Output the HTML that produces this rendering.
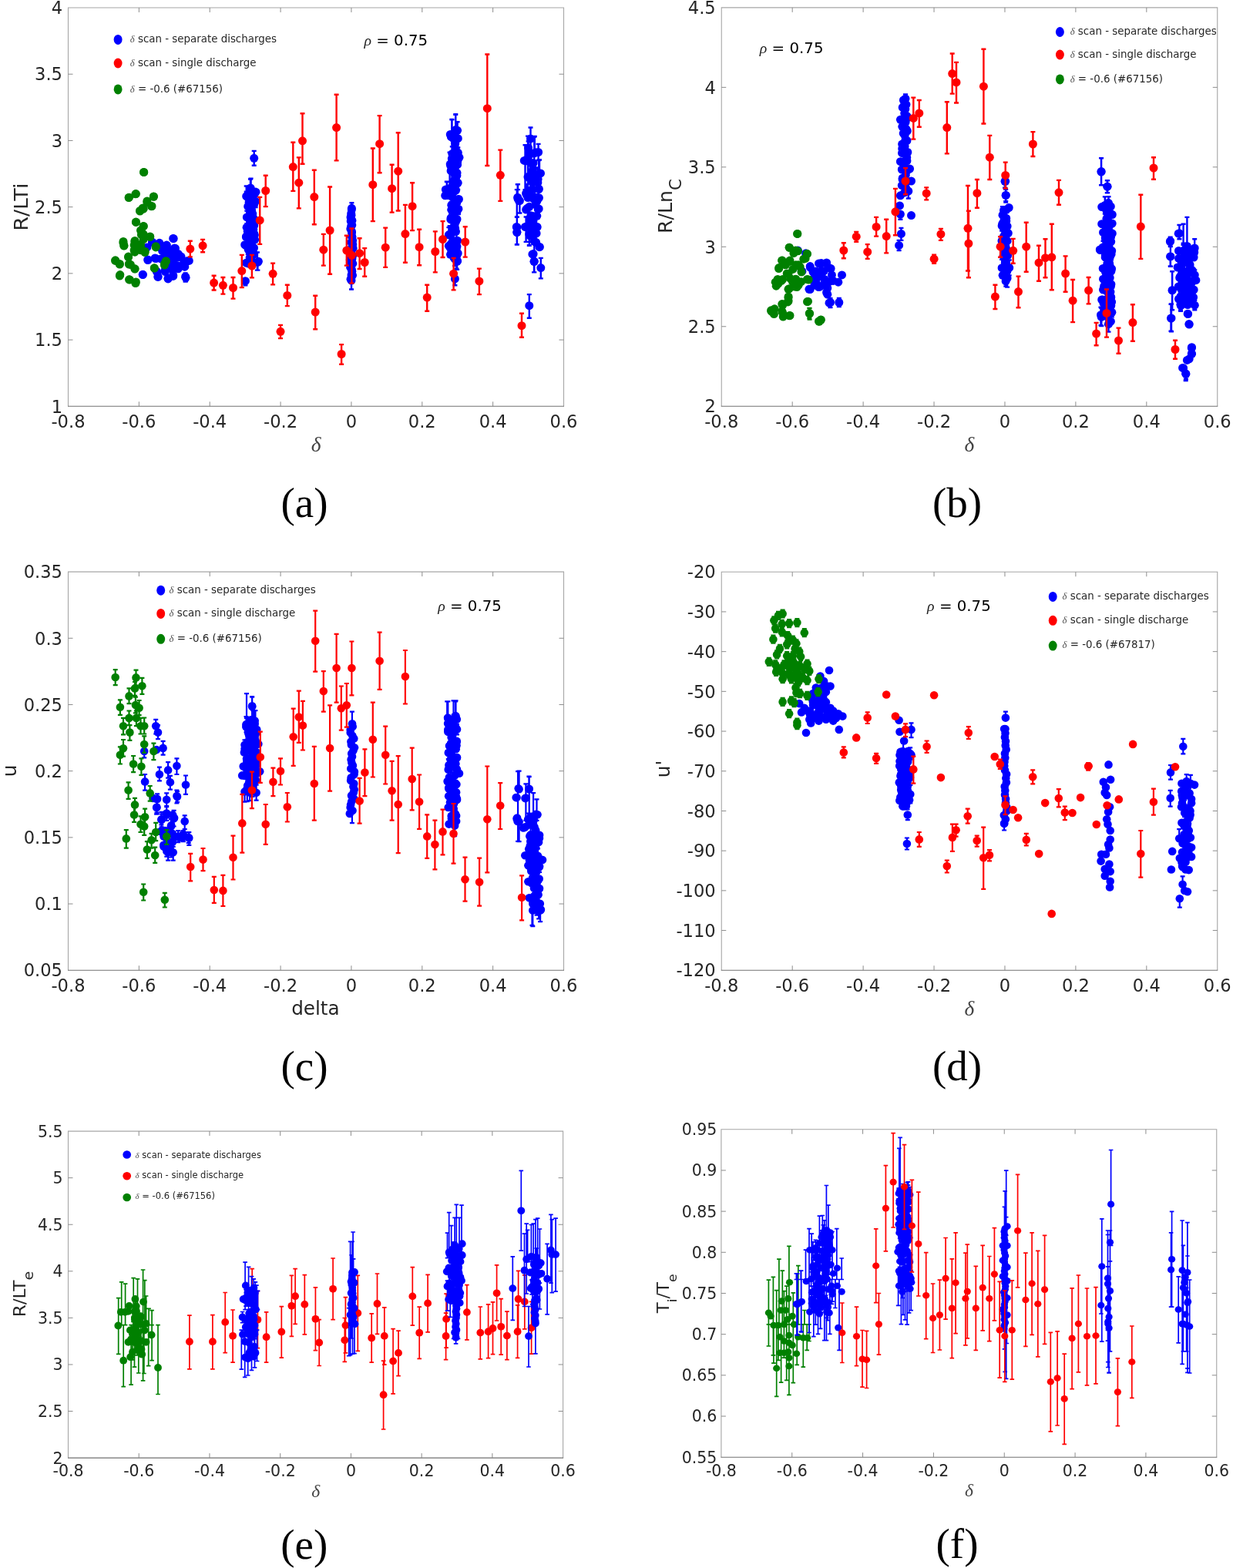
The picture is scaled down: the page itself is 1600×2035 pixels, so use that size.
<!DOCTYPE html>
<html><head><meta charset="utf-8"><title>Figure</title><style>
html,body{margin:0;padding:0;background:#fff;overflow:hidden;}
svg{display:block;}
</style></head><body>
<svg width="1600" height="2035" viewBox="0 0 1600 2035">
<rect width="1600" height="2035" fill="#fff"/>
<g font-family="'DejaVu Sans','Liberation Sans',sans-serif" font-size="22.6" fill="#262626"><path d="M88.5 527.3V10.0H731.5V527.3" fill="none" stroke="#a6a6a6" stroke-width="1.1"/><path d="M88.0 527.3H732.0" fill="none" stroke="#707070" stroke-width="1.1"/><text x="88.50" y="555.40" text-anchor="middle">-0.8</text><text x="180.36" y="555.40" text-anchor="middle">-0.6</text><text x="272.21" y="555.40" text-anchor="middle">-0.4</text><text x="364.07" y="555.40" text-anchor="middle">-0.2</text><text x="455.93" y="555.40" text-anchor="middle">0</text><text x="547.79" y="555.40" text-anchor="middle">0.2</text><text x="639.64" y="555.40" text-anchor="middle">0.4</text><text x="731.50" y="555.40" text-anchor="middle">0.6</text><text x="81.00" y="535.54" text-anchor="end">1</text><text x="81.00" y="449.32" text-anchor="end">1.5</text><text x="81.00" y="363.10" text-anchor="end">2</text><text x="81.00" y="276.89" text-anchor="end">2.5</text><text x="81.00" y="190.67" text-anchor="end">3</text><text x="81.00" y="104.45" text-anchor="end">3.5</text><text x="81.00" y="18.24" text-anchor="end">4</text><path d="M180.36 527.3v-6M180.36 10.0v6M272.21 527.3v-6M272.21 10.0v6M364.07 527.3v-6M364.07 10.0v6M455.93 527.3v-6M455.93 10.0v6M547.79 527.3v-6M547.79 10.0v6M639.64 527.3v-6M639.64 10.0v6M88.5 441.08h6M731.5 441.08h-6M88.5 354.87h6M731.5 354.87h-6M88.5 268.65h6M731.5 268.65h-6M88.5 182.43h6M731.5 182.43h-6M88.5 96.22h6M731.5 96.22h-6" stroke="#8c8c8c" stroke-width="1" fill="none"/></g>
<clipPath id="ca"><rect x="88.5" y="10.0" width="643.00" height="517.30"/></clipPath>
<g clip-path="url(#ca)">
<path d="M240.6 354.4V365.6M237.6 354.4h6.0M237.6 365.6h6.0M329.7 195.9V214.7M326.7 195.9h6.0M326.7 214.7h6.0M325.0 232.5V244.7M322.0 232.5h6.0M322.0 244.7h6.0M334.4 340.3V350.6M331.4 340.3h6.0M331.4 350.6h6.0M318.4 364.7V370.3M315.4 364.7h6.0M315.4 370.3h6.0M456.4 263.2V270.3M453.4 263.2h6.0M453.4 270.3h6.0M456.0 364.0V375.5M453.0 364.0h6.0M453.0 375.5h6.0M591.3 148.3V168.6M588.3 148.3h6.0M588.3 168.6h6.0M586.3 155.0V177.5M583.3 155.0h6.0M583.3 177.5h6.0M579.8 235.8V246.4M576.8 235.8h6.0M576.8 246.4h6.0M582.4 295.1V304.8M579.4 295.1h6.0M579.4 304.8h6.0M593.1 339.3V349.9M590.1 339.3h6.0M590.1 349.9h6.0M590.4 361.9V370.2M587.4 361.9h6.0M587.4 370.2h6.0M688.5 165.6V180.1M685.5 165.6h6.0M685.5 180.1h6.0M693.8 176.9V198.7M690.8 176.9h6.0M690.8 198.7h6.0M682.4 188.1V208.1M679.4 188.1h6.0M679.4 208.1h6.0M700.0 207.5V225.2M697.0 207.5h6.0M697.0 225.2h6.0M671.7 239.4V256.2M668.7 239.4h6.0M668.7 256.2h6.0M674.4 260.6V276.5M671.4 260.6h6.0M671.4 276.5h6.0M670.9 281.8V295.1M667.9 281.8h6.0M667.9 295.1h6.0M670.9 301.3V317.2M667.9 301.3h6.0M667.9 317.2h6.0M686.8 303.9V318.1M683.8 303.9h6.0M683.8 318.1h6.0M695.6 304.8V314.5M692.6 304.8h6.0M692.6 314.5h6.0M693.0 339.3V353.4M690.0 339.3h6.0M690.0 353.4h6.0M701.8 334.9V361.4M698.8 334.9h6.0M698.8 361.4h6.0M686.8 382.1V412.7M683.8 382.1h6.0M683.8 412.7h6.0M324.7 241.4V263.0M321.7 241.4h6.0M321.7 263.0h6.0M324.0 256.6V273.5M321.0 256.6h6.0M321.0 273.5h6.0M321.7 261.2V274.6M318.7 261.2h6.0M318.7 274.6h6.0M325.3 260.9V283.7M322.3 260.9h6.0M322.3 283.7h6.0M320.3 273.6V290.2M317.3 273.6h6.0M317.3 290.2h6.0M325.8 281.7V298.9M322.8 281.7h6.0M322.8 298.9h6.0M322.5 294.4V313.7M319.5 294.4h6.0M319.5 313.7h6.0M324.6 301.6V315.6M321.6 301.6h6.0M321.6 315.6h6.0M327.3 301.0V319.0M324.3 301.0h6.0M324.3 319.0h6.0M321.8 306.6V329.7M318.8 306.6h6.0M318.8 329.7h6.0M324.2 317.4V336.2M321.2 317.4h6.0M321.2 336.2h6.0M330.2 244.9V258.9M327.2 244.9h6.0M327.2 258.9h6.0M331.6 253.4V269.0M328.6 253.4h6.0M328.6 269.0h6.0M326.6 265.0V281.3M323.6 265.0h6.0M323.6 281.3h6.0M326.8 281.3V301.8M323.8 281.3h6.0M323.8 301.8h6.0M328.8 291.3V304.8M325.8 291.3h6.0M325.8 304.8h6.0M330.4 298.6V311.5M327.4 298.6h6.0M327.4 311.5h6.0M324.6 316.7V331.9M321.6 316.7h6.0M321.6 331.9h6.0M325.6 231.6V248.8M322.6 231.6h6.0M322.6 248.8h6.0M319.7 241.5V248.8M316.7 241.5h6.0M316.7 248.8h6.0M333.9 327.5V350.6M330.9 327.5h6.0M330.9 350.6h6.0M589.2 169.5V192.4M586.2 169.5h6.0M586.2 192.4h6.0M591.4 187.6V202.9M588.4 187.6h6.0M588.4 202.9h6.0M586.8 190.3V208.9M583.8 190.3h6.0M583.8 208.9h6.0M584.7 208.2V222.0M581.7 208.2h6.0M581.7 222.0h6.0M591.1 221.6V241.3M588.1 221.6h6.0M588.1 241.3h6.0M587.6 244.0V256.5M584.6 244.0h6.0M584.6 256.5h6.0M586.9 317.7V336.4M583.9 317.7h6.0M583.9 336.4h6.0M590.1 327.2V345.1M587.1 327.2h6.0M587.1 345.1h6.0M593.6 158.2V180.4M590.6 158.2h6.0M590.6 180.4h6.0M594.3 167.8V191.5M591.3 167.8h6.0M591.3 191.5h6.0M590.7 176.7V195.6M587.7 176.7h6.0M587.7 195.6h6.0M593.6 204.3V223.1M590.6 204.3h6.0M590.6 223.1h6.0M591.0 206.4V225.8M588.0 206.4h6.0M588.0 225.8h6.0M589.0 209.5V226.9M586.0 209.5h6.0M586.0 226.9h6.0M589.5 216.2V234.2M586.5 216.2h6.0M586.5 234.2h6.0M591.3 233.3V247.4M588.3 233.3h6.0M588.3 247.4h6.0M588.7 238.7V258.9M585.7 238.7h6.0M585.7 258.9h6.0M594.9 264.4V278.0M591.9 264.4h6.0M591.9 278.0h6.0M589.6 288.5V303.1M586.6 288.5h6.0M586.6 303.1h6.0M590.5 308.8V325.5M587.5 308.8h6.0M587.5 325.5h6.0M592.8 323.6V339.4M589.8 323.6h6.0M589.8 339.4h6.0M591.2 148.8V246.1M588.2 148.8h6.0M588.2 246.1h6.0M586.5 155.3V246.1M583.5 155.3h6.0M583.5 246.1h6.0M594.2 181.3V246.1M591.2 181.3h6.0M591.2 246.1h6.0M583.6 197.8V246.1M580.6 197.8h6.0M580.6 246.1h6.0M580.0 236.1V246.1M577.0 236.1h6.0M577.0 246.1h6.0M592.4 293.3V348.7M589.4 293.3h6.0M589.4 348.7h6.0M583.6 293.3V333.4M580.6 293.3h6.0M580.6 333.4h6.0M685.6 183.4V200.4M682.6 183.4h6.0M682.6 200.4h6.0M685.1 198.1V213.1M682.1 198.1h6.0M682.1 213.1h6.0M691.1 282.5V297.0M688.1 282.5h6.0M688.1 297.0h6.0M698.6 186.9V208.2M695.6 186.9h6.0M695.6 208.2h6.0M697.9 217.4V236.3M694.9 217.4h6.0M694.9 236.3h6.0M697.9 227.9V245.8M694.9 227.9h6.0M694.9 245.8h6.0M690.4 235.7V256.2M687.4 235.7h6.0M687.4 256.2h6.0M696.9 252.3V269.7M693.9 252.3h6.0M693.9 269.7h6.0M690.7 276.5V289.0M687.7 276.5h6.0M687.7 289.0h6.0M692.0 276.7V296.7M689.0 276.7h6.0M689.0 296.7h6.0M692.7 283.7V300.4M689.7 283.7h6.0M689.7 300.4h6.0M688.5 165.4V246.1M685.5 165.4h6.0M685.5 246.1h6.0M685.0 176.6V246.1M682.0 176.6h6.0M682.0 246.1h6.0M693.3 177.7V246.1M690.3 177.7h6.0M690.3 246.1h6.0M681.5 188.3V246.1M678.5 188.3h6.0M678.5 246.1h6.0M699.2 207.8V246.1M696.2 207.8h6.0M696.2 246.1h6.0M672.0 239.1V246.1M669.0 239.1h6.0M669.0 246.1h6.0M670.8 281.5V246.1M667.8 281.5h6.0M667.8 246.1h6.0M683.8 239.1V246.1M680.8 239.1h6.0M680.8 246.1h6.0M670.8 281.5V317.5M667.8 281.5h6.0M667.8 317.5h6.0M693.3 281.5V353.4M690.3 281.5h6.0M690.3 353.4h6.0M682.6 281.5V313.9M679.6 281.5h6.0M679.6 313.9h6.0M686.8 281.5V318.7M683.8 281.5h6.0M683.8 318.7h6.0M241.1 360.3V365.0M238.1 360.3h6.0M238.1 365.0h6.0" stroke="#0000ff" stroke-width="2.4" fill="none"/>
<g fill="#0000ff"><circle cx="224.7" cy="309.4" r="5.5"/><circle cx="197.5" cy="314.1" r="5.5"/><circle cx="206.9" cy="316.9" r="5.5"/><circle cx="216.2" cy="318.8" r="5.5"/><circle cx="227.5" cy="322.5" r="5.5"/><circle cx="212.5" cy="326.2" r="5.5"/><circle cx="221.9" cy="330.0" r="5.5"/><circle cx="231.2" cy="333.8" r="5.5"/><circle cx="191.9" cy="337.5" r="5.5"/><circle cx="202.2" cy="335.6" r="5.5"/><circle cx="212.5" cy="335.6" r="5.5"/><circle cx="223.8" cy="337.5" r="5.5"/><circle cx="238.8" cy="339.4" r="5.5"/><circle cx="245.3" cy="338.4" r="5.5"/><circle cx="220.0" cy="345.0" r="5.5"/><circle cx="231.2" cy="345.0" r="5.5"/><circle cx="239.7" cy="345.9" r="5.5"/><circle cx="185.3" cy="356.2" r="5.5"/><circle cx="204.1" cy="353.4" r="5.5"/><circle cx="205.0" cy="359.1" r="5.5"/><circle cx="214.4" cy="352.5" r="5.5"/><circle cx="218.1" cy="361.9" r="5.5"/><circle cx="224.7" cy="357.2" r="5.5"/><circle cx="231.2" cy="348.8" r="5.5"/><circle cx="240.6" cy="359.1" r="5.5"/><circle cx="329.7" cy="205.3" r="5.5"/><circle cx="325.0" cy="244.7" r="5.5"/><circle cx="320.3" cy="255.0" r="5.5"/><circle cx="327.8" cy="251.2" r="5.5"/><circle cx="323.1" cy="262.5" r="5.5"/><circle cx="329.7" cy="265.3" r="5.5"/><circle cx="327.8" cy="277.5" r="5.5"/><circle cx="325.0" cy="285.0" r="5.5"/><circle cx="329.7" cy="292.5" r="5.5"/><circle cx="321.2" cy="300.0" r="5.5"/><circle cx="326.9" cy="303.8" r="5.5"/><circle cx="319.4" cy="307.5" r="5.5"/><circle cx="330.6" cy="311.2" r="5.5"/><circle cx="319.4" cy="318.8" r="5.5"/><circle cx="327.8" cy="322.5" r="5.5"/><circle cx="329.7" cy="330.0" r="5.5"/><circle cx="325.0" cy="335.6" r="5.5"/><circle cx="319.4" cy="341.2" r="5.5"/><circle cx="334.4" cy="340.3" r="5.5"/><circle cx="318.4" cy="364.7" r="5.5"/><circle cx="456.4" cy="270.3" r="5.5"/><circle cx="456.0" cy="279.2" r="5.5"/><circle cx="456.9" cy="286.2" r="5.5"/><circle cx="455.7" cy="293.3" r="5.5"/><circle cx="456.4" cy="300.4" r="5.5"/><circle cx="456.9" cy="307.4" r="5.5"/><circle cx="456.0" cy="314.5" r="5.5"/><circle cx="456.4" cy="321.6" r="5.5"/><circle cx="455.7" cy="328.7" r="5.5"/><circle cx="456.9" cy="335.7" r="5.5"/><circle cx="456.0" cy="342.8" r="5.5"/><circle cx="456.4" cy="349.9" r="5.5"/><circle cx="456.0" cy="357.0" r="5.5"/><circle cx="456.0" cy="364.0" r="5.5"/><circle cx="591.3" cy="168.6" r="5.5"/><circle cx="586.3" cy="177.5" r="5.5"/><circle cx="587.7" cy="199.6" r="5.5"/><circle cx="594.8" cy="204.5" r="5.5"/><circle cx="585.6" cy="212.8" r="5.5"/><circle cx="591.3" cy="224.7" r="5.5"/><circle cx="593.1" cy="237.1" r="5.5"/><circle cx="579.8" cy="246.4" r="5.5"/><circle cx="581.6" cy="253.5" r="5.5"/><circle cx="593.9" cy="258.8" r="5.5"/><circle cx="586.9" cy="265.0" r="5.5"/><circle cx="591.3" cy="273.8" r="5.5"/><circle cx="587.4" cy="280.0" r="5.5"/><circle cx="591.3" cy="288.0" r="5.5"/><circle cx="590.4" cy="296.8" r="5.5"/><circle cx="582.4" cy="304.8" r="5.5"/><circle cx="584.2" cy="321.6" r="5.5"/><circle cx="591.3" cy="320.7" r="5.5"/><circle cx="593.1" cy="328.7" r="5.5"/><circle cx="586.0" cy="326.9" r="5.5"/><circle cx="593.1" cy="339.3" r="5.5"/><circle cx="590.4" cy="361.9" r="5.5"/><circle cx="688.5" cy="180.1" r="5.5"/><circle cx="693.8" cy="198.7" r="5.5"/><circle cx="682.4" cy="208.1" r="5.5"/><circle cx="689.4" cy="212.0" r="5.5"/><circle cx="700.0" cy="225.2" r="5.5"/><circle cx="686.8" cy="229.6" r="5.5"/><circle cx="699.2" cy="245.6" r="5.5"/><circle cx="671.7" cy="256.2" r="5.5"/><circle cx="674.4" cy="260.6" r="5.5"/><circle cx="683.2" cy="252.6" r="5.5"/><circle cx="692.1" cy="257.9" r="5.5"/><circle cx="699.2" cy="257.0" r="5.5"/><circle cx="684.1" cy="270.3" r="5.5"/><circle cx="698.3" cy="271.7" r="5.5"/><circle cx="690.3" cy="280.9" r="5.5"/><circle cx="670.9" cy="295.1" r="5.5"/><circle cx="683.2" cy="294.2" r="5.5"/><circle cx="695.6" cy="295.1" r="5.5"/><circle cx="670.9" cy="301.3" r="5.5"/><circle cx="686.8" cy="303.9" r="5.5"/><circle cx="695.6" cy="314.5" r="5.5"/><circle cx="700.0" cy="320.7" r="5.5"/><circle cx="692.1" cy="329.5" r="5.5"/><circle cx="693.0" cy="339.3" r="5.5"/><circle cx="701.8" cy="347.6" r="5.5"/><circle cx="686.8" cy="396.7" r="5.5"/><circle cx="456.3" cy="272.1" r="5.5"/><circle cx="455.7" cy="277.1" r="5.5"/><circle cx="455.0" cy="282.1" r="5.5"/><circle cx="455.2" cy="287.1" r="5.5"/><circle cx="456.8" cy="292.1" r="5.5"/><circle cx="454.8" cy="297.1" r="5.5"/><circle cx="456.5" cy="302.1" r="5.5"/><circle cx="456.6" cy="307.2" r="5.5"/><circle cx="457.6" cy="312.2" r="5.5"/><circle cx="457.7" cy="317.2" r="5.5"/><circle cx="458.1" cy="322.2" r="5.5"/><circle cx="455.7" cy="327.2" r="5.5"/><circle cx="457.5" cy="332.2" r="5.5"/><circle cx="454.3" cy="337.2" r="5.5"/><circle cx="457.8" cy="342.2" r="5.5"/><circle cx="454.7" cy="347.2" r="5.5"/><circle cx="456.8" cy="352.2" r="5.5"/><circle cx="457.5" cy="357.3" r="5.5"/><circle cx="455.0" cy="362.3" r="5.5"/><circle cx="324.7" cy="252.2" r="5.5"/><circle cx="322.6" cy="257.0" r="5.5"/><circle cx="324.0" cy="265.0" r="5.5"/><circle cx="321.7" cy="267.9" r="5.5"/><circle cx="325.3" cy="272.3" r="5.5"/><circle cx="326.4" cy="273.4" r="5.5"/><circle cx="320.3" cy="281.9" r="5.5"/><circle cx="325.8" cy="290.3" r="5.5"/><circle cx="326.9" cy="290.1" r="5.5"/><circle cx="320.1" cy="295.2" r="5.5"/><circle cx="322.5" cy="304.1" r="5.5"/><circle cx="324.6" cy="308.6" r="5.5"/><circle cx="323.1" cy="309.2" r="5.5"/><circle cx="327.3" cy="310.0" r="5.5"/><circle cx="321.8" cy="318.1" r="5.5"/><circle cx="324.2" cy="326.8" r="5.5"/><circle cx="322.3" cy="324.2" r="5.5"/><circle cx="324.1" cy="334.4" r="5.5"/><circle cx="325.5" cy="337.6" r="5.5"/><circle cx="332.0" cy="249.2" r="5.5"/><circle cx="327.4" cy="248.2" r="5.5"/><circle cx="330.2" cy="251.9" r="5.5"/><circle cx="331.6" cy="261.2" r="5.5"/><circle cx="324.4" cy="269.2" r="5.5"/><circle cx="326.6" cy="273.2" r="5.5"/><circle cx="325.2" cy="277.6" r="5.5"/><circle cx="327.7" cy="279.9" r="5.5"/><circle cx="327.4" cy="284.3" r="5.5"/><circle cx="326.8" cy="291.5" r="5.5"/><circle cx="328.8" cy="298.0" r="5.5"/><circle cx="328.0" cy="302.6" r="5.5"/><circle cx="330.4" cy="305.1" r="5.5"/><circle cx="329.3" cy="309.8" r="5.5"/><circle cx="326.6" cy="310.8" r="5.5"/><circle cx="326.3" cy="317.4" r="5.5"/><circle cx="328.9" cy="322.6" r="5.5"/><circle cx="324.6" cy="324.3" r="5.5"/><circle cx="325.0" cy="335.2" r="5.5"/><circle cx="325.6" cy="336.1" r="5.5"/><circle cx="325.1" cy="243.9" r="5.5"/><circle cx="319.7" cy="254.7" r="5.5"/><circle cx="329.5" cy="250.8" r="5.5"/><circle cx="328.5" cy="265.5" r="5.5"/><circle cx="326.5" cy="276.4" r="5.5"/><circle cx="329.5" cy="284.2" r="5.5"/><circle cx="321.6" cy="300.0" r="5.5"/><circle cx="319.7" cy="306.8" r="5.5"/><circle cx="329.5" cy="302.9" r="5.5"/><circle cx="317.7" cy="317.7" r="5.5"/><circle cx="329.5" cy="321.6" r="5.5"/><circle cx="322.6" cy="342.2" r="5.5"/><circle cx="335.4" cy="339.3" r="5.5"/><circle cx="584.3" cy="174.4" r="5.5"/><circle cx="589.2" cy="180.9" r="5.5"/><circle cx="591.4" cy="195.2" r="5.5"/><circle cx="586.8" cy="199.6" r="5.5"/><circle cx="586.3" cy="205.8" r="5.5"/><circle cx="589.9" cy="208.7" r="5.5"/><circle cx="584.7" cy="215.1" r="5.5"/><circle cx="585.1" cy="221.7" r="5.5"/><circle cx="591.3" cy="230.8" r="5.5"/><circle cx="591.1" cy="231.4" r="5.5"/><circle cx="585.4" cy="243.3" r="5.5"/><circle cx="587.6" cy="250.3" r="5.5"/><circle cx="585.9" cy="254.9" r="5.5"/><circle cx="585.8" cy="266.2" r="5.5"/><circle cx="592.0" cy="270.6" r="5.5"/><circle cx="585.7" cy="272.3" r="5.5"/><circle cx="585.1" cy="282.8" r="5.5"/><circle cx="584.9" cy="284.9" r="5.5"/><circle cx="589.8" cy="291.0" r="5.5"/><circle cx="589.1" cy="294.5" r="5.5"/><circle cx="587.6" cy="298.8" r="5.5"/><circle cx="585.0" cy="305.1" r="5.5"/><circle cx="588.1" cy="313.6" r="5.5"/><circle cx="585.3" cy="316.3" r="5.5"/><circle cx="588.9" cy="316.2" r="5.5"/><circle cx="586.9" cy="327.1" r="5.5"/><circle cx="584.5" cy="330.3" r="5.5"/><circle cx="590.1" cy="336.2" r="5.5"/><circle cx="593.6" cy="169.3" r="5.5"/><circle cx="594.3" cy="179.7" r="5.5"/><circle cx="590.7" cy="186.2" r="5.5"/><circle cx="594.3" cy="198.2" r="5.5"/><circle cx="588.0" cy="204.2" r="5.5"/><circle cx="593.7" cy="209.4" r="5.5"/><circle cx="593.6" cy="213.7" r="5.5"/><circle cx="591.0" cy="216.1" r="5.5"/><circle cx="589.0" cy="218.2" r="5.5"/><circle cx="589.5" cy="225.2" r="5.5"/><circle cx="592.9" cy="227.7" r="5.5"/><circle cx="592.3" cy="236.4" r="5.5"/><circle cx="588.7" cy="234.9" r="5.5"/><circle cx="591.3" cy="240.4" r="5.5"/><circle cx="591.6" cy="247.0" r="5.5"/><circle cx="588.7" cy="248.8" r="5.5"/><circle cx="591.3" cy="263.2" r="5.5"/><circle cx="592.9" cy="262.4" r="5.5"/><circle cx="594.9" cy="271.2" r="5.5"/><circle cx="593.1" cy="272.5" r="5.5"/><circle cx="593.0" cy="284.4" r="5.5"/><circle cx="589.6" cy="295.8" r="5.5"/><circle cx="589.5" cy="299.8" r="5.5"/><circle cx="591.5" cy="300.6" r="5.5"/><circle cx="593.7" cy="312.3" r="5.5"/><circle cx="590.5" cy="317.1" r="5.5"/><circle cx="592.1" cy="323.4" r="5.5"/><circle cx="592.8" cy="331.5" r="5.5"/><circle cx="591.2" cy="168.9" r="5.5"/><circle cx="585.4" cy="177.7" r="5.5"/><circle cx="596.0" cy="204.3" r="5.5"/><circle cx="584.2" cy="213.1" r="5.5"/><circle cx="593.0" cy="224.3" r="5.5"/><circle cx="594.2" cy="237.3" r="5.5"/><circle cx="578.3" cy="246.1" r="5.5"/><circle cx="577.7" cy="253.8" r="5.5"/><circle cx="595.4" cy="258.5" r="5.5"/><circle cx="593.0" cy="274.4" r="5.5"/><circle cx="587.1" cy="280.3" r="5.5"/><circle cx="591.2" cy="287.4" r="5.5"/><circle cx="590.7" cy="296.8" r="5.5"/><circle cx="583.0" cy="304.5" r="5.5"/><circle cx="582.4" cy="319.2" r="5.5"/><circle cx="593.0" cy="319.8" r="5.5"/><circle cx="594.2" cy="328.7" r="5.5"/><circle cx="593.6" cy="338.7" r="5.5"/><circle cx="685.6" cy="191.9" r="5.5"/><circle cx="690.1" cy="199.3" r="5.5"/><circle cx="685.1" cy="205.6" r="5.5"/><circle cx="692.1" cy="211.6" r="5.5"/><circle cx="691.6" cy="219.3" r="5.5"/><circle cx="690.4" cy="223.5" r="5.5"/><circle cx="692.1" cy="232.1" r="5.5"/><circle cx="686.6" cy="230.7" r="5.5"/><circle cx="691.2" cy="236.5" r="5.5"/><circle cx="685.1" cy="256.6" r="5.5"/><circle cx="688.1" cy="254.6" r="5.5"/><circle cx="686.9" cy="268.3" r="5.5"/><circle cx="688.9" cy="279.7" r="5.5"/><circle cx="687.7" cy="283.4" r="5.5"/><circle cx="687.3" cy="289.5" r="5.5"/><circle cx="691.1" cy="289.7" r="5.5"/><circle cx="690.7" cy="299.8" r="5.5"/><circle cx="687.9" cy="306.1" r="5.5"/><circle cx="698.6" cy="197.5" r="5.5"/><circle cx="697.9" cy="226.8" r="5.5"/><circle cx="698.1" cy="232.4" r="5.5"/><circle cx="697.9" cy="236.9" r="5.5"/><circle cx="690.4" cy="245.9" r="5.5"/><circle cx="691.4" cy="245.8" r="5.5"/><circle cx="690.5" cy="253.2" r="5.5"/><circle cx="696.9" cy="261.0" r="5.5"/><circle cx="695.0" cy="259.9" r="5.5"/><circle cx="694.9" cy="265.6" r="5.5"/><circle cx="690.7" cy="282.8" r="5.5"/><circle cx="692.0" cy="286.7" r="5.5"/><circle cx="692.7" cy="292.0" r="5.5"/><circle cx="697.1" cy="294.7" r="5.5"/><circle cx="696.1" cy="302.9" r="5.5"/><circle cx="695.0" cy="197.8" r="5.5"/><circle cx="680.3" cy="208.4" r="5.5"/><circle cx="701.5" cy="224.9" r="5.5"/><circle cx="685.0" cy="229.6" r="5.5"/><circle cx="699.2" cy="245.0" r="5.5"/><circle cx="682.6" cy="250.8" r="5.5"/><circle cx="699.2" cy="256.7" r="5.5"/><circle cx="699.2" cy="270.9" r="5.5"/><circle cx="682.6" cy="272.1" r="5.5"/><circle cx="696.8" cy="280.3" r="5.5"/><circle cx="681.5" cy="294.5" r="5.5"/><circle cx="696.8" cy="294.5" r="5.5"/><circle cx="687.4" cy="305.1" r="5.5"/><circle cx="693.3" cy="313.3" r="5.5"/><circle cx="700.3" cy="320.4" r="5.5"/><circle cx="690.9" cy="329.9" r="5.5"/><circle cx="693.3" cy="339.3" r="5.5"/><circle cx="672.0" cy="257.9" r="5.5"/><circle cx="673.2" cy="260.3" r="5.5"/><circle cx="670.3" cy="294.5" r="5.5"/><circle cx="670.8" cy="301.6" r="5.5"/><circle cx="225.2" cy="309.7" r="5.5"/><circle cx="197.5" cy="314.4" r="5.5"/><circle cx="206.9" cy="315.3" r="5.5"/><circle cx="216.2" cy="318.1" r="5.5"/><circle cx="226.6" cy="321.9" r="5.5"/><circle cx="190.9" cy="320.9" r="5.5"/><circle cx="210.6" cy="325.6" r="5.5"/><circle cx="220.0" cy="324.7" r="5.5"/><circle cx="231.2" cy="329.4" r="5.5"/><circle cx="235.0" cy="333.1" r="5.5"/><circle cx="191.9" cy="336.9" r="5.5"/><circle cx="201.2" cy="335.0" r="5.5"/><circle cx="208.7" cy="335.9" r="5.5"/><circle cx="219.1" cy="331.2" r="5.5"/><circle cx="225.6" cy="335.9" r="5.5"/><circle cx="242.5" cy="338.7" r="5.5"/><circle cx="239.7" cy="346.2" r="5.5"/><circle cx="229.4" cy="344.4" r="5.5"/><circle cx="223.7" cy="350.0" r="5.5"/><circle cx="214.4" cy="350.0" r="5.5"/><circle cx="203.1" cy="351.9" r="5.5"/><circle cx="205.0" cy="359.4" r="5.5"/><circle cx="218.1" cy="361.2" r="5.5"/><circle cx="224.7" cy="358.4" r="5.5"/><circle cx="185.3" cy="356.6" r="5.5"/><circle cx="241.1" cy="360.3" r="5.5"/></g>
<path d="M246.8 312.8V333.4M243.8 312.8h6.0M243.8 333.4h6.0M263.1 310.9V327.2M260.1 310.9h6.0M260.1 327.2h6.0M277.6 357.8V376.5M274.6 357.8h6.0M274.6 376.5h6.0M289.4 360.0V381.6M286.4 360.0h6.0M286.4 381.6h6.0M302.5 360.0V387.6M299.5 360.0h6.0M299.5 387.6h6.0M313.8 330.9V373.1M310.8 330.9h6.0M310.8 373.1h6.0M326.9 330.9V360.4M323.9 330.9h6.0M323.9 360.4h6.0M337.2 255.9V316.9M334.2 255.9h6.0M334.2 316.9h6.0M344.7 227.8V268.1M341.7 227.8h6.0M341.7 268.1h6.0M354.1 341.6V369.4M351.1 341.6h6.0M351.1 369.4h6.0M372.8 369.8V397.1M369.8 369.8h6.0M369.8 397.1h6.0M364.0 421.9V439.1M361.0 421.9h6.0M361.0 439.1h6.0M380.3 184.7V247.9M377.3 184.7h6.0M377.3 247.9h6.0M387.8 204.4V270.4M384.8 204.4h6.0M384.8 270.4h6.0M392.5 147.2V212.8M389.5 147.2h6.0M389.5 212.8h6.0M407.8 220.8V291.2M404.8 220.8h6.0M404.8 291.2h6.0M436.6 122.7V208.4M433.6 122.7h6.0M433.6 208.4h6.0M428.1 242.5V355.7M425.1 242.5h6.0M425.1 355.7h6.0M419.8 303.9V344.6M416.8 303.9h6.0M416.8 344.6h6.0M409.2 383.8V427.2M406.2 383.8h6.0M406.2 427.2h6.0M443.1 447.1V472.8M440.1 447.1h6.0M440.1 472.8h6.0M449.8 305.7V344.6M446.8 305.7h6.0M446.8 344.6h6.0M456.4 296.5V367.6M453.4 296.5h6.0M453.4 367.6h6.0M466.6 309.2V349.0M463.6 309.2h6.0M463.6 349.0h6.0M473.2 322.1V358.7M470.2 322.1h6.0M470.2 358.7h6.0M483.8 192.5V287.1M480.8 192.5h6.0M480.8 287.1h6.0M492.6 150.1V224.3M489.6 150.1h6.0M489.6 224.3h6.0M500.2 295.6V346.9M497.2 295.6h6.0M497.2 346.9h6.0M508.6 213.7V275.6M505.6 213.7h6.0M505.6 275.6h6.0M516.7 172.2V273.5M513.7 172.2h6.0M513.7 273.5h6.0M525.9 265.9V340.7M522.9 265.9h6.0M522.9 340.7h6.0M535.1 237.2V299.1M532.1 237.2h6.0M532.1 299.1h6.0M544.1 297.7V344.2M541.1 297.7h6.0M541.1 344.2h6.0M554.2 369.7V403.8M551.2 369.7h6.0M551.2 403.8h6.0M564.8 300.4V353.4M561.8 300.4h6.0M561.8 353.4h6.0M574.5 287.1V334.0M571.5 287.1h6.0M571.5 334.0h6.0M588.6 334.9V376.4M585.6 334.9h6.0M585.6 376.4h6.0M603.7 294.2V333.6M600.7 294.2h6.0M600.7 333.6h6.0M621.9 348.6V382.1M618.9 348.6h6.0M618.9 382.1h6.0M632.3 70.5V215.0M629.3 70.5h6.0M629.3 215.0h6.0M649.3 194.6V260.9M646.3 194.6h6.0M646.3 260.9h6.0M677.0 406.8V437.8M674.0 406.8h6.0M674.0 437.8h6.0" stroke="#ff0000" stroke-width="2.4" fill="none"/>
<g fill="#ff0000"><circle cx="246.8" cy="323.1" r="5.5"/><circle cx="263.1" cy="318.8" r="5.5"/><circle cx="277.6" cy="367.1" r="5.5"/><circle cx="289.4" cy="370.3" r="5.5"/><circle cx="302.5" cy="373.5" r="5.5"/><circle cx="313.8" cy="351.6" r="5.5"/><circle cx="326.9" cy="345.0" r="5.5"/><circle cx="337.2" cy="285.9" r="5.5"/><circle cx="344.7" cy="247.5" r="5.5"/><circle cx="354.1" cy="355.3" r="5.5"/><circle cx="372.8" cy="383.4" r="5.5"/><circle cx="364.0" cy="430.3" r="5.5"/><circle cx="380.3" cy="216.6" r="5.5"/><circle cx="387.8" cy="237.2" r="5.5"/><circle cx="392.5" cy="182.8" r="5.5"/><circle cx="407.8" cy="255.6" r="5.5"/><circle cx="436.6" cy="165.6" r="5.5"/><circle cx="428.1" cy="299.0" r="5.5"/><circle cx="419.8" cy="324.2" r="5.5"/><circle cx="409.2" cy="405.1" r="5.5"/><circle cx="443.1" cy="459.5" r="5.5"/><circle cx="449.8" cy="325.1" r="5.5"/><circle cx="456.4" cy="331.3" r="5.5"/><circle cx="466.6" cy="328.7" r="5.5"/><circle cx="473.2" cy="340.5" r="5.5"/><circle cx="483.8" cy="239.7" r="5.5"/><circle cx="492.6" cy="186.7" r="5.5"/><circle cx="500.2" cy="321.2" r="5.5"/><circle cx="508.6" cy="244.7" r="5.5"/><circle cx="516.7" cy="222.2" r="5.5"/><circle cx="525.9" cy="303.6" r="5.5"/><circle cx="535.1" cy="267.7" r="5.5"/><circle cx="544.1" cy="320.7" r="5.5"/><circle cx="554.2" cy="386.1" r="5.5"/><circle cx="564.8" cy="326.5" r="5.5"/><circle cx="574.5" cy="310.6" r="5.5"/><circle cx="588.6" cy="355.2" r="5.5"/><circle cx="603.7" cy="314.0" r="5.5"/><circle cx="621.9" cy="364.9" r="5.5"/><circle cx="632.3" cy="140.7" r="5.5"/><circle cx="649.3" cy="227.3" r="5.5"/><circle cx="677.0" cy="422.7" r="5.5"/></g>
<g fill="#008000"><circle cx="186.6" cy="223.5" r="5.5"/><circle cx="167.1" cy="256.5" r="5.5"/><circle cx="175.9" cy="251.8" r="5.5"/><circle cx="199.4" cy="255.0" r="5.5"/><circle cx="190.9" cy="262.5" r="5.5"/><circle cx="196.6" cy="267.8" r="5.5"/><circle cx="181.6" cy="273.4" r="5.5"/><circle cx="185.3" cy="270.0" r="5.5"/><circle cx="176.5" cy="288.4" r="5.5"/><circle cx="186.2" cy="293.4" r="5.5"/><circle cx="182.5" cy="299.1" r="5.5"/><circle cx="183.4" cy="304.7" r="5.5"/><circle cx="194.7" cy="307.5" r="5.5"/><circle cx="160.0" cy="313.5" r="5.5"/><circle cx="160.9" cy="318.8" r="5.5"/><circle cx="175.0" cy="313.5" r="5.5"/><circle cx="175.9" cy="322.5" r="5.5"/><circle cx="182.5" cy="319.7" r="5.5"/><circle cx="188.1" cy="326.2" r="5.5"/><circle cx="175.0" cy="327.2" r="5.5"/><circle cx="202.2" cy="319.7" r="5.5"/><circle cx="166.6" cy="333.8" r="5.5"/><circle cx="149.7" cy="338.4" r="5.5"/><circle cx="155.3" cy="343.1" r="5.5"/><circle cx="167.5" cy="343.1" r="5.5"/><circle cx="175.0" cy="348.8" r="5.5"/><circle cx="215.3" cy="339.4" r="5.5"/><circle cx="213.4" cy="344.1" r="5.5"/><circle cx="200.3" cy="347.8" r="5.5"/><circle cx="155.3" cy="358.1" r="5.5"/><circle cx="167.5" cy="362.8" r="5.5"/><circle cx="175.9" cy="367.5" r="5.5"/><circle cx="186.7" cy="223.4" r="5.5"/><circle cx="167.5" cy="256.2" r="5.5"/><circle cx="176.4" cy="251.6" r="5.5"/><circle cx="199.4" cy="255.3" r="5.5"/><circle cx="190.9" cy="260.9" r="5.5"/><circle cx="197.0" cy="267.5" r="5.5"/><circle cx="181.6" cy="274.1" r="5.5"/><circle cx="186.2" cy="271.2" r="5.5"/><circle cx="176.4" cy="288.1" r="5.5"/><circle cx="186.2" cy="293.7" r="5.5"/><circle cx="183.4" cy="299.4" r="5.5"/><circle cx="186.2" cy="304.1" r="5.5"/><circle cx="194.7" cy="306.9" r="5.5"/><circle cx="160.0" cy="315.3" r="5.5"/><circle cx="160.9" cy="319.1" r="5.5"/><circle cx="175.0" cy="312.5" r="5.5"/><circle cx="174.1" cy="318.1" r="5.5"/><circle cx="182.5" cy="317.2" r="5.5"/><circle cx="186.2" cy="310.6" r="5.5"/><circle cx="174.1" cy="324.7" r="5.5"/><circle cx="182.5" cy="324.7" r="5.5"/><circle cx="188.1" cy="327.5" r="5.5"/><circle cx="202.2" cy="320.9" r="5.5"/><circle cx="166.6" cy="333.1" r="5.5"/><circle cx="149.7" cy="337.8" r="5.5"/><circle cx="155.3" cy="342.5" r="5.5"/><circle cx="167.5" cy="342.5" r="5.5"/><circle cx="175.0" cy="349.1" r="5.5"/><circle cx="200.3" cy="348.1" r="5.5"/><circle cx="215.3" cy="338.7" r="5.5"/><circle cx="213.4" cy="342.5" r="5.5"/><circle cx="155.8" cy="356.6" r="5.5"/><circle cx="168.4" cy="363.1" r="5.5"/><circle cx="176.4" cy="365.9" r="5.5"/><circle cx="169.4" cy="343.4" r="5.5"/><circle cx="176.9" cy="321.9" r="5.5"/></g>
</g>
<ellipse cx="153.1" cy="51.4" rx="5.45" ry="6.5" fill="#0000ff"/><text x="168.75" y="55.0" font-family="'DejaVu Sans','Liberation Sans',sans-serif" font-size="13.4" fill="#262626"><tspan font-family="'Liberation Serif','DejaVu Serif',serif" font-style="italic" font-size="12.7" fill="#555">δ</tspan> scan - separate discharges</text><ellipse cx="153.1" cy="82.0" rx="5.45" ry="6.5" fill="#ff0000"/><text x="168.75" y="86.0" font-family="'DejaVu Sans','Liberation Sans',sans-serif" font-size="13.4" fill="#262626"><tspan font-family="'Liberation Serif','DejaVu Serif',serif" font-style="italic" font-size="12.7" fill="#555">δ</tspan> scan - single discharge</text><ellipse cx="153.1" cy="115.9" rx="5.45" ry="6.5" fill="#008000"/><text x="168.75" y="119.5" font-family="'DejaVu Sans','Liberation Sans',sans-serif" font-size="13.4" fill="#262626"><tspan font-family="'Liberation Serif','DejaVu Serif',serif" font-style="italic" font-size="12.7" fill="#555">δ</tspan> = -0.6 (#67156)</text>
<text x="472.4" y="59.2" font-family="'DejaVu Sans','Liberation Sans',sans-serif" font-size="19.8" fill="#000"><tspan font-family="'Liberation Serif','DejaVu Serif',serif" font-style="italic" fill="#222">ρ</tspan> = 0.75</text>
<text x="410" y="585.6" font-family="'Liberation Serif','DejaVu Serif',serif" font-style="italic" font-size="27.4" fill="#444" text-anchor="middle">δ</text>
<text transform="translate(35.9 268.7) rotate(-90) scale(1.089 1)" font-family="'DejaVu Sans','Liberation Sans',sans-serif" font-size="24.7" fill="#262626" text-anchor="middle">R/LTi</text>
<text x="395" y="671" font-family="'Liberation Serif','DejaVu Serif',serif" font-size="55" fill="#000" text-anchor="middle">(a)</text>
<g font-family="'DejaVu Sans','Liberation Sans',sans-serif" font-size="22.6" fill="#262626"><path d="M936.25 527.25V9.9H1579.75V527.25" fill="none" stroke="#a6a6a6" stroke-width="1.1"/><path d="M935.75 527.25H1580.25" fill="none" stroke="#707070" stroke-width="1.1"/><text x="936.25" y="555.35" text-anchor="middle">-0.8</text><text x="1028.18" y="555.35" text-anchor="middle">-0.6</text><text x="1120.11" y="555.35" text-anchor="middle">-0.4</text><text x="1212.04" y="555.35" text-anchor="middle">-0.2</text><text x="1303.96" y="555.35" text-anchor="middle">0</text><text x="1395.89" y="555.35" text-anchor="middle">0.2</text><text x="1487.82" y="555.35" text-anchor="middle">0.4</text><text x="1579.75" y="555.35" text-anchor="middle">0.6</text><text x="928.75" y="535.49" text-anchor="end">2</text><text x="928.75" y="432.02" text-anchor="end">2.5</text><text x="928.75" y="328.55" text-anchor="end">3</text><text x="928.75" y="225.08" text-anchor="end">3.5</text><text x="928.75" y="121.61" text-anchor="end">4</text><text x="928.75" y="18.14" text-anchor="end">4.5</text><path d="M1028.18 527.25v-6M1028.18 9.9v6M1120.11 527.25v-6M1120.11 9.9v6M1212.04 527.25v-6M1212.04 9.9v6M1303.96 527.25v-6M1303.96 9.9v6M1395.89 527.25v-6M1395.89 9.9v6M1487.82 527.25v-6M1487.82 9.9v6M936.25 423.78h6M1579.75 423.78h-6M936.25 320.31h6M1579.75 320.31h-6M936.25 216.84h6M1579.75 216.84h-6M936.25 113.37h6M1579.75 113.37h-6" stroke="#8c8c8c" stroke-width="1" fill="none"/></g>
<clipPath id="cb"><rect x="936.25" y="9.9" width="643.50" height="517.35"/></clipPath>
<g clip-path="url(#cb)">
<path d="M1077.5 386.9V399.1M1074.5 386.9h6.0M1074.5 399.1h6.0M1088.8 386.9V398.1M1085.8 386.9h6.0M1085.8 398.1h6.0M1175.0 122.5V128.1M1172.0 122.5h6.0M1172.0 128.1h6.0M1178.8 248.1V257.5M1175.8 248.1h6.0M1175.8 257.5h6.0M1168.4 278.1V284.7M1165.4 278.1h6.0M1165.4 284.7h6.0M1169.4 295.9V311.9M1166.4 295.9h6.0M1166.4 311.9h6.0M1166.6 311.9V325.0M1163.6 311.9h6.0M1163.6 325.0h6.0M1304.7 235.3V244.5M1301.7 235.3h6.0M1301.7 244.5h6.0M1305.2 253.4V261.3M1302.2 253.4h6.0M1302.2 261.3h6.0M1429.0 205.1V240.2M1426.0 205.1h6.0M1426.0 240.2h6.0M1436.8 234.3V250.2M1433.8 234.3h6.0M1433.8 250.2h6.0M1438.5 255.2V263.6M1435.5 255.2h6.0M1435.5 263.6h6.0M1429.3 399.7V423.1M1426.3 399.7h6.0M1426.3 423.1h6.0M1438.5 420.6V430.6M1435.5 420.6h6.0M1435.5 430.6h6.0M1530.4 292.0V310.3M1527.4 292.0h6.0M1527.4 310.3h6.0M1518.7 307.8V319.5M1515.7 307.8h6.0M1515.7 319.5h6.0M1518.7 332.9V345.4M1515.7 332.9h6.0M1515.7 345.4h6.0M1540.4 281.9V319.5M1537.4 281.9h6.0M1537.4 319.5h6.0M1532.1 395.5V403.9M1529.1 395.5h6.0M1529.1 403.9h6.0M1521.2 352.1V402.2M1518.2 352.1h6.0M1518.2 402.2h6.0M1519.5 394.7V429.8M1516.5 394.7h6.0M1516.5 429.8h6.0M1538.7 484.9V494.1M1535.7 484.9h6.0M1535.7 494.1h6.0M1301.0 268.1V290.3M1298.0 268.1h6.0M1298.0 290.3h6.0M1300.8 284.2V296.3M1297.8 284.2h6.0M1297.8 296.3h6.0M1300.1 286.7V299.5M1297.1 286.7h6.0M1297.1 299.5h6.0M1305.7 288.4V303.3M1302.7 288.4h6.0M1302.7 303.3h6.0M1304.6 294.4V318.0M1301.6 294.4h6.0M1301.6 318.0h6.0M1300.0 305.8V319.6M1297.0 305.8h6.0M1297.0 319.6h6.0M1306.0 312.9V334.3M1303.0 312.9h6.0M1303.0 334.3h6.0M1302.1 320.8V343.7M1299.1 320.8h6.0M1299.1 343.7h6.0M1300.1 336.8V358.7M1297.1 336.8h6.0M1297.1 358.7h6.0M1306.6 342.5V362.2M1303.6 342.5h6.0M1303.6 362.2h6.0M1305.7 273.8V292.7M1302.7 273.8h6.0M1302.7 292.7h6.0M1307.1 285.6V301.6M1304.1 285.6h6.0M1304.1 301.6h6.0M1304.9 313.1V326.3M1301.9 313.1h6.0M1301.9 326.3h6.0M1302.9 320.2V339.3M1299.9 320.2h6.0M1299.9 339.3h6.0M1303.9 322.5V345.6M1300.9 322.5h6.0M1300.9 345.6h6.0M1309.7 337.5V357.4M1306.7 337.5h6.0M1306.7 357.4h6.0M1306.9 341.8V361.4M1303.9 341.8h6.0M1303.9 361.4h6.0M1307.1 349.7V372.6M1304.1 349.7h6.0M1304.1 372.6h6.0M1305.3 351.0V371.5M1302.3 351.0h6.0M1302.3 371.5h6.0M1304.0 231.8V243.6M1301.0 231.8h6.0M1301.0 243.6h6.0M1305.2 245.9V262.5M1302.2 245.9h6.0M1302.2 262.5h6.0M1535.5 317.7V333.2M1532.5 317.7h6.0M1532.5 333.2h6.0M1529.6 325.3V345.5M1526.6 325.3h6.0M1526.6 345.5h6.0M1537.1 329.6V349.2M1534.1 329.6h6.0M1534.1 349.2h6.0M1530.7 349.5V371.4M1527.7 349.5h6.0M1527.7 371.4h6.0M1534.9 368.3V384.7M1531.9 368.3h6.0M1531.9 384.7h6.0M1532.1 376.0V393.3M1529.1 376.0h6.0M1529.1 393.3h6.0M1532.0 387.3V402.4M1529.0 387.3h6.0M1529.0 402.4h6.0M1534.4 331.2V344.1M1531.4 331.2h6.0M1531.4 344.1h6.0M1533.5 336.1V349.3M1530.5 336.1h6.0M1530.5 349.3h6.0M1539.4 368.0V382.1M1536.4 368.0h6.0M1536.4 382.1h6.0M1540.3 327.1V344.5M1537.3 327.1h6.0M1537.3 344.5h6.0M1544.1 333.8V353.6M1541.1 333.8h6.0M1541.1 353.6h6.0M1539.6 358.5V370.9M1536.6 358.5h6.0M1536.6 370.9h6.0M1545.9 361.4V373.7M1542.9 361.4h6.0M1542.9 373.7h6.0M1539.4 375.3V397.6M1536.4 375.3h6.0M1536.4 397.6h6.0M1550.2 310.3V333.6M1547.2 310.3h6.0M1547.2 333.6h6.0M1550.3 350.4V363.1M1547.3 350.4h6.0M1547.3 363.1h6.0M1542.1 368.2V383.4M1539.1 368.2h6.0M1539.1 383.4h6.0M1546.4 377.2V395.2M1543.4 377.2h6.0M1543.4 395.2h6.0M1550.3 390.0V402.3M1547.3 390.0h6.0M1547.3 402.3h6.0M1518.9 320.0V345.9M1515.9 320.0h6.0M1515.9 345.9h6.0M1521.1 352.4V402.1M1518.1 352.4h6.0M1518.1 402.1h6.0M1520.0 394.5V430.2M1517.0 394.5h6.0M1517.0 430.2h6.0M1538.9 485.3V491.7M1535.9 485.3h6.0M1535.9 491.7h6.0M1535.6 290.8V315.6M1532.6 290.8h6.0M1532.6 315.6h6.0M1433.8 255.4V277.6M1430.8 255.4h6.0M1430.8 277.6h6.0M1434.5 283.2V296.3M1431.5 283.2h6.0M1431.5 296.3h6.0M1435.6 285.6V301.7M1432.6 285.6h6.0M1432.6 301.7h6.0M1431.5 290.6V312.8M1428.5 290.6h6.0M1428.5 312.8h6.0M1434.7 299.6V318.5M1431.7 299.6h6.0M1431.7 318.5h6.0M1434.3 314.7V333.8M1431.3 314.7h6.0M1431.3 333.8h6.0M1434.3 325.2V337.8M1431.3 325.2h6.0M1431.3 337.8h6.0M1434.2 323.2V344.7M1431.2 323.2h6.0M1431.2 344.7h6.0M1434.5 341.3V364.6M1431.5 341.3h6.0M1431.5 364.6h6.0M1435.2 354.9V370.8M1432.2 354.9h6.0M1432.2 370.8h6.0M1431.5 350.6V373.8M1428.5 350.6h6.0M1428.5 373.8h6.0M1434.2 360.7V378.1M1431.2 360.7h6.0M1431.2 378.1h6.0M1432.0 386.3V400.9M1429.0 386.3h6.0M1429.0 400.9h6.0M1436.9 386.8V407.0M1433.9 386.8h6.0M1433.9 407.0h6.0M1435.8 398.9V421.1M1432.8 398.9h6.0M1432.8 421.1h6.0M1437.7 269.5V288.0M1434.7 269.5h6.0M1434.7 288.0h6.0M1441.5 298.4V317.0M1438.5 298.4h6.0M1438.5 317.0h6.0M1441.7 303.0V324.3M1438.7 303.0h6.0M1438.7 324.3h6.0M1442.1 322.3V337.4M1439.1 322.3h6.0M1439.1 337.4h6.0M1440.1 336.5V353.0M1437.1 336.5h6.0M1437.1 353.0h6.0M1441.4 360.3V382.7M1438.4 360.3h6.0M1438.4 382.7h6.0M1437.0 368.0V385.6M1434.0 368.0h6.0M1434.0 385.6h6.0M1436.9 387.0V404.9M1433.9 387.0h6.0M1433.9 404.9h6.0M1442.9 399.2V411.4M1439.9 399.2h6.0M1439.9 411.4h6.0M1436.7 400.4V421.4M1433.7 400.4h6.0M1433.7 421.4h6.0M1429.1 205.4V240.4M1426.1 205.4h6.0M1426.1 240.4h6.0M1437.1 234.2V250.2M1434.1 234.2h6.0M1434.1 250.2h6.0M1428.5 398.8V422.2M1425.5 398.8h6.0M1425.5 422.2h6.0" stroke="#0000ff" stroke-width="2.4" fill="none"/>
<g fill="#0000ff"><circle cx="1035.3" cy="325.0" r="5.5"/><circle cx="1045.6" cy="328.8" r="5.5"/><circle cx="1040.9" cy="352.2" r="5.5"/><circle cx="1051.2" cy="345.6" r="5.5"/><circle cx="1062.5" cy="341.9" r="5.5"/><circle cx="1071.9" cy="341.9" r="5.5"/><circle cx="1075.6" cy="347.5" r="5.5"/><circle cx="1055.0" cy="353.1" r="5.5"/><circle cx="1066.2" cy="351.2" r="5.5"/><circle cx="1079.4" cy="356.9" r="5.5"/><circle cx="1092.5" cy="356.9" r="5.5"/><circle cx="1058.8" cy="362.5" r="5.5"/><circle cx="1070.0" cy="362.5" r="5.5"/><circle cx="1081.2" cy="364.4" r="5.5"/><circle cx="1087.8" cy="366.2" r="5.5"/><circle cx="1051.2" cy="375.6" r="5.5"/><circle cx="1064.4" cy="371.9" r="5.5"/><circle cx="1073.8" cy="373.8" r="5.5"/><circle cx="1073.8" cy="382.2" r="5.5"/><circle cx="1077.5" cy="392.5" r="5.5"/><circle cx="1088.8" cy="392.5" r="5.5"/><circle cx="1062.5" cy="356.9" r="5.5"/><circle cx="1070.0" cy="368.1" r="5.5"/><circle cx="1056.9" cy="370.0" r="5.5"/><circle cx="1175.0" cy="128.1" r="5.5"/><circle cx="1171.2" cy="139.4" r="5.5"/><circle cx="1175.9" cy="135.6" r="5.5"/><circle cx="1168.4" cy="155.3" r="5.5"/><circle cx="1176.9" cy="150.6" r="5.5"/><circle cx="1175.9" cy="167.5" r="5.5"/><circle cx="1172.2" cy="173.1" r="5.5"/><circle cx="1176.9" cy="182.5" r="5.5"/><circle cx="1174.1" cy="190.0" r="5.5"/><circle cx="1177.8" cy="197.5" r="5.5"/><circle cx="1168.4" cy="209.7" r="5.5"/><circle cx="1176.9" cy="208.8" r="5.5"/><circle cx="1170.3" cy="220.0" r="5.5"/><circle cx="1180.6" cy="219.1" r="5.5"/><circle cx="1171.2" cy="231.2" r="5.5"/><circle cx="1182.5" cy="235.0" r="5.5"/><circle cx="1170.3" cy="240.6" r="5.5"/><circle cx="1178.8" cy="248.1" r="5.5"/><circle cx="1168.4" cy="253.8" r="5.5"/><circle cx="1167.5" cy="266.9" r="5.5"/><circle cx="1168.4" cy="278.1" r="5.5"/><circle cx="1182.5" cy="279.6" r="5.5"/><circle cx="1169.4" cy="303.4" r="5.5"/><circle cx="1166.6" cy="318.4" r="5.5"/><circle cx="1172.4" cy="130.0" r="5.5"/><circle cx="1173.7" cy="135.7" r="5.5"/><circle cx="1174.8" cy="141.4" r="5.5"/><circle cx="1173.7" cy="147.1" r="5.5"/><circle cx="1177.6" cy="152.9" r="5.5"/><circle cx="1175.1" cy="158.6" r="5.5"/><circle cx="1170.8" cy="164.3" r="5.5"/><circle cx="1177.3" cy="170.0" r="5.5"/><circle cx="1174.1" cy="175.7" r="5.5"/><circle cx="1175.0" cy="181.4" r="5.5"/><circle cx="1170.6" cy="187.1" r="5.5"/><circle cx="1170.7" cy="192.9" r="5.5"/><circle cx="1170.5" cy="198.6" r="5.5"/><circle cx="1176.7" cy="204.3" r="5.5"/><circle cx="1170.3" cy="210.0" r="5.5"/><circle cx="1173.2" cy="215.7" r="5.5"/><circle cx="1177.0" cy="221.4" r="5.5"/><circle cx="1175.3" cy="227.1" r="5.5"/><circle cx="1171.1" cy="232.9" r="5.5"/><circle cx="1174.7" cy="238.6" r="5.5"/><circle cx="1175.8" cy="244.3" r="5.5"/><circle cx="1173.6" cy="250.0" r="5.5"/><circle cx="1304.7" cy="235.3" r="5.5"/><circle cx="1305.2" cy="253.4" r="5.5"/><circle cx="1429.0" cy="223.0" r="5.5"/><circle cx="1436.8" cy="242.2" r="5.5"/><circle cx="1438.5" cy="263.6" r="5.5"/><circle cx="1433.5" cy="269.4" r="5.5"/><circle cx="1441.9" cy="277.8" r="5.5"/><circle cx="1436.0" cy="283.6" r="5.5"/><circle cx="1433.5" cy="292.0" r="5.5"/><circle cx="1439.3" cy="293.6" r="5.5"/><circle cx="1441.9" cy="303.7" r="5.5"/><circle cx="1434.3" cy="308.7" r="5.5"/><circle cx="1438.5" cy="317.0" r="5.5"/><circle cx="1427.7" cy="324.5" r="5.5"/><circle cx="1438.5" cy="331.2" r="5.5"/><circle cx="1436.0" cy="345.4" r="5.5"/><circle cx="1441.9" cy="352.1" r="5.5"/><circle cx="1440.2" cy="360.5" r="5.5"/><circle cx="1432.7" cy="371.3" r="5.5"/><circle cx="1441.9" cy="368.8" r="5.5"/><circle cx="1441.0" cy="378.8" r="5.5"/><circle cx="1431.0" cy="388.9" r="5.5"/><circle cx="1440.2" cy="390.5" r="5.5"/><circle cx="1438.5" cy="398.9" r="5.5"/><circle cx="1429.3" cy="411.4" r="5.5"/><circle cx="1436.0" cy="406.4" r="5.5"/><circle cx="1438.5" cy="420.6" r="5.5"/><circle cx="1530.4" cy="302.8" r="5.5"/><circle cx="1518.7" cy="312.8" r="5.5"/><circle cx="1518.7" cy="332.9" r="5.5"/><circle cx="1537.1" cy="327.0" r="5.5"/><circle cx="1540.4" cy="319.5" r="5.5"/><circle cx="1547.1" cy="327.9" r="5.5"/><circle cx="1530.4" cy="347.1" r="5.5"/><circle cx="1540.4" cy="338.7" r="5.5"/><circle cx="1533.7" cy="360.5" r="5.5"/><circle cx="1550.4" cy="363.0" r="5.5"/><circle cx="1543.8" cy="353.8" r="5.5"/><circle cx="1537.1" cy="368.8" r="5.5"/><circle cx="1533.7" cy="377.2" r="5.5"/><circle cx="1542.1" cy="377.2" r="5.5"/><circle cx="1547.9" cy="385.5" r="5.5"/><circle cx="1535.4" cy="390.5" r="5.5"/><circle cx="1532.1" cy="395.5" r="5.5"/><circle cx="1541.2" cy="395.5" r="5.5"/><circle cx="1541.2" cy="407.2" r="5.5"/><circle cx="1542.9" cy="420.6" r="5.5"/><circle cx="1521.2" cy="376.8" r="5.5"/><circle cx="1519.5" cy="413.1" r="5.5"/><circle cx="1546.3" cy="451.5" r="5.5"/><circle cx="1546.3" cy="459.0" r="5.5"/><circle cx="1540.4" cy="467.4" r="5.5"/><circle cx="1534.6" cy="477.4" r="5.5"/><circle cx="1538.7" cy="484.9" r="5.5"/><circle cx="1040.2" cy="351.9" r="5.5"/><circle cx="1051.3" cy="347.1" r="5.5"/><circle cx="1049.9" cy="375.3" r="5.5"/><circle cx="1065.7" cy="341.6" r="5.5"/><circle cx="1072.6" cy="340.9" r="5.5"/><circle cx="1058.8" cy="351.9" r="5.5"/><circle cx="1065.7" cy="358.8" r="5.5"/><circle cx="1076.0" cy="365.7" r="5.5"/><circle cx="1062.3" cy="372.6" r="5.5"/><circle cx="1072.6" cy="379.5" r="5.5"/><circle cx="1076.0" cy="393.2" r="5.5"/><circle cx="1078.1" cy="348.5" r="5.5"/><circle cx="1055.4" cy="362.3" r="5.5"/><circle cx="1069.1" cy="351.9" r="5.5"/><circle cx="1058.8" cy="365.7" r="5.5"/><circle cx="1069.1" cy="369.1" r="5.5"/><circle cx="1302.5" cy="273.0" r="5.5"/><circle cx="1301.0" cy="279.2" r="5.5"/><circle cx="1304.6" cy="284.9" r="5.5"/><circle cx="1305.8" cy="286.7" r="5.5"/><circle cx="1300.8" cy="290.3" r="5.5"/><circle cx="1300.1" cy="293.1" r="5.5"/><circle cx="1305.7" cy="295.9" r="5.5"/><circle cx="1304.6" cy="306.2" r="5.5"/><circle cx="1304.0" cy="305.4" r="5.5"/><circle cx="1303.8" cy="311.5" r="5.5"/><circle cx="1300.0" cy="312.7" r="5.5"/><circle cx="1302.9" cy="321.8" r="5.5"/><circle cx="1306.0" cy="323.6" r="5.5"/><circle cx="1303.5" cy="333.4" r="5.5"/><circle cx="1302.1" cy="332.2" r="5.5"/><circle cx="1304.8" cy="340.1" r="5.5"/><circle cx="1300.1" cy="347.7" r="5.5"/><circle cx="1306.6" cy="352.3" r="5.5"/><circle cx="1301.1" cy="357.3" r="5.5"/><circle cx="1305.1" cy="364.9" r="5.5"/><circle cx="1309.2" cy="269.5" r="5.5"/><circle cx="1305.8" cy="272.3" r="5.5"/><circle cx="1305.7" cy="283.2" r="5.5"/><circle cx="1304.7" cy="287.1" r="5.5"/><circle cx="1307.1" cy="293.6" r="5.5"/><circle cx="1303.1" cy="297.1" r="5.5"/><circle cx="1308.3" cy="302.6" r="5.5"/><circle cx="1303.5" cy="305.0" r="5.5"/><circle cx="1307.1" cy="312.7" r="5.5"/><circle cx="1302.9" cy="317.4" r="5.5"/><circle cx="1304.9" cy="319.7" r="5.5"/><circle cx="1303.4" cy="324.5" r="5.5"/><circle cx="1302.9" cy="329.7" r="5.5"/><circle cx="1307.6" cy="331.5" r="5.5"/><circle cx="1303.9" cy="334.1" r="5.5"/><circle cx="1309.7" cy="347.4" r="5.5"/><circle cx="1306.9" cy="351.6" r="5.5"/><circle cx="1306.2" cy="352.2" r="5.5"/><circle cx="1307.1" cy="361.1" r="5.5"/><circle cx="1305.3" cy="361.2" r="5.5"/><circle cx="1304.0" cy="235.3" r="5.5"/><circle cx="1305.2" cy="253.4" r="5.5"/><circle cx="1535.5" cy="325.4" r="5.5"/><circle cx="1529.5" cy="325.5" r="5.5"/><circle cx="1529.6" cy="335.4" r="5.5"/><circle cx="1537.1" cy="339.4" r="5.5"/><circle cx="1533.1" cy="339.6" r="5.5"/><circle cx="1534.6" cy="352.1" r="5.5"/><circle cx="1530.7" cy="360.4" r="5.5"/><circle cx="1531.6" cy="358.6" r="5.5"/><circle cx="1529.2" cy="371.9" r="5.5"/><circle cx="1534.9" cy="376.5" r="5.5"/><circle cx="1532.1" cy="384.6" r="5.5"/><circle cx="1529.5" cy="388.1" r="5.5"/><circle cx="1532.0" cy="394.9" r="5.5"/><circle cx="1539.0" cy="322.6" r="5.5"/><circle cx="1538.1" cy="332.5" r="5.5"/><circle cx="1533.5" cy="339.0" r="5.5"/><circle cx="1534.4" cy="337.7" r="5.5"/><circle cx="1533.5" cy="342.7" r="5.5"/><circle cx="1540.9" cy="352.3" r="5.5"/><circle cx="1533.7" cy="353.9" r="5.5"/><circle cx="1536.9" cy="361.7" r="5.5"/><circle cx="1534.0" cy="366.4" r="5.5"/><circle cx="1536.0" cy="371.2" r="5.5"/><circle cx="1539.4" cy="375.1" r="5.5"/><circle cx="1539.3" cy="384.9" r="5.5"/><circle cx="1539.2" cy="390.3" r="5.5"/><circle cx="1538.2" cy="323.5" r="5.5"/><circle cx="1544.0" cy="326.0" r="5.5"/><circle cx="1540.3" cy="335.8" r="5.5"/><circle cx="1546.5" cy="333.8" r="5.5"/><circle cx="1538.8" cy="339.9" r="5.5"/><circle cx="1544.1" cy="343.7" r="5.5"/><circle cx="1545.9" cy="352.5" r="5.5"/><circle cx="1540.3" cy="360.4" r="5.5"/><circle cx="1539.6" cy="364.7" r="5.5"/><circle cx="1545.9" cy="367.6" r="5.5"/><circle cx="1544.9" cy="374.8" r="5.5"/><circle cx="1538.4" cy="376.8" r="5.5"/><circle cx="1539.4" cy="386.4" r="5.5"/><circle cx="1543.0" cy="387.6" r="5.5"/><circle cx="1545.8" cy="391.3" r="5.5"/><circle cx="1550.2" cy="322.0" r="5.5"/><circle cx="1544.6" cy="327.9" r="5.5"/><circle cx="1549.1" cy="334.0" r="5.5"/><circle cx="1542.9" cy="341.8" r="5.5"/><circle cx="1544.0" cy="347.7" r="5.5"/><circle cx="1547.1" cy="350.8" r="5.5"/><circle cx="1550.3" cy="356.8" r="5.5"/><circle cx="1546.6" cy="365.5" r="5.5"/><circle cx="1543.2" cy="369.7" r="5.5"/><circle cx="1549.2" cy="376.1" r="5.5"/><circle cx="1542.1" cy="375.8" r="5.5"/><circle cx="1546.4" cy="386.2" r="5.5"/><circle cx="1543.1" cy="384.5" r="5.5"/><circle cx="1550.3" cy="396.2" r="5.5"/><circle cx="1529.2" cy="303.2" r="5.5"/><circle cx="1518.4" cy="313.5" r="5.5"/><circle cx="1518.9" cy="332.9" r="5.5"/><circle cx="1521.1" cy="376.7" r="5.5"/><circle cx="1520.0" cy="412.9" r="5.5"/><circle cx="1541.6" cy="407.5" r="5.5"/><circle cx="1543.2" cy="421.0" r="5.5"/><circle cx="1546.5" cy="450.7" r="5.5"/><circle cx="1546.5" cy="459.3" r="5.5"/><circle cx="1543.2" cy="465.8" r="5.5"/><circle cx="1535.6" cy="477.7" r="5.5"/><circle cx="1538.9" cy="485.3" r="5.5"/><circle cx="1551.9" cy="363.7" r="5.5"/><circle cx="1548.6" cy="385.9" r="5.5"/><circle cx="1549.7" cy="327.5" r="5.5"/><circle cx="1528.1" cy="347.0" r="5.5"/><circle cx="1532.4" cy="396.7" r="5.5"/><circle cx="1433.8" cy="266.5" r="5.5"/><circle cx="1431.9" cy="268.1" r="5.5"/><circle cx="1435.6" cy="272.3" r="5.5"/><circle cx="1436.3" cy="274.6" r="5.5"/><circle cx="1436.2" cy="284.4" r="5.5"/><circle cx="1434.5" cy="289.7" r="5.5"/><circle cx="1435.6" cy="293.6" r="5.5"/><circle cx="1435.4" cy="294.4" r="5.5"/><circle cx="1431.5" cy="301.7" r="5.5"/><circle cx="1434.8" cy="304.1" r="5.5"/><circle cx="1434.7" cy="309.1" r="5.5"/><circle cx="1435.7" cy="314.7" r="5.5"/><circle cx="1436.5" cy="317.3" r="5.5"/><circle cx="1431.1" cy="321.1" r="5.5"/><circle cx="1434.3" cy="324.3" r="5.5"/><circle cx="1436.8" cy="329.9" r="5.5"/><circle cx="1434.3" cy="331.5" r="5.5"/><circle cx="1434.2" cy="333.9" r="5.5"/><circle cx="1436.9" cy="336.4" r="5.5"/><circle cx="1431.2" cy="348.4" r="5.5"/><circle cx="1434.5" cy="352.9" r="5.5"/><circle cx="1435.2" cy="362.9" r="5.5"/><circle cx="1431.5" cy="362.2" r="5.5"/><circle cx="1434.2" cy="369.4" r="5.5"/><circle cx="1436.2" cy="372.3" r="5.5"/><circle cx="1431.5" cy="376.1" r="5.5"/><circle cx="1436.3" cy="378.1" r="5.5"/><circle cx="1436.3" cy="389.7" r="5.5"/><circle cx="1432.0" cy="393.6" r="5.5"/><circle cx="1437.8" cy="396.7" r="5.5"/><circle cx="1436.9" cy="396.9" r="5.5"/><circle cx="1433.3" cy="401.2" r="5.5"/><circle cx="1432.7" cy="406.9" r="5.5"/><circle cx="1435.8" cy="410.0" r="5.5"/><circle cx="1437.8" cy="263.4" r="5.5"/><circle cx="1441.3" cy="268.0" r="5.5"/><circle cx="1436.1" cy="270.1" r="5.5"/><circle cx="1437.7" cy="278.7" r="5.5"/><circle cx="1437.4" cy="286.1" r="5.5"/><circle cx="1437.2" cy="284.8" r="5.5"/><circle cx="1443.2" cy="290.1" r="5.5"/><circle cx="1439.5" cy="302.8" r="5.5"/><circle cx="1441.5" cy="307.7" r="5.5"/><circle cx="1441.7" cy="313.6" r="5.5"/><circle cx="1439.1" cy="320.5" r="5.5"/><circle cx="1442.7" cy="325.4" r="5.5"/><circle cx="1442.1" cy="329.9" r="5.5"/><circle cx="1440.7" cy="332.8" r="5.5"/><circle cx="1439.6" cy="341.6" r="5.5"/><circle cx="1440.1" cy="344.7" r="5.5"/><circle cx="1440.0" cy="348.8" r="5.5"/><circle cx="1442.6" cy="349.0" r="5.5"/><circle cx="1438.7" cy="361.0" r="5.5"/><circle cx="1441.4" cy="371.5" r="5.5"/><circle cx="1437.2" cy="376.3" r="5.5"/><circle cx="1437.0" cy="376.8" r="5.5"/><circle cx="1438.0" cy="386.6" r="5.5"/><circle cx="1441.8" cy="385.7" r="5.5"/><circle cx="1442.6" cy="392.0" r="5.5"/><circle cx="1441.8" cy="396.5" r="5.5"/><circle cx="1436.9" cy="396.0" r="5.5"/><circle cx="1442.9" cy="405.3" r="5.5"/><circle cx="1436.7" cy="410.9" r="5.5"/><circle cx="1437.9" cy="409.6" r="5.5"/><circle cx="1441.4" cy="417.2" r="5.5"/><circle cx="1429.1" cy="222.6" r="5.5"/><circle cx="1437.1" cy="242.2" r="5.5"/><circle cx="1427.3" cy="323.9" r="5.5"/><circle cx="1429.7" cy="389.0" r="5.5"/><circle cx="1428.5" cy="408.7" r="5.5"/><circle cx="1439.6" cy="417.3" r="5.5"/><circle cx="1443.3" cy="303.0" r="5.5"/><circle cx="1443.3" cy="278.5" r="5.5"/><circle cx="1429.7" cy="268.6" r="5.5"/><circle cx="1429.7" cy="290.7" r="5.5"/></g>
<path d="M1094.8 315.2V335.3M1091.8 315.2h6.0M1091.8 335.3h6.0M1111.2 301.0V313.8M1108.2 301.0h6.0M1108.2 313.8h6.0M1125.7 317.1V335.9M1122.7 317.1h6.0M1122.7 335.9h6.0M1137.1 281.9V306.6M1134.1 281.9h6.0M1134.1 306.6h6.0M1150.2 284.7V328.4M1147.2 284.7h6.0M1147.2 328.4h6.0M1161.9 244.9V305.3M1158.9 244.9h6.0M1158.9 305.3h6.0M1175.0 218.1V252.2M1172.0 218.1h6.0M1172.0 252.2h6.0M1185.3 126.6V180.6M1182.3 126.6h6.0M1182.3 180.6h6.0M1192.8 130.0V164.7M1189.8 130.0h6.0M1189.8 164.7h6.0M1202.2 243.4V259.4M1199.2 243.4h6.0M1199.2 259.4h6.0M1220.9 296.9V311.9M1217.9 296.9h6.0M1217.9 311.9h6.0M1212.1 330.6V341.9M1209.1 330.6h6.0M1209.1 341.9h6.0M1228.8 132.2V199.4M1225.8 132.2h6.0M1225.8 199.4h6.0M1235.7 69.5V121.6M1232.7 69.5h6.0M1232.7 121.6h6.0M1241.0 80.9V133.5M1238.0 80.9h6.0M1238.0 133.5h6.0M1276.4 63.8V160.5M1273.4 63.8h6.0M1273.4 160.5h6.0M1256.0 241.0V351.5M1253.0 241.0h6.0M1253.0 351.5h6.0M1256.9 273.7V360.3M1253.9 273.7h6.0M1253.9 360.3h6.0M1267.9 233.0V269.8M1264.9 233.0h6.0M1264.9 269.8h6.0M1284.3 175.9V233.0M1281.3 175.9h6.0M1281.3 233.0h6.0M1304.7 210.6V244.5M1301.7 210.6h6.0M1301.7 244.5h6.0M1340.4 171.1V203.0M1337.4 171.1h6.0M1337.4 203.0h6.0M1298.1 307.3V333.8M1295.1 307.3h6.0M1295.1 333.8h6.0M1314.7 309.9V341.8M1311.7 309.9h6.0M1311.7 341.8h6.0M1331.7 288.7V352.7M1328.7 288.7h6.0M1328.7 352.7h6.0M1348.0 318.8V364.8M1345.0 318.8h6.0M1345.0 364.8h6.0M1356.5 310.3V360.3M1353.5 310.3h6.0M1353.5 360.3h6.0M1364.8 290.8V376.3M1361.8 290.8h6.0M1361.8 376.3h6.0M1291.4 369.7V401.0M1288.4 369.7h6.0M1288.4 401.0h6.0M1321.5 358.6V399.2M1318.5 358.6h6.0M1318.5 399.2h6.0M1374.0 233.9V265.7M1371.0 233.9h6.0M1371.0 265.7h6.0M1382.6 332.4V378.8M1379.6 332.4h6.0M1379.6 378.8h6.0M1392.1 363.0V418.1M1389.1 363.0h6.0M1389.1 418.1h6.0M1412.6 360.0V394.4M1409.6 360.0h6.0M1409.6 394.4h6.0M1422.6 418.9V448.2M1419.6 418.9h6.0M1419.6 448.2h6.0M1436.0 375.5V437.6M1433.0 375.5h6.0M1433.0 437.6h6.0M1451.5 425.6V458.7M1448.5 425.6h6.0M1448.5 458.7h6.0M1469.9 395.2V442.8M1466.9 395.2h6.0M1466.9 442.8h6.0M1480.3 252.7V335.9M1477.3 252.7h6.0M1477.3 335.9h6.0M1497.0 204.3V232.7M1494.0 204.3h6.0M1494.0 232.7h6.0M1525.0 441.8V465.7M1522.0 441.8h6.0M1522.0 465.7h6.0" stroke="#ff0000" stroke-width="2.4" fill="none"/>
<g fill="#ff0000"><circle cx="1094.8" cy="325.0" r="5.5"/><circle cx="1111.2" cy="307.2" r="5.5"/><circle cx="1125.7" cy="326.9" r="5.5"/><circle cx="1137.1" cy="294.4" r="5.5"/><circle cx="1150.2" cy="306.6" r="5.5"/><circle cx="1161.9" cy="274.8" r="5.5"/><circle cx="1175.0" cy="235.0" r="5.5"/><circle cx="1185.3" cy="153.4" r="5.5"/><circle cx="1192.8" cy="146.9" r="5.5"/><circle cx="1202.2" cy="250.9" r="5.5"/><circle cx="1220.9" cy="303.8" r="5.5"/><circle cx="1212.1" cy="336.2" r="5.5"/><circle cx="1228.8" cy="165.6" r="5.5"/><circle cx="1235.7" cy="95.6" r="5.5"/><circle cx="1241.0" cy="106.9" r="5.5"/><circle cx="1276.4" cy="112.2" r="5.5"/><circle cx="1256.0" cy="296.3" r="5.5"/><circle cx="1256.9" cy="316.1" r="5.5"/><circle cx="1267.9" cy="250.7" r="5.5"/><circle cx="1284.3" cy="204.2" r="5.5"/><circle cx="1304.7" cy="227.4" r="5.5"/><circle cx="1340.4" cy="187.0" r="5.5"/><circle cx="1298.1" cy="320.2" r="5.5"/><circle cx="1314.7" cy="325.3" r="5.5"/><circle cx="1331.7" cy="320.2" r="5.5"/><circle cx="1348.0" cy="340.9" r="5.5"/><circle cx="1356.5" cy="334.7" r="5.5"/><circle cx="1364.8" cy="333.8" r="5.5"/><circle cx="1291.4" cy="385.1" r="5.5"/><circle cx="1321.5" cy="378.6" r="5.5"/><circle cx="1374.0" cy="249.8" r="5.5"/><circle cx="1382.6" cy="355.1" r="5.5"/><circle cx="1392.1" cy="390.2" r="5.5"/><circle cx="1412.6" cy="376.8" r="5.5"/><circle cx="1422.6" cy="433.1" r="5.5"/><circle cx="1436.0" cy="406.4" r="5.5"/><circle cx="1451.5" cy="442.0" r="5.5"/><circle cx="1469.9" cy="418.6" r="5.5"/><circle cx="1480.3" cy="294.1" r="5.5"/><circle cx="1497.0" cy="218.0" r="5.5"/><circle cx="1525.0" cy="453.5" r="5.5"/></g>
<path d="M1050.3 400.0V413.1M1047.3 400.0h6.0M1047.3 413.1h6.0M1050.6 400.1V414.6M1047.6 400.1h6.0M1047.6 414.6h6.0" stroke="#008000" stroke-width="2.4" fill="none"/>
<g fill="#008000"><circle cx="1034.8" cy="303.4" r="5.5"/><circle cx="1024.1" cy="321.2" r="5.5"/><circle cx="1032.5" cy="325.0" r="5.5"/><circle cx="1047.5" cy="329.7" r="5.5"/><circle cx="1014.7" cy="338.1" r="5.5"/><circle cx="1025.0" cy="338.1" r="5.5"/><circle cx="1036.2" cy="343.8" r="5.5"/><circle cx="1042.8" cy="336.2" r="5.5"/><circle cx="1010.9" cy="347.5" r="5.5"/><circle cx="1021.2" cy="355.0" r="5.5"/><circle cx="1009.1" cy="362.5" r="5.5"/><circle cx="1010.0" cy="368.1" r="5.5"/><circle cx="1015.6" cy="362.5" r="5.5"/><circle cx="1032.5" cy="362.5" r="5.5"/><circle cx="1036.2" cy="370.0" r="5.5"/><circle cx="1047.5" cy="362.5" r="5.5"/><circle cx="1024.1" cy="374.7" r="5.5"/><circle cx="1023.1" cy="385.0" r="5.5"/><circle cx="1023.1" cy="390.6" r="5.5"/><circle cx="1015.6" cy="396.2" r="5.5"/><circle cx="1047.5" cy="391.6" r="5.5"/><circle cx="1050.3" cy="406.6" r="5.5"/><circle cx="1000.6" cy="402.8" r="5.5"/><circle cx="1004.4" cy="407.5" r="5.5"/><circle cx="1014.7" cy="403.8" r="5.5"/><circle cx="1016.6" cy="409.4" r="5.5"/><circle cx="1025.0" cy="409.4" r="5.5"/><circle cx="1062.5" cy="416.9" r="5.5"/><circle cx="1065.3" cy="415.0" r="5.5"/><circle cx="1028.8" cy="349.4" r="5.5"/><circle cx="1040.0" cy="353.1" r="5.5"/><circle cx="1030.6" cy="371.9" r="5.5"/><circle cx="1019.4" cy="343.8" r="5.5"/><circle cx="1006.2" cy="366.2" r="5.5"/><circle cx="1034.7" cy="303.4" r="5.5"/><circle cx="1024.4" cy="321.3" r="5.5"/><circle cx="1029.9" cy="328.5" r="5.5"/><circle cx="1035.4" cy="325.8" r="5.5"/><circle cx="1047.1" cy="329.2" r="5.5"/><circle cx="1045.1" cy="335.4" r="5.5"/><circle cx="1014.8" cy="338.2" r="5.5"/><circle cx="1024.4" cy="339.6" r="5.5"/><circle cx="1032.7" cy="343.7" r="5.5"/><circle cx="1038.2" cy="346.4" r="5.5"/><circle cx="1010.6" cy="348.5" r="5.5"/><circle cx="1023.0" cy="355.4" r="5.5"/><circle cx="1010.0" cy="364.3" r="5.5"/><circle cx="1007.2" cy="371.2" r="5.5"/><circle cx="1014.1" cy="364.3" r="5.5"/><circle cx="1032.7" cy="362.3" r="5.5"/><circle cx="1034.0" cy="372.6" r="5.5"/><circle cx="1049.2" cy="363.0" r="5.5"/><circle cx="1023.0" cy="375.3" r="5.5"/><circle cx="1023.0" cy="386.4" r="5.5"/><circle cx="1022.3" cy="391.9" r="5.5"/><circle cx="1014.8" cy="394.6" r="5.5"/><circle cx="1001.0" cy="404.2" r="5.5"/><circle cx="1005.1" cy="400.8" r="5.5"/><circle cx="1015.5" cy="405.6" r="5.5"/><circle cx="1024.4" cy="409.8" r="5.5"/><circle cx="1016.2" cy="411.1" r="5.5"/><circle cx="1048.5" cy="391.2" r="5.5"/><circle cx="1050.6" cy="407.0" r="5.5"/><circle cx="1063.0" cy="417.3" r="5.5"/><circle cx="1065.0" cy="415.3" r="5.5"/><circle cx="1028.5" cy="365.7" r="5.5"/><circle cx="1039.6" cy="365.7" r="5.5"/><circle cx="1025.8" cy="361.6" r="5.5"/></g>
</g>
<ellipse cx="1375.4" cy="41.5" rx="5.45" ry="6.5" fill="#0000ff"/><text x="1388.7" y="45.2" font-family="'DejaVu Sans','Liberation Sans',sans-serif" font-size="13.4" fill="#262626"><tspan font-family="'Liberation Serif','DejaVu Serif',serif" font-style="italic" font-size="12.7" fill="#555">δ</tspan> scan - separate discharges</text><ellipse cx="1375.4" cy="71.0" rx="5.45" ry="6.5" fill="#ff0000"/><text x="1388.7" y="75.0" font-family="'DejaVu Sans','Liberation Sans',sans-serif" font-size="13.4" fill="#262626"><tspan font-family="'Liberation Serif','DejaVu Serif',serif" font-style="italic" font-size="12.7" fill="#555">δ</tspan> scan - single discharge</text><ellipse cx="1375.4" cy="102.9" rx="5.45" ry="6.5" fill="#008000"/><text x="1388.7" y="107.0" font-family="'DejaVu Sans','Liberation Sans',sans-serif" font-size="13.4" fill="#262626"><tspan font-family="'Liberation Serif','DejaVu Serif',serif" font-style="italic" font-size="12.7" fill="#555">δ</tspan> = -0.6 (#67156)</text>
<text x="985.8" y="69.2" font-family="'DejaVu Sans','Liberation Sans',sans-serif" font-size="19.8" fill="#000"><tspan font-family="'Liberation Serif','DejaVu Serif',serif" font-style="italic" fill="#222">ρ</tspan> = 0.75</text>
<text x="1257.8" y="585.7" font-family="'Liberation Serif','DejaVu Serif',serif" font-style="italic" font-size="27.4" fill="#444" text-anchor="middle">δ</text>
<text transform="translate(872.2 267.5) rotate(-90) scale(1.02 1)" font-family="'DejaVu Sans','Liberation Sans',sans-serif" font-size="24.7" fill="#262626" text-anchor="middle">R/Ln<tspan font-size="21" dy="12">C</tspan></text>
<text x="1242" y="670.6" font-family="'Liberation Serif','DejaVu Serif',serif" font-size="55" fill="#000" text-anchor="middle">(b)</text>
<g font-family="'DejaVu Sans','Liberation Sans',sans-serif" font-size="22.6" fill="#262626"><path d="M88.5 1259.25V742.1H731.5V1259.25" fill="none" stroke="#a6a6a6" stroke-width="1.1"/><path d="M88.0 1259.25H732.0" fill="none" stroke="#707070" stroke-width="1.1"/><text x="88.50" y="1287.45" text-anchor="middle">-0.8</text><text x="180.36" y="1287.45" text-anchor="middle">-0.6</text><text x="272.21" y="1287.45" text-anchor="middle">-0.4</text><text x="364.07" y="1287.45" text-anchor="middle">-0.2</text><text x="455.93" y="1287.45" text-anchor="middle">0</text><text x="547.79" y="1287.45" text-anchor="middle">0.2</text><text x="639.64" y="1287.45" text-anchor="middle">0.4</text><text x="731.50" y="1287.45" text-anchor="middle">0.6</text><text x="81.00" y="1267.49" text-anchor="end">0.05</text><text x="81.00" y="1181.30" text-anchor="end">0.1</text><text x="81.00" y="1095.10" text-anchor="end">0.15</text><text x="81.00" y="1008.91" text-anchor="end">0.2</text><text x="81.00" y="922.72" text-anchor="end">0.25</text><text x="81.00" y="836.53" text-anchor="end">0.3</text><text x="81.00" y="750.34" text-anchor="end">0.35</text><path d="M180.36 1259.25v-6M180.36 742.1v6M272.21 1259.25v-6M272.21 742.1v6M364.07 1259.25v-6M364.07 742.1v6M455.93 1259.25v-6M455.93 742.1v6M547.79 1259.25v-6M547.79 742.1v6M639.64 1259.25v-6M639.64 742.1v6M88.5 1173.06h6M731.5 1173.06h-6M88.5 1086.87h6M731.5 1086.87h-6M88.5 1000.67h6M731.5 1000.67h-6M88.5 914.48h6M731.5 914.48h-6M88.5 828.29h6M731.5 828.29h-6" stroke="#8c8c8c" stroke-width="1" fill="none"/></g>
<clipPath id="cc"><rect x="88.5" y="742.1" width="643.00" height="517.15"/></clipPath>
<g clip-path="url(#cc)">
<path d="M202.2 933.8V952.5M199.2 933.8h6.0M199.2 952.5h6.0M205.0 941.2V959.1M202.0 941.2h6.0M202.0 959.1h6.0M211.6 961.9V979.7M208.6 961.9h6.0M208.6 979.7h6.0M187.2 967.5V983.4M184.2 967.5h6.0M184.2 983.4h6.0M229.4 984.4V1005.0M226.4 984.4h6.0M226.4 1005.0h6.0M218.1 989.1V1009.7M215.1 989.1h6.0M215.1 1009.7h6.0M206.9 995.6V1013.4M203.9 995.6h6.0M203.9 1013.4h6.0M220.9 1006.9V1024.7M217.9 1006.9h6.0M217.9 1024.7h6.0M188.1 1005.0V1025.6M185.1 1005.0h6.0M185.1 1025.6h6.0M241.0 1006.5V1030.9M238.0 1006.5h6.0M238.0 1030.9h6.0M204.1 1030.3V1044.4M201.1 1030.3h6.0M201.1 1044.4h6.0M216.2 1029.4V1047.2M213.2 1029.4h6.0M213.2 1047.2h6.0M229.4 1025.6V1042.5M226.4 1025.6h6.0M226.4 1042.5h6.0M203.1 1039.7V1056.6M200.1 1039.7h6.0M200.1 1056.6h6.0M216.2 1046.2V1065.0M213.2 1046.2h6.0M213.2 1065.0h6.0M225.6 1051.9V1072.5M222.6 1051.9h6.0M222.6 1072.5h6.0M209.7 1053.8V1073.4M206.7 1053.8h6.0M206.7 1073.4h6.0M239.7 1058.4V1076.2M236.7 1058.4h6.0M236.7 1076.2h6.0M221.9 1063.1V1081.9M218.9 1063.1h6.0M218.9 1081.9h6.0M231.2 1078.1V1093.1M228.2 1078.1h6.0M228.2 1093.1h6.0M237.8 1078.1V1092.2M234.8 1078.1h6.0M234.8 1092.2h6.0M245.3 1080.0V1096.9M242.3 1080.0h6.0M242.3 1096.9h6.0M218.1 1096.9V1116.6M215.1 1096.9h6.0M215.1 1116.6h6.0M224.7 1098.8V1116.6M221.7 1098.8h6.0M221.7 1116.6h6.0M327.2 904.7V916.9M324.2 904.7h6.0M324.2 916.9h6.0M329.7 922.5V936.0M326.7 922.5h6.0M326.7 936.0h6.0M317.5 1027.5V1040.6M314.5 1027.5h6.0M314.5 1040.6h6.0M456.9 923.6V939.2M453.9 923.6h6.0M453.9 939.2h6.0M456.9 1055.9V1068.2M453.9 1055.9h6.0M453.9 1068.2h6.0M581.3 910.4V932.0M578.3 910.4h6.0M578.3 932.0h6.0M591.1 910.4V929.0M588.1 910.4h6.0M588.1 929.0h6.0M590.1 1071.5V1085.2M587.1 1071.5h6.0M587.1 1085.2h6.0M673.6 1000.7V1024.3M670.6 1000.7h6.0M670.6 1024.3h6.0M686.4 1007.6V1024.3M683.4 1007.6h6.0M683.4 1024.3h6.0M673.6 1066.6V1092.1M670.6 1066.6h6.0M670.6 1092.1h6.0M701.1 1181.5V1196.2M698.1 1181.5h6.0M698.1 1196.2h6.0M691.3 1181.5V1202.1M688.3 1181.5h6.0M688.3 1202.1h6.0M319.9 932.2V948.1M316.9 932.2h6.0M316.9 948.1h6.0M319.5 930.0V950.4M316.5 930.0h6.0M316.5 950.4h6.0M323.5 931.7V952.3M320.5 931.7h6.0M320.5 952.3h6.0M321.2 951.0V974.7M318.2 951.0h6.0M318.2 974.7h6.0M317.5 960.3V973.1M314.5 960.3h6.0M314.5 973.1h6.0M320.7 989.4V1010.1M317.7 989.4h6.0M317.7 1010.1h6.0M323.3 1005.8V1023.3M320.3 1005.8h6.0M320.3 1023.3h6.0M324.3 934.9V952.6M321.3 934.9h6.0M321.3 952.6h6.0M326.8 943.3V961.5M323.8 943.3h6.0M323.8 961.5h6.0M326.6 961.1V984.2M323.6 961.1h6.0M323.6 984.2h6.0M328.2 971.4V983.8M325.2 971.4h6.0M325.2 983.8h6.0M323.9 1003.1V1018.4M320.9 1003.1h6.0M320.9 1018.4h6.0M321.6 1009.7V1028.6M318.6 1009.7h6.0M318.6 1028.6h6.0M324.8 1010.7V1027.8M321.8 1010.7h6.0M321.8 1027.8h6.0M324.1 1018.1V1039.1M321.1 1018.1h6.0M321.1 1039.1h6.0M330.7 932.4V946.7M327.7 932.4h6.0M327.7 946.7h6.0M328.5 960.5V978.3M325.5 960.5h6.0M325.5 978.3h6.0M327.2 964.5V987.1M324.2 964.5h6.0M324.2 987.1h6.0M332.5 968.4V983.5M329.5 968.4h6.0M329.5 983.5h6.0M327.1 985.0V999.0M324.1 985.0h6.0M324.1 999.0h6.0M330.5 1001.5V1025.1M327.5 1001.5h6.0M327.5 1025.1h6.0M328.8 1007.5V1026.7M325.8 1007.5h6.0M325.8 1026.7h6.0M332.6 1018.7V1038.7M329.6 1018.7h6.0M329.6 1038.7h6.0M320.0 900.2V945.0M317.0 900.2h6.0M317.0 945.0h6.0M327.1 904.2V945.0M324.1 904.2h6.0M324.1 945.0h6.0M328.3 922.2V945.0M325.3 922.2h6.0M325.3 945.0h6.0M331.4 922.2V945.0M328.4 922.2h6.0M328.4 945.0h6.0M320.8 1007.9V1040.2M317.8 1007.9h6.0M317.8 1040.2h6.0M327.5 1007.9V1033.9M324.5 1007.9h6.0M324.5 1033.9h6.0M583.0 931.4V945.0M580.0 931.4h6.0M580.0 945.0h6.0M581.1 930.3V947.5M578.1 930.3h6.0M578.1 947.5h6.0M581.8 968.6V985.2M578.8 968.6h6.0M578.8 985.2h6.0M584.6 978.6V993.3M581.6 978.6h6.0M581.6 993.3h6.0M582.4 985.7V1000.3M579.4 985.7h6.0M579.4 1000.3h6.0M586.9 1012.3V1033.5M583.9 1012.3h6.0M583.9 1033.5h6.0M585.7 1016.1V1036.5M582.7 1016.1h6.0M582.7 1036.5h6.0M587.1 1017.4V1040.2M584.1 1017.4h6.0M584.1 1040.2h6.0M582.1 1023.4V1043.1M579.1 1023.4h6.0M579.1 1043.1h6.0M589.0 1023.9V1045.6M586.0 1023.9h6.0M586.0 1045.6h6.0M588.7 927.5V941.8M585.7 927.5h6.0M585.7 941.8h6.0M593.0 939.9V953.4M590.0 939.9h6.0M590.0 953.4h6.0M588.6 959.0V971.1M585.6 959.0h6.0M585.6 971.1h6.0M586.7 979.5V1002.8M583.7 979.5h6.0M583.7 1002.8h6.0M591.4 980.5V1001.9M588.4 980.5h6.0M588.4 1001.9h6.0M590.1 999.0V1013.7M587.1 999.0h6.0M587.1 1013.7h6.0M587.8 1015.1V1032.7M584.8 1015.1h6.0M584.8 1032.7h6.0M587.4 1022.6V1035.4M584.4 1022.6h6.0M584.4 1035.4h6.0M591.0 1023.1V1039.8M588.0 1023.1h6.0M588.0 1039.8h6.0M592.0 1028.1V1040.3M589.0 1028.1h6.0M589.0 1040.3h6.0M580.2 910.3V939.3M577.2 910.3h6.0M577.2 939.3h6.0M588.5 909.3V939.3M585.5 909.3h6.0M585.5 939.3h6.0M591.5 909.3V939.3M588.5 909.3h6.0M588.5 939.3h6.0M685.2 1055.5V1071.2M682.2 1055.5h6.0M682.2 1071.2h6.0M692.9 1057.3V1071.1M689.9 1057.3h6.0M689.9 1071.1h6.0M688.6 1072.8V1093.6M685.6 1072.8h6.0M685.6 1093.6h6.0M688.3 1081.4V1102.5M685.3 1081.4h6.0M685.3 1102.5h6.0M691.9 1088.6V1110.0M688.9 1088.6h6.0M688.9 1110.0h6.0M691.3 1100.9V1113.0M688.3 1100.9h6.0M688.3 1113.0h6.0M687.0 1105.8V1126.9M684.0 1105.8h6.0M684.0 1126.9h6.0M691.5 1116.2V1134.4M688.5 1116.2h6.0M688.5 1134.4h6.0M691.2 1121.7V1141.6M688.2 1121.7h6.0M688.2 1141.6h6.0M696.0 1080.9V1100.9M693.0 1080.9h6.0M693.0 1100.9h6.0M693.3 1095.7V1116.8M690.3 1095.7h6.0M690.3 1116.8h6.0M698.0 1101.4V1119.9M695.0 1101.4h6.0M695.0 1119.9h6.0M700.1 1117.0V1131.8M697.1 1117.0h6.0M697.1 1131.8h6.0M691.0 1128.5V1149.8M688.0 1128.5h6.0M688.0 1149.8h6.0M693.0 1146.5V1159.1M690.0 1146.5h6.0M690.0 1159.1h6.0M695.2 1145.3V1162.9M692.2 1145.3h6.0M692.2 1162.9h6.0M691.3 1161.6V1177.9M688.3 1161.6h6.0M688.3 1177.9h6.0M691.3 1162.1V1183.7M688.3 1162.1h6.0M688.3 1183.7h6.0M700.0 1144.7V1161.3M697.0 1144.7h6.0M697.0 1161.3h6.0M696.7 1175.5V1187.6M693.7 1175.5h6.0M693.7 1187.6h6.0M672.1 1001.1V1091.8M669.1 1001.1h6.0M669.1 1091.8h6.0M686.7 1008.1V1064.8M683.7 1008.1h6.0M683.7 1064.8h6.0M682.4 1017.3V1064.8M679.4 1017.3h6.0M679.4 1064.8h6.0M692.1 1029.2V1064.8M689.1 1029.2h6.0M689.1 1064.8h6.0M696.5 1037.3V1064.8M693.5 1037.3h6.0M693.5 1064.8h6.0M690.5 1162.0V1200.9M687.5 1162.0h6.0M687.5 1200.9h6.0M699.2 1162.0V1192.3M696.2 1162.0h6.0M696.2 1192.3h6.0M209.4 1056.5V1070.3M206.4 1056.5h6.0M206.4 1070.3h6.0M244.7 1080.1V1093.9M241.7 1080.1h6.0M241.7 1093.9h6.0M216.3 1097.8V1111.6M213.3 1097.8h6.0M213.3 1111.6h6.0M222.2 1098.8V1112.5M219.2 1098.8h6.0M219.2 1112.5h6.0M203.5 1040.8V1054.6M200.5 1040.8h6.0M200.5 1054.6h6.0M230.0 1027.1V1040.8M227.0 1027.1h6.0M227.0 1040.8h6.0" stroke="#0000ff" stroke-width="2.2" fill="none"/>
<g fill="#0000ff"><circle cx="202.2" cy="942.2" r="5.3"/><circle cx="205.0" cy="950.6" r="5.3"/><circle cx="211.6" cy="970.9" r="5.3"/><circle cx="187.2" cy="975.0" r="5.3"/><circle cx="203.1" cy="973.1" r="5.3"/><circle cx="229.4" cy="994.1" r="5.3"/><circle cx="218.1" cy="999.4" r="5.3"/><circle cx="206.9" cy="1005.0" r="5.3"/><circle cx="220.9" cy="1015.3" r="5.3"/><circle cx="188.1" cy="1014.4" r="5.3"/><circle cx="241.0" cy="1018.5" r="5.3"/><circle cx="204.1" cy="1036.9" r="5.3"/><circle cx="216.2" cy="1037.8" r="5.3"/><circle cx="229.4" cy="1033.1" r="5.3"/><circle cx="203.1" cy="1048.1" r="5.3"/><circle cx="216.2" cy="1055.6" r="5.3"/><circle cx="225.6" cy="1062.2" r="5.3"/><circle cx="209.7" cy="1064.1" r="5.3"/><circle cx="239.7" cy="1065.9" r="5.3"/><circle cx="221.9" cy="1072.5" r="5.3"/><circle cx="231.2" cy="1085.6" r="5.3"/><circle cx="237.8" cy="1082.8" r="5.3"/><circle cx="245.3" cy="1087.5" r="5.3"/><circle cx="212.5" cy="1085.6" r="5.3"/><circle cx="223.8" cy="1093.1" r="5.3"/><circle cx="218.1" cy="1106.2" r="5.3"/><circle cx="224.7" cy="1106.2" r="5.3"/><circle cx="212.5" cy="1098.8" r="5.3"/><circle cx="220.0" cy="1100.6" r="5.3"/><circle cx="214.4" cy="1078.1" r="5.3"/><circle cx="223.8" cy="1081.9" r="5.3"/><circle cx="327.2" cy="916.9" r="5.3"/><circle cx="329.7" cy="936.0" r="5.3"/><circle cx="319.4" cy="943.1" r="5.3"/><circle cx="326.9" cy="948.8" r="5.3"/><circle cx="330.6" cy="956.2" r="5.3"/><circle cx="322.2" cy="963.8" r="5.3"/><circle cx="335.3" cy="965.6" r="5.3"/><circle cx="318.4" cy="975.0" r="5.3"/><circle cx="328.8" cy="978.8" r="5.3"/><circle cx="320.3" cy="988.1" r="5.3"/><circle cx="332.5" cy="990.0" r="5.3"/><circle cx="317.5" cy="995.6" r="5.3"/><circle cx="328.8" cy="1001.2" r="5.3"/><circle cx="337.2" cy="1001.2" r="5.3"/><circle cx="318.4" cy="1006.9" r="5.3"/><circle cx="328.8" cy="1012.5" r="5.3"/><circle cx="321.2" cy="1020.0" r="5.3"/><circle cx="317.5" cy="1027.5" r="5.3"/><circle cx="457.0" cy="939.2" r="5.3"/><circle cx="457.7" cy="943.0" r="5.3"/><circle cx="454.7" cy="946.9" r="5.3"/><circle cx="454.7" cy="950.8" r="5.3"/><circle cx="457.3" cy="954.7" r="5.3"/><circle cx="459.3" cy="958.6" r="5.3"/><circle cx="455.4" cy="962.5" r="5.3"/><circle cx="455.9" cy="966.4" r="5.3"/><circle cx="460.0" cy="970.3" r="5.3"/><circle cx="458.4" cy="974.2" r="5.3"/><circle cx="456.2" cy="978.1" r="5.3"/><circle cx="457.0" cy="981.9" r="5.3"/><circle cx="455.6" cy="985.8" r="5.3"/><circle cx="456.3" cy="989.7" r="5.3"/><circle cx="457.9" cy="993.6" r="5.3"/><circle cx="455.3" cy="997.5" r="5.3"/><circle cx="459.9" cy="1001.4" r="5.3"/><circle cx="459.5" cy="1005.3" r="5.3"/><circle cx="455.6" cy="1009.2" r="5.3"/><circle cx="455.1" cy="1013.1" r="5.3"/><circle cx="459.3" cy="1017.0" r="5.3"/><circle cx="458.4" cy="1020.8" r="5.3"/><circle cx="459.7" cy="1024.7" r="5.3"/><circle cx="458.8" cy="1028.6" r="5.3"/><circle cx="456.0" cy="1032.5" r="5.3"/><circle cx="459.3" cy="1036.4" r="5.3"/><circle cx="456.2" cy="1040.3" r="5.3"/><circle cx="455.1" cy="1044.2" r="5.3"/><circle cx="454.6" cy="1048.1" r="5.3"/><circle cx="457.5" cy="1052.0" r="5.3"/><circle cx="453.8" cy="1055.9" r="5.3"/><circle cx="581.3" cy="932.0" r="5.3"/><circle cx="591.1" cy="929.0" r="5.3"/><circle cx="588.1" cy="941.8" r="5.3"/><circle cx="581.3" cy="949.7" r="5.3"/><circle cx="591.1" cy="947.7" r="5.3"/><circle cx="592.1" cy="967.3" r="5.3"/><circle cx="584.2" cy="977.2" r="5.3"/><circle cx="593.0" cy="983.1" r="5.3"/><circle cx="586.2" cy="992.9" r="5.3"/><circle cx="593.0" cy="998.8" r="5.3"/><circle cx="596.0" cy="1003.7" r="5.3"/><circle cx="581.3" cy="1014.5" r="5.3"/><circle cx="591.1" cy="1016.5" r="5.3"/><circle cx="582.2" cy="1022.4" r="5.3"/><circle cx="592.1" cy="1028.3" r="5.3"/><circle cx="585.2" cy="1036.1" r="5.3"/><circle cx="593.0" cy="1038.1" r="5.3"/><circle cx="588.1" cy="1047.9" r="5.3"/><circle cx="587.2" cy="1058.7" r="5.3"/><circle cx="592.1" cy="1058.7" r="5.3"/><circle cx="590.1" cy="1071.5" r="5.3"/><circle cx="673.6" cy="1024.3" r="5.3"/><circle cx="686.4" cy="1024.3" r="5.3"/><circle cx="669.7" cy="1035.1" r="5.3"/><circle cx="681.5" cy="1036.1" r="5.3"/><circle cx="670.6" cy="1062.6" r="5.3"/><circle cx="673.6" cy="1066.6" r="5.3"/><circle cx="695.2" cy="1056.7" r="5.3"/><circle cx="689.3" cy="1059.7" r="5.3"/><circle cx="681.5" cy="1073.4" r="5.3"/><circle cx="695.2" cy="1077.4" r="5.3"/><circle cx="687.3" cy="1085.2" r="5.3"/><circle cx="699.1" cy="1093.1" r="5.3"/><circle cx="691.3" cy="1102.9" r="5.3"/><circle cx="684.4" cy="1109.8" r="5.3"/><circle cx="703.1" cy="1115.7" r="5.3"/><circle cx="695.2" cy="1122.6" r="5.3"/><circle cx="689.3" cy="1130.4" r="5.3"/><circle cx="697.2" cy="1154.0" r="5.3"/><circle cx="689.3" cy="1165.8" r="5.3"/><circle cx="699.1" cy="1173.6" r="5.3"/><circle cx="701.1" cy="1181.5" r="5.3"/><circle cx="691.3" cy="1181.5" r="5.3"/><circle cx="685.4" cy="1144.2" r="5.3"/><circle cx="693.2" cy="1138.3" r="5.3"/><circle cx="697.2" cy="1144.2" r="5.3"/><circle cx="319.9" cy="940.1" r="5.3"/><circle cx="319.5" cy="940.2" r="5.3"/><circle cx="323.5" cy="942.0" r="5.3"/><circle cx="322.3" cy="951.7" r="5.3"/><circle cx="323.4" cy="955.6" r="5.3"/><circle cx="321.2" cy="962.8" r="5.3"/><circle cx="317.5" cy="966.7" r="5.3"/><circle cx="322.7" cy="972.7" r="5.3"/><circle cx="317.6" cy="971.8" r="5.3"/><circle cx="321.9" cy="974.8" r="5.3"/><circle cx="320.0" cy="984.7" r="5.3"/><circle cx="322.3" cy="984.8" r="5.3"/><circle cx="322.2" cy="988.0" r="5.3"/><circle cx="319.7" cy="992.8" r="5.3"/><circle cx="320.7" cy="999.8" r="5.3"/><circle cx="322.0" cy="1003.8" r="5.3"/><circle cx="322.8" cy="1006.8" r="5.3"/><circle cx="317.0" cy="1006.4" r="5.3"/><circle cx="323.3" cy="1014.5" r="5.3"/><circle cx="321.6" cy="1024.4" r="5.3"/><circle cx="325.5" cy="934.4" r="5.3"/><circle cx="324.3" cy="943.7" r="5.3"/><circle cx="325.4" cy="943.1" r="5.3"/><circle cx="326.8" cy="952.4" r="5.3"/><circle cx="326.3" cy="959.4" r="5.3"/><circle cx="325.5" cy="960.3" r="5.3"/><circle cx="324.1" cy="965.6" r="5.3"/><circle cx="326.6" cy="972.7" r="5.3"/><circle cx="328.2" cy="977.6" r="5.3"/><circle cx="327.6" cy="984.9" r="5.3"/><circle cx="327.8" cy="982.3" r="5.3"/><circle cx="323.9" cy="989.4" r="5.3"/><circle cx="322.8" cy="994.4" r="5.3"/><circle cx="324.4" cy="997.5" r="5.3"/><circle cx="323.6" cy="1005.3" r="5.3"/><circle cx="323.9" cy="1010.8" r="5.3"/><circle cx="321.6" cy="1019.2" r="5.3"/><circle cx="324.8" cy="1019.2" r="5.3"/><circle cx="324.1" cy="1028.6" r="5.3"/><circle cx="330.7" cy="939.6" r="5.3"/><circle cx="327.5" cy="938.4" r="5.3"/><circle cx="333.3" cy="946.9" r="5.3"/><circle cx="329.8" cy="951.7" r="5.3"/><circle cx="332.3" cy="951.4" r="5.3"/><circle cx="327.5" cy="956.2" r="5.3"/><circle cx="330.5" cy="968.5" r="5.3"/><circle cx="328.5" cy="969.4" r="5.3"/><circle cx="327.2" cy="975.8" r="5.3"/><circle cx="332.5" cy="975.9" r="5.3"/><circle cx="333.4" cy="983.6" r="5.3"/><circle cx="327.1" cy="992.0" r="5.3"/><circle cx="328.3" cy="992.7" r="5.3"/><circle cx="332.1" cy="1000.0" r="5.3"/><circle cx="329.0" cy="1000.0" r="5.3"/><circle cx="333.0" cy="1004.3" r="5.3"/><circle cx="332.2" cy="1013.0" r="5.3"/><circle cx="330.5" cy="1013.3" r="5.3"/><circle cx="328.8" cy="1017.1" r="5.3"/><circle cx="332.6" cy="1028.7" r="5.3"/><circle cx="327.1" cy="916.3" r="5.3"/><circle cx="319.7" cy="943.5" r="5.3"/><circle cx="330.7" cy="935.6" r="5.3"/><circle cx="316.9" cy="976.5" r="5.3"/><circle cx="315.7" cy="994.6" r="5.3"/><circle cx="314.2" cy="1006.4" r="5.3"/><circle cx="319.7" cy="1025.2" r="5.3"/><circle cx="331.4" cy="960.8" r="5.3"/><circle cx="333.0" cy="992.2" r="5.3"/><circle cx="585.9" cy="934.0" r="5.3"/><circle cx="583.0" cy="938.2" r="5.3"/><circle cx="581.1" cy="938.9" r="5.3"/><circle cx="584.8" cy="942.5" r="5.3"/><circle cx="581.3" cy="947.1" r="5.3"/><circle cx="585.6" cy="957.0" r="5.3"/><circle cx="587.3" cy="961.2" r="5.3"/><circle cx="585.6" cy="964.7" r="5.3"/><circle cx="585.1" cy="964.7" r="5.3"/><circle cx="583.0" cy="968.1" r="5.3"/><circle cx="581.8" cy="976.9" r="5.3"/><circle cx="583.7" cy="977.0" r="5.3"/><circle cx="584.6" cy="985.9" r="5.3"/><circle cx="582.4" cy="993.0" r="5.3"/><circle cx="582.4" cy="998.0" r="5.3"/><circle cx="581.7" cy="998.7" r="5.3"/><circle cx="582.9" cy="1008.8" r="5.3"/><circle cx="587.4" cy="1019.3" r="5.3"/><circle cx="586.9" cy="1022.9" r="5.3"/><circle cx="585.7" cy="1026.3" r="5.3"/><circle cx="587.1" cy="1028.8" r="5.3"/><circle cx="582.1" cy="1033.3" r="5.3"/><circle cx="589.0" cy="1034.7" r="5.3"/><circle cx="584.0" cy="1041.3" r="5.3"/><circle cx="586.0" cy="1048.4" r="5.3"/><circle cx="581.7" cy="1048.0" r="5.3"/><circle cx="585.7" cy="1058.9" r="5.3"/><circle cx="585.9" cy="1062.5" r="5.3"/><circle cx="582.6" cy="1069.6" r="5.3"/><circle cx="588.7" cy="934.6" r="5.3"/><circle cx="592.8" cy="933.4" r="5.3"/><circle cx="588.3" cy="943.0" r="5.3"/><circle cx="587.5" cy="942.4" r="5.3"/><circle cx="593.0" cy="946.6" r="5.3"/><circle cx="587.2" cy="954.4" r="5.3"/><circle cx="592.8" cy="961.9" r="5.3"/><circle cx="592.4" cy="963.5" r="5.3"/><circle cx="588.6" cy="965.0" r="5.3"/><circle cx="591.7" cy="972.3" r="5.3"/><circle cx="587.6" cy="982.0" r="5.3"/><circle cx="587.4" cy="983.6" r="5.3"/><circle cx="586.7" cy="991.2" r="5.3"/><circle cx="591.4" cy="991.2" r="5.3"/><circle cx="592.5" cy="997.9" r="5.3"/><circle cx="590.1" cy="1006.4" r="5.3"/><circle cx="587.7" cy="1015.3" r="5.3"/><circle cx="589.9" cy="1019.9" r="5.3"/><circle cx="587.8" cy="1023.9" r="5.3"/><circle cx="587.4" cy="1029.0" r="5.3"/><circle cx="591.0" cy="1031.4" r="5.3"/><circle cx="592.0" cy="1034.2" r="5.3"/><circle cx="587.0" cy="1043.1" r="5.3"/><circle cx="589.1" cy="1043.1" r="5.3"/><circle cx="588.7" cy="1049.9" r="5.3"/><circle cx="590.9" cy="1056.2" r="5.3"/><circle cx="587.1" cy="1061.3" r="5.3"/><circle cx="592.1" cy="1065.8" r="5.3"/><circle cx="581.1" cy="931.5" r="5.3"/><circle cx="591.5" cy="929.5" r="5.3"/><circle cx="582.6" cy="950.1" r="5.3"/><circle cx="591.5" cy="944.2" r="5.3"/><circle cx="592.4" cy="967.8" r="5.3"/><circle cx="585.6" cy="976.7" r="5.3"/><circle cx="592.9" cy="983.6" r="5.3"/><circle cx="594.4" cy="1003.2" r="5.3"/><circle cx="580.6" cy="1014.1" r="5.3"/><circle cx="582.6" cy="1023.9" r="5.3"/><circle cx="592.4" cy="1018.0" r="5.3"/><circle cx="592.9" cy="1036.7" r="5.3"/><circle cx="587.5" cy="1059.3" r="5.3"/><circle cx="687.1" cy="1062.4" r="5.3"/><circle cx="685.2" cy="1063.3" r="5.3"/><circle cx="686.0" cy="1070.4" r="5.3"/><circle cx="692.9" cy="1064.2" r="5.3"/><circle cx="691.9" cy="1069.0" r="5.3"/><circle cx="693.5" cy="1073.3" r="5.3"/><circle cx="688.6" cy="1083.2" r="5.3"/><circle cx="688.3" cy="1091.9" r="5.3"/><circle cx="687.8" cy="1097.8" r="5.3"/><circle cx="691.9" cy="1099.3" r="5.3"/><circle cx="686.2" cy="1102.0" r="5.3"/><circle cx="691.3" cy="1106.9" r="5.3"/><circle cx="687.0" cy="1116.4" r="5.3"/><circle cx="691.2" cy="1120.9" r="5.3"/><circle cx="685.4" cy="1123.3" r="5.3"/><circle cx="691.5" cy="1125.3" r="5.3"/><circle cx="691.2" cy="1131.6" r="5.3"/><circle cx="693.2" cy="1083.0" r="5.3"/><circle cx="696.0" cy="1087.9" r="5.3"/><circle cx="691.1" cy="1091.8" r="5.3"/><circle cx="695.1" cy="1100.1" r="5.3"/><circle cx="691.6" cy="1099.0" r="5.3"/><circle cx="689.1" cy="1101.7" r="5.3"/><circle cx="692.7" cy="1112.1" r="5.3"/><circle cx="691.2" cy="1113.4" r="5.3"/><circle cx="689.1" cy="1124.0" r="5.3"/><circle cx="692.1" cy="1128.2" r="5.3"/><circle cx="689.2" cy="1128.0" r="5.3"/><circle cx="700.1" cy="1083.7" r="5.3"/><circle cx="700.0" cy="1087.8" r="5.3"/><circle cx="696.2" cy="1087.4" r="5.3"/><circle cx="696.0" cy="1090.9" r="5.3"/><circle cx="694.6" cy="1096.2" r="5.3"/><circle cx="694.6" cy="1100.6" r="5.3"/><circle cx="693.3" cy="1106.3" r="5.3"/><circle cx="698.0" cy="1110.7" r="5.3"/><circle cx="697.6" cy="1112.4" r="5.3"/><circle cx="696.2" cy="1120.0" r="5.3"/><circle cx="700.1" cy="1124.4" r="5.3"/><circle cx="699.3" cy="1125.8" r="5.3"/><circle cx="696.1" cy="1132.0" r="5.3"/><circle cx="691.0" cy="1139.2" r="5.3"/><circle cx="690.2" cy="1146.4" r="5.3"/><circle cx="693.0" cy="1152.8" r="5.3"/><circle cx="695.2" cy="1154.1" r="5.3"/><circle cx="693.3" cy="1162.9" r="5.3"/><circle cx="692.7" cy="1165.5" r="5.3"/><circle cx="695.5" cy="1168.4" r="5.3"/><circle cx="691.3" cy="1169.7" r="5.3"/><circle cx="691.3" cy="1172.9" r="5.3"/><circle cx="699.7" cy="1140.6" r="5.3"/><circle cx="696.8" cy="1145.2" r="5.3"/><circle cx="700.0" cy="1153.0" r="5.3"/><circle cx="698.6" cy="1161.2" r="5.3"/><circle cx="695.2" cy="1171.6" r="5.3"/><circle cx="696.7" cy="1181.5" r="5.3"/><circle cx="672.7" cy="1023.2" r="5.3"/><circle cx="670.5" cy="1035.1" r="5.3"/><circle cx="671.1" cy="1061.6" r="5.3"/><circle cx="671.6" cy="1065.9" r="5.3"/><circle cx="686.7" cy="1023.8" r="5.3"/><circle cx="682.4" cy="1035.6" r="5.3"/><circle cx="697.5" cy="1057.3" r="5.3"/><circle cx="704.0" cy="1116.1" r="5.3"/><circle cx="681.3" cy="1110.2" r="5.3"/><circle cx="699.7" cy="1153.4" r="5.3"/><circle cx="700.8" cy="1172.8" r="5.3"/><circle cx="701.9" cy="1180.4" r="5.3"/><circle cx="686.7" cy="1165.3" r="5.3"/><circle cx="679.2" cy="1074.5" r="5.3"/><circle cx="209.4" cy="1063.4" r="5.3"/><circle cx="216.3" cy="1057.5" r="5.3"/><circle cx="224.1" cy="1057.5" r="5.3"/><circle cx="226.1" cy="1061.5" r="5.3"/><circle cx="222.2" cy="1071.3" r="5.3"/><circle cx="208.4" cy="1079.1" r="5.3"/><circle cx="230.0" cy="1086.0" r="5.3"/><circle cx="237.9" cy="1086.0" r="5.3"/><circle cx="244.7" cy="1087.0" r="5.3"/><circle cx="217.2" cy="1091.9" r="5.3"/><circle cx="224.1" cy="1091.9" r="5.3"/><circle cx="216.3" cy="1104.7" r="5.3"/><circle cx="222.2" cy="1105.7" r="5.3"/><circle cx="212.3" cy="1096.8" r="5.3"/><circle cx="233.9" cy="1087.0" r="5.3"/><circle cx="221.2" cy="1082.1" r="5.3"/><circle cx="203.5" cy="1047.7" r="5.3"/><circle cx="198.6" cy="1035.9" r="5.3"/><circle cx="230.0" cy="1033.9" r="5.3"/></g>
<path d="M247.2 1107.8V1143.4M244.2 1107.8h6.0M244.2 1143.4h6.0M263.5 1101.0V1130.2M260.5 1101.0h6.0M260.5 1130.2h6.0M277.8 1137.8V1171.9M274.8 1137.8h6.0M274.8 1171.9h6.0M289.4 1135.9V1176.0M286.4 1135.9h6.0M286.4 1176.0h6.0M302.5 1084.7V1141.5M299.5 1084.7h6.0M299.5 1141.5h6.0M314.3 1030.9V1106.6M311.3 1030.9h6.0M311.3 1106.6h6.0M326.9 1001.6V1049.1M323.9 1001.6h6.0M323.9 1049.1h6.0M337.8 949.7V1015.9M334.8 949.7h6.0M334.8 1015.9h6.0M344.7 1044.0V1095.9M341.7 1044.0h6.0M341.7 1095.9h6.0M354.4 996.6V1033.1M351.4 996.6h6.0M351.4 1033.1h6.0M364.0 984.4V1018.5M361.0 984.4h6.0M361.0 1018.5h6.0M372.8 1029.0V1066.5M369.8 1029.0h6.0M369.8 1066.5h6.0M380.7 919.7V993.8M377.7 919.7h6.0M377.7 993.8h6.0M387.8 896.6V963.8M384.8 896.6h6.0M384.8 963.8h6.0M392.9 909.8V973.5M389.9 909.8h6.0M389.9 973.5h6.0M409.2 792.7V871.6M406.2 792.7h6.0M406.2 871.6h6.0M419.8 871.1V923.6M416.8 871.1h6.0M416.8 923.6h6.0M436.6 822.8V911.7M433.6 822.8h6.0M433.6 911.7h6.0M456.4 832.5V902.4M453.4 832.5h6.0M453.4 902.4h6.0M442.8 890.5V947.6M439.8 890.5h6.0M439.8 947.6h6.0M449.8 887.0V943.6M446.8 887.0h6.0M446.8 943.6h6.0M428.1 915.3V1026.7M425.1 915.3h6.0M425.1 1026.7h6.0M407.8 968.9V1064.7M404.8 968.9h6.0M404.8 1064.7h6.0M483.8 911.7V1008.5M480.8 911.7h6.0M480.8 1008.5h6.0M473.4 972.4V1033.2M470.4 972.4h6.0M470.4 1033.2h6.0M466.6 1009.9V1068.6M463.6 1009.9h6.0M463.6 1068.6h6.0M492.6 820.7V894.9M489.6 820.7h6.0M489.6 894.9h6.0M525.9 844.0V913.5M522.9 844.0h6.0M522.9 913.5h6.0M500.2 942.7V1017.5M497.2 942.7h6.0M497.2 1017.5h6.0M508.6 987.8V1064.7M505.6 987.8h6.0M505.6 1064.7h6.0M516.7 981.2V1107.1M513.7 981.2h6.0M513.7 1107.1h6.0M534.7 970.6V1051.4M531.7 970.6h6.0M531.7 1051.4h6.0M544.1 1005.5V1075.8M541.1 1005.5h6.0M541.1 1075.8h6.0M554.2 1057.3V1113.9M551.2 1057.3h6.0M551.2 1113.9h6.0M564.4 1064.7V1128.4M561.4 1064.7h6.0M561.4 1128.4h6.0M574.5 1050.6V1109.4M571.5 1050.6h6.0M571.5 1109.4h6.0M588.5 1043.0V1120.6M585.5 1043.0h6.0M585.5 1120.6h6.0M603.5 1112.7V1169.7M600.5 1112.7h6.0M600.5 1169.7h6.0M622.1 1113.7V1175.6M619.1 1113.7h6.0M619.1 1175.6h6.0M632.3 994.5V1132.4M629.3 994.5h6.0M629.3 1132.4h6.0M649.2 1016.1V1076.0M646.2 1016.1h6.0M646.2 1076.0h6.0M677.1 1136.3V1194.3M674.1 1136.3h6.0M674.1 1194.3h6.0" stroke="#ff0000" stroke-width="2.2" fill="none"/>
<g fill="#ff0000"><circle cx="247.2" cy="1125.0" r="5.3"/><circle cx="263.5" cy="1115.6" r="5.3"/><circle cx="277.8" cy="1155.0" r="5.3"/><circle cx="289.4" cy="1155.9" r="5.3"/><circle cx="302.5" cy="1112.8" r="5.3"/><circle cx="314.3" cy="1068.4" r="5.3"/><circle cx="326.9" cy="1025.6" r="5.3"/><circle cx="337.8" cy="982.5" r="5.3"/><circle cx="344.7" cy="1069.7" r="5.3"/><circle cx="354.4" cy="1014.8" r="5.3"/><circle cx="364.0" cy="1000.7" r="5.3"/><circle cx="372.8" cy="1047.2" r="5.3"/><circle cx="380.7" cy="956.2" r="5.3"/><circle cx="387.8" cy="930.6" r="5.3"/><circle cx="392.9" cy="941.6" r="5.3"/><circle cx="409.2" cy="831.8" r="5.3"/><circle cx="419.8" cy="897.1" r="5.3"/><circle cx="436.6" cy="867.0" r="5.3"/><circle cx="456.4" cy="867.0" r="5.3"/><circle cx="442.8" cy="919.3" r="5.3"/><circle cx="449.8" cy="915.3" r="5.3"/><circle cx="428.1" cy="971.0" r="5.3"/><circle cx="407.8" cy="1017.0" r="5.3"/><circle cx="483.8" cy="959.8" r="5.3"/><circle cx="473.4" cy="1002.5" r="5.3"/><circle cx="466.6" cy="1039.6" r="5.3"/><circle cx="492.6" cy="857.8" r="5.3"/><circle cx="525.9" cy="878.1" r="5.3"/><circle cx="500.2" cy="979.8" r="5.3"/><circle cx="508.6" cy="1026.3" r="5.3"/><circle cx="516.7" cy="1044.0" r="5.3"/><circle cx="534.7" cy="1011.1" r="5.3"/><circle cx="544.1" cy="1040.5" r="5.3"/><circle cx="554.2" cy="1085.4" r="5.3"/><circle cx="564.4" cy="1096.0" r="5.3"/><circle cx="574.5" cy="1079.4" r="5.3"/><circle cx="588.5" cy="1081.9" r="5.3"/><circle cx="603.5" cy="1141.2" r="5.3"/><circle cx="622.1" cy="1144.8" r="5.3"/><circle cx="632.3" cy="1063.2" r="5.3"/><circle cx="649.2" cy="1045.5" r="5.3"/><circle cx="677.1" cy="1164.8" r="5.3"/></g>
<path d="M149.7 869.1V889.1M146.7 869.1h6.0M146.7 889.1h6.0M176.5 869.6V889.7M173.5 869.6h6.0M173.5 889.7h6.0M184.4 879.8V900.9M181.4 879.8h6.0M181.4 900.9h6.0M175.0 885.0V902.8M172.0 885.0h6.0M172.0 902.8h6.0M167.5 893.4V913.1M164.5 893.4h6.0M164.5 913.1h6.0M155.9 908.4V927.8M152.9 908.4h6.0M152.9 927.8h6.0M175.9 904.7V925.3M172.9 904.7h6.0M172.9 925.3h6.0M180.6 909.0V928.1M177.6 909.0h6.0M177.6 928.1h6.0M167.5 922.5V941.2M164.5 922.5h6.0M164.5 941.2h6.0M176.9 922.5V942.2M173.9 922.5h6.0M173.9 942.2h6.0M160.0 931.9V953.4M157.0 931.9h6.0M157.0 953.4h6.0M168.4 941.2V960.9M165.4 941.2h6.0M165.4 960.9h6.0M182.5 931.9V952.5M179.5 931.9h6.0M179.5 952.5h6.0M187.2 931.5V952.5M184.2 931.5h6.0M184.2 952.5h6.0M187.2 955.3V976.9M184.2 955.3h6.0M184.2 976.9h6.0M160.0 960.0V981.6M157.0 960.0h6.0M157.0 981.6h6.0M155.9 969.4V991.5M152.9 969.4h6.0M152.9 991.5h6.0M199.4 964.7V986.2M196.4 964.7h6.0M196.4 986.2h6.0M173.1 981.0V1002.2M170.1 981.0h6.0M170.1 1002.2h6.0M183.4 984.4V1005.9M180.4 984.4h6.0M180.4 1005.9h6.0M166.6 1015.3V1036.9M163.6 1015.3h6.0M163.6 1036.9h6.0M194.7 1020.0V1039.7M191.7 1020.0h6.0M191.7 1039.7h6.0M175.0 1035.9V1054.7M172.0 1035.9h6.0M172.0 1054.7h6.0M174.1 1047.2V1066.9M171.1 1047.2h6.0M171.1 1066.9h6.0M188.1 1049.6V1070.6M185.1 1049.6h6.0M185.1 1070.6h6.0M182.5 1059.4V1080.0M179.5 1059.4h6.0M179.5 1080.0h6.0M187.2 1063.1V1083.8M184.2 1063.1h6.0M184.2 1083.8h6.0M202.2 1067.8V1091.2M199.2 1067.8h6.0M199.2 1091.2h6.0M216.2 1077.2V1095.9M213.2 1077.2h6.0M213.2 1095.9h6.0M163.8 1077.2V1100.6M160.8 1077.2h6.0M160.8 1100.6h6.0M196.6 1081.9V1100.6M193.6 1081.9h6.0M193.6 1100.6h6.0M190.9 1092.2V1113.8M187.9 1092.2h6.0M187.9 1113.8h6.0M201.2 1099.7V1119.8M198.2 1099.7h6.0M198.2 1119.8h6.0M186.2 1147.5V1168.5M183.2 1147.5h6.0M183.2 1168.5h6.0M213.8 1158.8V1177.5M210.8 1158.8h6.0M210.8 1177.5h6.0" stroke="#008000" stroke-width="2.2" fill="none"/>
<g fill="#008000"><circle cx="149.7" cy="879.0" r="5.3"/><circle cx="176.5" cy="879.4" r="5.3"/><circle cx="184.4" cy="890.2" r="5.3"/><circle cx="175.0" cy="893.4" r="5.3"/><circle cx="167.5" cy="903.4" r="5.3"/><circle cx="155.9" cy="917.8" r="5.3"/><circle cx="175.9" cy="915.0" r="5.3"/><circle cx="180.6" cy="918.8" r="5.3"/><circle cx="167.5" cy="931.9" r="5.3"/><circle cx="176.9" cy="931.9" r="5.3"/><circle cx="160.0" cy="942.2" r="5.3"/><circle cx="168.4" cy="950.6" r="5.3"/><circle cx="182.5" cy="942.2" r="5.3"/><circle cx="187.2" cy="942.2" r="5.3"/><circle cx="187.2" cy="966.0" r="5.3"/><circle cx="160.0" cy="971.2" r="5.3"/><circle cx="155.9" cy="979.7" r="5.3"/><circle cx="199.4" cy="975.0" r="5.3"/><circle cx="173.1" cy="991.5" r="5.3"/><circle cx="183.4" cy="994.7" r="5.3"/><circle cx="166.6" cy="1025.6" r="5.3"/><circle cx="194.7" cy="1029.4" r="5.3"/><circle cx="175.0" cy="1044.4" r="5.3"/><circle cx="174.1" cy="1057.5" r="5.3"/><circle cx="188.1" cy="1060.3" r="5.3"/><circle cx="182.5" cy="1069.7" r="5.3"/><circle cx="187.2" cy="1072.5" r="5.3"/><circle cx="202.2" cy="1080.0" r="5.3"/><circle cx="216.2" cy="1085.6" r="5.3"/><circle cx="163.8" cy="1088.4" r="5.3"/><circle cx="196.6" cy="1090.3" r="5.3"/><circle cx="190.9" cy="1102.5" r="5.3"/><circle cx="201.2" cy="1110.0" r="5.3"/><circle cx="186.2" cy="1157.8" r="5.3"/><circle cx="213.8" cy="1167.8" r="5.3"/></g>
</g>
<ellipse cx="208.7" cy="766.2" rx="5.45" ry="6.5" fill="#0000ff"/><text x="219.5" y="769.6" font-family="'DejaVu Sans','Liberation Sans',sans-serif" font-size="13.4" fill="#262626"><tspan font-family="'Liberation Serif','DejaVu Serif',serif" font-style="italic" font-size="12.7" fill="#555">δ</tspan> scan - separate discharges</text><ellipse cx="208.7" cy="796.4" rx="5.45" ry="6.5" fill="#ff0000"/><text x="219.5" y="800.3" font-family="'DejaVu Sans','Liberation Sans',sans-serif" font-size="13.4" fill="#262626"><tspan font-family="'Liberation Serif','DejaVu Serif',serif" font-style="italic" font-size="12.7" fill="#555">δ</tspan> scan - single discharge</text><ellipse cx="208.7" cy="829.3" rx="5.45" ry="6.5" fill="#008000"/><text x="219.5" y="832.5" font-family="'DejaVu Sans','Liberation Sans',sans-serif" font-size="13.4" fill="#262626"><tspan font-family="'Liberation Serif','DejaVu Serif',serif" font-style="italic" font-size="12.7" fill="#555">δ</tspan> = -0.6 (#67156)</text>
<text x="568.2" y="793.2" font-family="'DejaVu Sans','Liberation Sans',sans-serif" font-size="19.8" fill="#000"><tspan font-family="'Liberation Serif','DejaVu Serif',serif" font-style="italic" fill="#222">ρ</tspan> = 0.75</text>
<text x="409.4" y="1317.2" font-family="'DejaVu Sans','Liberation Sans',sans-serif" font-size="24.7" fill="#262626" text-anchor="middle">delta</text>
<text transform="translate(21.4 1000.5) rotate(-90) scale(1.0 1)" font-family="'DejaVu Sans','Liberation Sans',sans-serif" font-size="24.7" fill="#262626" text-anchor="middle">u</text>
<text x="395" y="1402.3" font-family="'Liberation Serif','DejaVu Serif',serif" font-size="55" fill="#000" text-anchor="middle">(c)</text>
<g font-family="'DejaVu Sans','Liberation Sans',sans-serif" font-size="22.6" fill="#262626"><path d="M936.25 1259.25V742.25H1579.75V1259.25" fill="none" stroke="#a6a6a6" stroke-width="1.1"/><path d="M935.75 1259.25H1580.25" fill="none" stroke="#707070" stroke-width="1.1"/><text x="936.25" y="1287.45" text-anchor="middle">-0.8</text><text x="1028.18" y="1287.45" text-anchor="middle">-0.6</text><text x="1120.11" y="1287.45" text-anchor="middle">-0.4</text><text x="1212.04" y="1287.45" text-anchor="middle">-0.2</text><text x="1303.96" y="1287.45" text-anchor="middle">0</text><text x="1395.89" y="1287.45" text-anchor="middle">0.2</text><text x="1487.82" y="1287.45" text-anchor="middle">0.4</text><text x="1579.75" y="1287.45" text-anchor="middle">0.6</text><text x="928.75" y="1267.49" text-anchor="end">-120</text><text x="928.75" y="1215.79" text-anchor="end">-110</text><text x="928.75" y="1164.09" text-anchor="end">-100</text><text x="928.75" y="1112.39" text-anchor="end">-90</text><text x="928.75" y="1060.69" text-anchor="end">-80</text><text x="928.75" y="1008.99" text-anchor="end">-70</text><text x="928.75" y="957.29" text-anchor="end">-60</text><text x="928.75" y="905.59" text-anchor="end">-50</text><text x="928.75" y="853.89" text-anchor="end">-40</text><text x="928.75" y="802.19" text-anchor="end">-30</text><text x="928.75" y="750.49" text-anchor="end">-20</text><path d="M1028.18 1259.25v-6M1028.18 742.25v6M1120.11 1259.25v-6M1120.11 742.25v6M1212.04 1259.25v-6M1212.04 742.25v6M1303.96 1259.25v-6M1303.96 742.25v6M1395.89 1259.25v-6M1395.89 742.25v6M1487.82 1259.25v-6M1487.82 742.25v6M936.25 1207.55h6M1579.75 1207.55h-6M936.25 1155.85h6M1579.75 1155.85h-6M936.25 1104.15h6M1579.75 1104.15h-6M936.25 1052.45h6M1579.75 1052.45h-6M936.25 1000.75h6M1579.75 1000.75h-6M936.25 949.05h6M1579.75 949.05h-6M936.25 897.35h6M1579.75 897.35h-6M936.25 845.65h6M1579.75 845.65h-6M936.25 793.95h6M1579.75 793.95h-6" stroke="#8c8c8c" stroke-width="1" fill="none"/></g>
<clipPath id="cd"><rect x="936.25" y="742.25" width="643.50" height="517.00"/></clipPath>
<g clip-path="url(#cd)">
<path d="M1182.5 938.4V957.2M1179.5 938.4h6.0M1179.5 957.2h6.0M1177.8 1057.5V1064.1M1174.8 1057.5h6.0M1174.8 1064.1h6.0M1176.9 1087.5V1102.5M1173.9 1087.5h6.0M1173.9 1102.5h6.0M1304.9 923.7V931.6M1301.9 923.7h6.0M1301.9 931.6h6.0M1303.1 1068.7V1077.5M1300.1 1068.7h6.0M1300.1 1077.5h6.0M1535.3 958.9V978.3M1532.3 958.9h6.0M1532.3 978.3h6.0M1519.0 993.0V1011.6M1516.0 993.0h6.0M1516.0 1011.6h6.0M1518.7 1025.9V1046.7M1515.7 1025.9h6.0M1515.7 1046.7h6.0M1539.7 1005.2V1014.1M1536.7 1005.2h6.0M1536.7 1014.1h6.0M1544.9 1005.8V1016.7M1541.9 1005.8h6.0M1541.9 1016.7h6.0M1534.6 1024.3V1035.2M1531.6 1024.3h6.0M1531.6 1035.2h6.0M1541.0 1058.8V1069.1M1538.0 1058.8h6.0M1538.0 1069.1h6.0M1530.2 1076.1V1088.2M1527.2 1076.1h6.0M1527.2 1088.2h6.0M1534.6 1137.4V1147.7M1531.6 1137.4h6.0M1531.6 1147.7h6.0M1530.8 1166.2V1177.7M1527.8 1166.2h6.0M1527.8 1177.7h6.0M1170.2 972.7V990.8M1167.2 972.7h6.0M1167.2 990.8h6.0M1173.3 982.8V999.5M1170.3 982.8h6.0M1170.3 999.5h6.0M1167.2 984.6V1003.4M1164.2 984.6h6.0M1164.2 1003.4h6.0M1169.3 987.1V1008.5M1166.3 987.1h6.0M1166.3 1008.5h6.0M1168.3 1027.0V1042.4M1165.3 1027.0h6.0M1165.3 1042.4h6.0M1172.1 964.4V987.4M1169.1 964.4h6.0M1169.1 987.4h6.0M1175.9 996.7V1019.7M1172.9 996.7h6.0M1172.9 1019.7h6.0M1174.9 998.8V1019.7M1171.9 998.8h6.0M1171.9 1019.7h6.0M1175.7 1003.6V1021.6M1172.7 1003.6h6.0M1172.7 1021.6h6.0M1171.0 1012.4V1025.5M1168.0 1012.4h6.0M1168.0 1025.5h6.0M1174.8 1027.7V1042.2M1171.8 1027.7h6.0M1171.8 1042.2h6.0M1181.1 970.3V985.8M1178.1 970.3h6.0M1178.1 985.8h6.0M1178.2 976.6V1000.6M1175.2 976.6h6.0M1175.2 1000.6h6.0M1179.6 996.7V1011.1M1176.6 996.7h6.0M1176.6 1011.1h6.0M1177.2 1017.8V1032.9M1174.2 1017.8h6.0M1174.2 1032.9h6.0M1181.3 1019.0V1042.4M1178.3 1019.0h6.0M1178.3 1042.4h6.0M1177.5 1028.9V1050.3M1174.5 1028.9h6.0M1174.5 1050.3h6.0M1537.2 1021.8V1032.0M1534.2 1021.8h6.0M1534.2 1032.0h6.0M1537.2 1049.9V1060.1M1534.2 1049.9h6.0M1534.2 1060.1h6.0M1533.4 1113.8V1124.0M1530.4 1113.8h6.0M1530.4 1124.0h6.0" stroke="#0000ff" stroke-width="2.2" fill="none"/>
<g fill="#0000ff"><circle cx="1076.0" cy="870.0" r="5.3"/><circle cx="1064.4" cy="877.5" r="5.3"/><circle cx="1069.1" cy="884.1" r="5.3"/><circle cx="1077.5" cy="890.6" r="5.3"/><circle cx="1071.9" cy="898.1" r="5.3"/><circle cx="1055.0" cy="900.0" r="5.3"/><circle cx="1054.1" cy="907.5" r="5.3"/><circle cx="1037.2" cy="913.1" r="5.3"/><circle cx="1066.2" cy="913.1" r="5.3"/><circle cx="1040.0" cy="924.4" r="5.3"/><circle cx="1051.2" cy="922.5" r="5.3"/><circle cx="1062.5" cy="922.5" r="5.3"/><circle cx="1071.9" cy="920.6" r="5.3"/><circle cx="1081.2" cy="922.5" r="5.3"/><circle cx="1087.8" cy="926.2" r="5.3"/><circle cx="1093.4" cy="929.6" r="5.3"/><circle cx="1050.3" cy="933.8" r="5.3"/><circle cx="1052.2" cy="938.4" r="5.3"/><circle cx="1071.9" cy="933.8" r="5.3"/><circle cx="1085.0" cy="931.9" r="5.3"/><circle cx="1088.8" cy="946.9" r="5.3"/><circle cx="1046.0" cy="951.0" r="5.3"/><circle cx="1060.6" cy="926.2" r="5.3"/><circle cx="1068.1" cy="903.8" r="5.3"/><circle cx="1062.5" cy="909.4" r="5.3"/><circle cx="1077.5" cy="928.1" r="5.3"/><circle cx="1055.0" cy="928.1" r="5.3"/><circle cx="1166.6" cy="934.7" r="5.3"/><circle cx="1167.5" cy="949.7" r="5.3"/><circle cx="1182.5" cy="946.9" r="5.3"/><circle cx="1173.1" cy="961.5" r="5.3"/><circle cx="1168.4" cy="975.9" r="5.3"/><circle cx="1177.8" cy="975.0" r="5.3"/><circle cx="1182.5" cy="979.7" r="5.3"/><circle cx="1167.5" cy="988.1" r="5.3"/><circle cx="1176.9" cy="986.2" r="5.3"/><circle cx="1169.4" cy="998.4" r="5.3"/><circle cx="1177.8" cy="999.4" r="5.3"/><circle cx="1168.4" cy="1006.9" r="5.3"/><circle cx="1176.9" cy="1008.8" r="5.3"/><circle cx="1169.4" cy="1020.9" r="5.3"/><circle cx="1177.8" cy="1020.0" r="5.3"/><circle cx="1170.3" cy="1028.4" r="5.3"/><circle cx="1175.9" cy="1033.1" r="5.3"/><circle cx="1174.1" cy="1039.7" r="5.3"/><circle cx="1175.9" cy="1046.2" r="5.3"/><circle cx="1177.8" cy="1057.5" r="5.3"/><circle cx="1176.9" cy="1095.0" r="5.3"/><circle cx="1171.5" cy="975.0" r="5.3"/><circle cx="1169.3" cy="980.1" r="5.3"/><circle cx="1171.4" cy="985.2" r="5.3"/><circle cx="1171.8" cy="990.3" r="5.3"/><circle cx="1172.7" cy="995.4" r="5.3"/><circle cx="1170.9" cy="1000.4" r="5.3"/><circle cx="1170.4" cy="1005.5" r="5.3"/><circle cx="1177.1" cy="1010.6" r="5.3"/><circle cx="1172.0" cy="1015.7" r="5.3"/><circle cx="1176.5" cy="1020.8" r="5.3"/><circle cx="1171.3" cy="1025.9" r="5.3"/><circle cx="1177.7" cy="1031.0" r="5.3"/><circle cx="1170.8" cy="1036.1" r="5.3"/><circle cx="1172.9" cy="1041.2" r="5.3"/><circle cx="1171.3" cy="1046.2" r="5.3"/><circle cx="1304.9" cy="931.6" r="5.3"/><circle cx="1304.5" cy="946.1" r="5.3"/><circle cx="1303.1" cy="1068.7" r="5.3"/><circle cx="1303.1" cy="946.1" r="5.3"/><circle cx="1304.5" cy="951.4" r="5.3"/><circle cx="1303.9" cy="956.8" r="5.3"/><circle cx="1305.0" cy="962.1" r="5.3"/><circle cx="1304.7" cy="967.4" r="5.3"/><circle cx="1305.7" cy="972.8" r="5.3"/><circle cx="1303.9" cy="978.1" r="5.3"/><circle cx="1304.3" cy="983.4" r="5.3"/><circle cx="1303.5" cy="988.7" r="5.3"/><circle cx="1303.3" cy="994.1" r="5.3"/><circle cx="1304.0" cy="999.4" r="5.3"/><circle cx="1306.1" cy="1004.7" r="5.3"/><circle cx="1305.3" cy="1010.1" r="5.3"/><circle cx="1305.9" cy="1015.4" r="5.3"/><circle cx="1303.7" cy="1020.7" r="5.3"/><circle cx="1304.3" cy="1026.0" r="5.3"/><circle cx="1304.0" cy="1031.4" r="5.3"/><circle cx="1305.1" cy="1036.7" r="5.3"/><circle cx="1305.0" cy="1042.0" r="5.3"/><circle cx="1306.3" cy="1047.4" r="5.3"/><circle cx="1306.2" cy="1052.7" r="5.3"/><circle cx="1302.8" cy="1058.0" r="5.3"/><circle cx="1304.9" cy="1063.3" r="5.3"/><circle cx="1303.2" cy="1068.7" r="5.3"/><circle cx="1438.5" cy="992.4" r="5.3"/><circle cx="1441.1" cy="1011.8" r="5.3"/><circle cx="1431.8" cy="1014.8" r="5.3"/><circle cx="1435.0" cy="1021.8" r="5.3"/><circle cx="1433.7" cy="1028.8" r="5.3"/><circle cx="1436.2" cy="1032.0" r="5.3"/><circle cx="1440.1" cy="1047.3" r="5.3"/><circle cx="1438.1" cy="1053.7" r="5.3"/><circle cx="1436.2" cy="1063.3" r="5.3"/><circle cx="1437.5" cy="1069.7" r="5.3"/><circle cx="1440.7" cy="1078.0" r="5.3"/><circle cx="1440.7" cy="1089.5" r="5.3"/><circle cx="1438.1" cy="1095.9" r="5.3"/><circle cx="1439.4" cy="1100.4" r="5.3"/><circle cx="1429.2" cy="1108.7" r="5.3"/><circle cx="1435.0" cy="1108.7" r="5.3"/><circle cx="1428.6" cy="1117.6" r="5.3"/><circle cx="1439.4" cy="1121.5" r="5.3"/><circle cx="1433.7" cy="1127.9" r="5.3"/><circle cx="1440.7" cy="1131.1" r="5.3"/><circle cx="1433.7" cy="1136.8" r="5.3"/><circle cx="1440.7" cy="1143.8" r="5.3"/><circle cx="1440.1" cy="1151.5" r="5.3"/><circle cx="1535.3" cy="968.8" r="5.3"/><circle cx="1519.0" cy="1002.4" r="5.3"/><circle cx="1518.7" cy="1035.8" r="5.3"/><circle cx="1539.7" cy="1014.1" r="5.3"/><circle cx="1550.0" cy="1018.6" r="5.3"/><circle cx="1544.9" cy="1016.7" r="5.3"/><circle cx="1541.0" cy="1021.8" r="5.3"/><circle cx="1534.6" cy="1035.2" r="5.3"/><circle cx="1546.1" cy="1037.1" r="5.3"/><circle cx="1541.0" cy="1032.0" r="5.3"/><circle cx="1534.6" cy="1046.7" r="5.3"/><circle cx="1542.9" cy="1049.9" r="5.3"/><circle cx="1541.0" cy="1069.1" r="5.3"/><circle cx="1536.5" cy="1071.6" r="5.3"/><circle cx="1541.7" cy="1080.6" r="5.3"/><circle cx="1530.2" cy="1088.2" r="5.3"/><circle cx="1538.5" cy="1087.0" r="5.3"/><circle cx="1534.6" cy="1094.6" r="5.3"/><circle cx="1546.1" cy="1099.7" r="5.3"/><circle cx="1534.0" cy="1106.1" r="5.3"/><circle cx="1521.2" cy="1104.9" r="5.3"/><circle cx="1530.8" cy="1113.8" r="5.3"/><circle cx="1546.1" cy="1111.9" r="5.3"/><circle cx="1539.7" cy="1113.8" r="5.3"/><circle cx="1534.6" cy="1125.3" r="5.3"/><circle cx="1538.5" cy="1128.5" r="5.3"/><circle cx="1519.9" cy="1128.5" r="5.3"/><circle cx="1534.6" cy="1147.7" r="5.3"/><circle cx="1541.0" cy="1157.3" r="5.3"/><circle cx="1530.8" cy="1166.2" r="5.3"/><circle cx="1537.2" cy="1156.0" r="5.3"/><circle cx="1542.3" cy="1016.7" r="5.3"/><circle cx="1538.9" cy="1021.8" r="5.3"/><circle cx="1533.2" cy="1026.9" r="5.3"/><circle cx="1533.8" cy="1032.0" r="5.3"/><circle cx="1535.0" cy="1037.1" r="5.3"/><circle cx="1534.0" cy="1042.2" r="5.3"/><circle cx="1533.0" cy="1047.3" r="5.3"/><circle cx="1544.5" cy="1052.5" r="5.3"/><circle cx="1544.6" cy="1057.6" r="5.3"/><circle cx="1541.6" cy="1062.7" r="5.3"/><circle cx="1536.2" cy="1067.8" r="5.3"/><circle cx="1540.5" cy="1072.9" r="5.3"/><circle cx="1542.8" cy="1078.0" r="5.3"/><circle cx="1536.4" cy="1083.1" r="5.3"/><circle cx="1542.2" cy="1088.2" r="5.3"/><circle cx="1538.4" cy="1093.4" r="5.3"/><circle cx="1542.4" cy="1098.5" r="5.3"/><circle cx="1538.6" cy="1103.6" r="5.3"/><circle cx="1535.8" cy="1108.7" r="5.3"/><circle cx="1535.3" cy="1113.8" r="5.3"/><circle cx="1538.5" cy="1118.9" r="5.3"/><circle cx="1534.1" cy="1124.0" r="5.3"/><circle cx="1542.7" cy="1129.1" r="5.3"/><circle cx="1058.8" cy="892.5" r="5.3"/><circle cx="1066.2" cy="892.5" r="5.3"/><circle cx="1073.8" cy="890.6" r="5.3"/><circle cx="1062.5" cy="901.9" r="5.3"/><circle cx="1070.0" cy="909.4" r="5.3"/><circle cx="1058.8" cy="915.0" r="5.3"/><circle cx="1066.2" cy="920.6" r="5.3"/><circle cx="1073.8" cy="926.2" r="5.3"/><circle cx="1081.2" cy="928.1" r="5.3"/><circle cx="1055.0" cy="915.0" r="5.3"/><circle cx="1047.5" cy="922.5" r="5.3"/><circle cx="1043.8" cy="918.8" r="5.3"/><circle cx="1066.2" cy="930.0" r="5.3"/><circle cx="1058.8" cy="931.9" r="5.3"/><circle cx="1062.5" cy="935.6" r="5.3"/><circle cx="1081.2" cy="935.6" r="5.3"/><circle cx="1055.0" cy="911.2" r="5.3"/><circle cx="1051.2" cy="928.1" r="5.3"/><circle cx="1077.5" cy="918.8" r="5.3"/><circle cx="1071.9" cy="911.2" r="5.3"/><circle cx="1167.5" cy="980.1" r="5.3"/><circle cx="1170.2" cy="981.7" r="5.3"/><circle cx="1173.3" cy="991.1" r="5.3"/><circle cx="1167.2" cy="994.0" r="5.3"/><circle cx="1169.3" cy="997.8" r="5.3"/><circle cx="1171.3" cy="1002.3" r="5.3"/><circle cx="1171.3" cy="1010.7" r="5.3"/><circle cx="1166.8" cy="1015.4" r="5.3"/><circle cx="1168.9" cy="1018.1" r="5.3"/><circle cx="1169.2" cy="1025.1" r="5.3"/><circle cx="1172.2" cy="1025.4" r="5.3"/><circle cx="1170.0" cy="1027.7" r="5.3"/><circle cx="1168.3" cy="1034.7" r="5.3"/><circle cx="1172.6" cy="1038.3" r="5.3"/><circle cx="1167.3" cy="1039.0" r="5.3"/><circle cx="1172.3" cy="1046.5" r="5.3"/><circle cx="1172.1" cy="975.9" r="5.3"/><circle cx="1173.6" cy="986.7" r="5.3"/><circle cx="1174.9" cy="989.9" r="5.3"/><circle cx="1171.7" cy="993.9" r="5.3"/><circle cx="1173.3" cy="997.7" r="5.3"/><circle cx="1170.9" cy="1002.3" r="5.3"/><circle cx="1175.9" cy="1008.2" r="5.3"/><circle cx="1174.9" cy="1009.2" r="5.3"/><circle cx="1175.7" cy="1012.6" r="5.3"/><circle cx="1170.7" cy="1019.4" r="5.3"/><circle cx="1171.0" cy="1019.0" r="5.3"/><circle cx="1173.1" cy="1025.8" r="5.3"/><circle cx="1172.4" cy="1030.5" r="5.3"/><circle cx="1176.5" cy="1035.4" r="5.3"/><circle cx="1174.8" cy="1034.9" r="5.3"/><circle cx="1176.2" cy="1042.9" r="5.3"/><circle cx="1172.8" cy="1045.7" r="5.3"/><circle cx="1181.1" cy="978.1" r="5.3"/><circle cx="1177.6" cy="984.2" r="5.3"/><circle cx="1178.2" cy="988.6" r="5.3"/><circle cx="1176.9" cy="987.1" r="5.3"/><circle cx="1176.7" cy="996.5" r="5.3"/><circle cx="1175.5" cy="993.7" r="5.3"/><circle cx="1179.6" cy="1003.9" r="5.3"/><circle cx="1181.0" cy="1009.0" r="5.3"/><circle cx="1180.1" cy="1008.7" r="5.3"/><circle cx="1177.9" cy="1014.1" r="5.3"/><circle cx="1174.9" cy="1025.1" r="5.3"/><circle cx="1177.2" cy="1025.4" r="5.3"/><circle cx="1178.0" cy="1026.8" r="5.3"/><circle cx="1181.3" cy="1030.7" r="5.3"/><circle cx="1180.1" cy="1038.2" r="5.3"/><circle cx="1177.5" cy="1039.6" r="5.3"/><circle cx="1175.8" cy="1043.7" r="5.3"/><circle cx="1533.4" cy="1016.7" r="5.3"/><circle cx="1537.2" cy="1026.9" r="5.3"/><circle cx="1543.6" cy="1029.5" r="5.3"/><circle cx="1546.1" cy="1042.2" r="5.3"/><circle cx="1539.7" cy="1048.6" r="5.3"/><circle cx="1537.2" cy="1055.0" r="5.3"/><circle cx="1543.6" cy="1061.4" r="5.3"/><circle cx="1533.4" cy="1067.8" r="5.3"/><circle cx="1539.7" cy="1099.7" r="5.3"/><circle cx="1533.4" cy="1118.9" r="5.3"/><circle cx="1542.3" cy="1106.1" r="5.3"/><circle cx="1538.5" cy="1074.2" r="5.3"/><circle cx="1544.9" cy="1087.0" r="5.3"/></g>
<path d="M1125.7 924.4V939.0M1122.7 924.4h6.0M1122.7 939.0h6.0M1175.0 939.4V956.2M1172.0 939.4h6.0M1172.0 956.2h6.0M1094.8 969.4V983.4M1091.8 969.4h6.0M1091.8 983.4h6.0M1137.1 977.8V990.9M1134.1 977.8h6.0M1134.1 990.9h6.0M1202.6 961.5V976.9M1199.6 961.5h6.0M1199.6 976.9h6.0M1185.3 981.6V1016.6M1182.3 981.6h6.0M1182.3 1016.6h6.0M1192.8 1080.0V1098.8M1189.8 1080.0h6.0M1189.8 1098.8h6.0M1235.9 1069.7V1104.8M1232.9 1069.7h6.0M1232.9 1104.8h6.0M1240.6 1069.7V1085.6M1237.6 1069.7h6.0M1237.6 1085.6h6.0M1228.8 1116.6V1132.5M1225.8 1116.6h6.0M1225.8 1132.5h6.0M1256.8 943.1V959.0M1253.8 943.1h6.0M1253.8 959.0h6.0M1297.8 985.6V997.9M1294.8 985.6h6.0M1294.8 997.9h6.0M1340.2 999.3V1017.4M1337.2 999.3h6.0M1337.2 1017.4h6.0M1412.2 990.0V999.7M1409.2 990.0h6.0M1409.2 999.7h6.0M1373.8 1024.1V1047.4M1370.8 1024.1h6.0M1370.8 1047.4h6.0M1381.8 1046.6V1064.2M1378.8 1046.6h6.0M1378.8 1064.2h6.0M1304.5 1033.3V1057.2M1301.5 1033.3h6.0M1301.5 1057.2h6.0M1255.7 1049.6V1068.7M1252.7 1049.6h6.0M1252.7 1068.7h6.0M1267.7 1084.6V1098.7M1264.7 1084.6h6.0M1264.7 1098.7h6.0M1276.2 1073.6V1153.9M1273.2 1073.6h6.0M1273.2 1153.9h6.0M1284.0 1103.1V1117.3M1281.0 1103.1h6.0M1281.0 1117.3h6.0M1331.8 1081.9V1097.3M1328.8 1081.9h6.0M1328.8 1097.3h6.0M1496.9 1023.7V1057.6M1493.9 1023.7h6.0M1493.9 1057.6h6.0M1480.3 1078.0V1138.7M1477.3 1078.0h6.0M1477.3 1138.7h6.0" stroke="#ff0000" stroke-width="2.2" fill="none"/>
<g fill="#ff0000"><circle cx="1150.2" cy="901.5" r="5.3"/><circle cx="1212.1" cy="902.2" r="5.3"/><circle cx="1125.7" cy="931.5" r="5.3"/><circle cx="1161.9" cy="929.6" r="5.3"/><circle cx="1175.0" cy="946.9" r="5.3"/><circle cx="1111.2" cy="957.4" r="5.3"/><circle cx="1094.8" cy="976.5" r="5.3"/><circle cx="1137.1" cy="984.0" r="5.3"/><circle cx="1202.6" cy="969.0" r="5.3"/><circle cx="1185.3" cy="998.4" r="5.3"/><circle cx="1220.9" cy="1009.1" r="5.3"/><circle cx="1192.8" cy="1089.4" r="5.3"/><circle cx="1235.9" cy="1086.9" r="5.3"/><circle cx="1240.6" cy="1077.2" r="5.3"/><circle cx="1228.8" cy="1124.1" r="5.3"/><circle cx="1256.8" cy="951.1" r="5.3"/><circle cx="1290.7" cy="982.0" r="5.3"/><circle cx="1297.8" cy="991.7" r="5.3"/><circle cx="1340.2" cy="1008.2" r="5.3"/><circle cx="1412.2" cy="994.4" r="5.3"/><circle cx="1356.2" cy="1042.1" r="5.3"/><circle cx="1373.8" cy="1036.0" r="5.3"/><circle cx="1381.8" cy="1054.5" r="5.3"/><circle cx="1391.5" cy="1055.0" r="5.3"/><circle cx="1402.1" cy="1035.1" r="5.3"/><circle cx="1304.5" cy="1044.8" r="5.3"/><circle cx="1314.6" cy="1051.0" r="5.3"/><circle cx="1321.1" cy="1061.2" r="5.3"/><circle cx="1255.7" cy="1059.3" r="5.3"/><circle cx="1267.7" cy="1091.1" r="5.3"/><circle cx="1276.2" cy="1113.2" r="5.3"/><circle cx="1284.0" cy="1109.7" r="5.3"/><circle cx="1331.8" cy="1089.9" r="5.3"/><circle cx="1348.2" cy="1108.1" r="5.3"/><circle cx="1364.7" cy="1185.9" r="5.3"/><circle cx="1412.6" cy="994.3" r="5.3"/><circle cx="1470.1" cy="965.9" r="5.3"/><circle cx="1451.8" cy="1037.4" r="5.3"/><circle cx="1436.6" cy="1045.2" r="5.3"/><circle cx="1422.8" cy="1070.0" r="5.3"/><circle cx="1496.9" cy="1040.7" r="5.3"/><circle cx="1480.3" cy="1108.1" r="5.3"/><circle cx="1525.0" cy="995.2" r="5.3"/></g>
<path d="M1015.6 791.5V801.5M1012.6 791.5h6.0M1012.6 801.5h6.0M1010.0 793.8V803.8M1007.0 793.8h6.0M1007.0 803.8h6.0M1004.4 800.3V810.3M1001.4 800.3h6.0M1001.4 810.3h6.0M1024.1 804.1V814.1M1021.1 804.1h6.0M1021.1 814.1h6.0M1034.4 803.1V813.1M1031.4 803.1h6.0M1031.4 813.1h6.0M1014.7 815.3V825.3M1011.7 815.3h6.0M1011.7 825.3h6.0M1022.2 820.0V830.0M1019.2 820.0h6.0M1019.2 830.0h6.0M1043.8 816.2V826.2M1040.8 816.2h6.0M1040.8 826.2h6.0M1003.4 824.7V834.7M1000.4 824.7h6.0M1000.4 834.7h6.0M1033.4 830.3V840.3M1030.4 830.3h6.0M1030.4 840.3h6.0M1031.6 836.9V846.9M1028.6 836.9h6.0M1028.6 846.9h6.0M1037.2 840.6V850.6M1034.2 840.6h6.0M1034.2 850.6h6.0M1008.1 844.4V854.4M1005.1 844.4h6.0M1005.1 854.4h6.0M1021.2 846.2V856.2M1018.2 846.2h6.0M1018.2 856.2h6.0M1039.1 847.2V857.2M1036.1 847.2h6.0M1036.1 857.2h6.0M997.8 853.8V863.8M994.8 853.8h6.0M994.8 863.8h6.0M1024.1 851.9V861.9M1021.1 851.9h6.0M1021.1 861.9h6.0M1030.6 855.6V865.6M1027.6 855.6h6.0M1027.6 865.6h6.0M1047.5 856.6V866.6M1044.5 856.6h6.0M1044.5 866.6h6.0M1050.3 865.9V875.9M1047.3 865.9h6.0M1047.3 875.9h6.0M1007.2 866.9V876.9M1004.2 866.9h6.0M1004.2 876.9h6.0M1015.6 868.8V878.8M1012.6 868.8h6.0M1012.6 878.8h6.0M1023.1 869.7V879.7M1020.1 869.7h6.0M1020.1 879.7h6.0M1036.2 869.7V879.7M1033.2 869.7h6.0M1033.2 879.7h6.0M1041.9 874.4V884.4M1038.9 874.4h6.0M1038.9 884.4h6.0M1015.6 876.2V886.2M1012.6 876.2h6.0M1012.6 886.2h6.0M1047.5 878.1V888.1M1044.5 878.1h6.0M1044.5 888.1h6.0M1033.4 894.1V904.1M1030.4 894.1h6.0M1030.4 904.1h6.0M1047.5 897.8V907.8M1044.5 897.8h6.0M1044.5 907.8h6.0M1062.5 876.2V886.2M1059.5 876.2h6.0M1059.5 886.2h6.0M1061.6 893.1V903.1M1058.6 893.1h6.0M1058.6 903.1h6.0M1015.6 905.9V915.9M1012.6 905.9h6.0M1012.6 915.9h6.0M1026.9 904.4V914.4M1023.9 904.4h6.0M1023.9 914.4h6.0M1030.6 907.2V917.2M1027.6 907.2h6.0M1027.6 917.2h6.0M1024.1 921.2V931.2M1021.1 921.2h6.0M1021.1 931.2h6.0M1034.4 932.5V942.5M1031.4 932.5h6.0M1031.4 942.5h6.0M1034.4 936.2V946.2M1031.4 936.2h6.0M1031.4 946.2h6.0M1025.0 861.2V871.2M1022.0 861.2h6.0M1022.0 871.2h6.0M1032.5 863.1V873.1M1029.5 863.1h6.0M1029.5 873.1h6.0M1021.2 831.2V841.3M1018.2 831.2h6.0M1018.2 841.3h6.0M1028.8 825.6V835.7M1025.8 825.6h6.0M1025.8 835.7h6.0M1011.9 836.8V846.9M1008.9 836.8h6.0M1008.9 846.9h6.0M1017.5 857.4V867.6M1014.5 857.4h6.0M1014.5 867.6h6.0M1028.8 846.2V856.3M1025.8 846.2h6.0M1025.8 856.3h6.0M1038.1 859.3V869.4M1035.1 859.3h6.0M1035.1 869.4h6.0M1026.9 876.2V886.3M1023.9 876.2h6.0M1023.9 886.3h6.0M1006.2 857.4V867.6M1003.2 857.4h6.0M1003.2 867.6h6.0M1011.9 863.1V873.2M1008.9 863.1h6.0M1008.9 873.2h6.0M1043.8 863.1V873.2M1040.8 863.1h6.0M1040.8 873.2h6.0M1025.0 863.1V873.2M1022.0 863.1h6.0M1022.0 873.2h6.0M1030.6 872.4V882.6M1027.6 872.4h6.0M1027.6 882.6h6.0M1036.2 879.9V890.1M1033.2 879.9h6.0M1033.2 890.1h6.0M1014.7 804.9V815.1M1011.7 804.9h6.0M1011.7 815.1h6.0M1006.2 810.6V820.7M1003.2 810.6h6.0M1003.2 820.7h6.0M1038.1 894.9V905.1M1035.1 894.9h6.0M1035.1 905.1h6.0M1032.5 887.4V897.6M1029.5 887.4h6.0M1029.5 897.6h6.0" stroke="#008000" stroke-width="2.2" fill="none"/>
<g fill="#008000"><circle cx="1015.6" cy="796.5" r="5.3"/><circle cx="1010.0" cy="798.8" r="5.3"/><circle cx="1004.4" cy="805.3" r="5.3"/><circle cx="1024.1" cy="809.1" r="5.3"/><circle cx="1034.4" cy="808.1" r="5.3"/><circle cx="1014.7" cy="820.3" r="5.3"/><circle cx="1022.2" cy="825.0" r="5.3"/><circle cx="1043.8" cy="821.2" r="5.3"/><circle cx="1003.4" cy="829.7" r="5.3"/><circle cx="1033.4" cy="835.3" r="5.3"/><circle cx="1031.6" cy="841.9" r="5.3"/><circle cx="1037.2" cy="845.6" r="5.3"/><circle cx="1008.1" cy="849.4" r="5.3"/><circle cx="1021.2" cy="851.2" r="5.3"/><circle cx="1039.1" cy="852.2" r="5.3"/><circle cx="997.8" cy="858.8" r="5.3"/><circle cx="1024.1" cy="856.9" r="5.3"/><circle cx="1030.6" cy="860.6" r="5.3"/><circle cx="1047.5" cy="861.6" r="5.3"/><circle cx="1050.3" cy="870.9" r="5.3"/><circle cx="1007.2" cy="871.9" r="5.3"/><circle cx="1015.6" cy="873.8" r="5.3"/><circle cx="1023.1" cy="874.7" r="5.3"/><circle cx="1036.2" cy="874.7" r="5.3"/><circle cx="1041.9" cy="879.4" r="5.3"/><circle cx="1015.6" cy="881.2" r="5.3"/><circle cx="1047.5" cy="883.1" r="5.3"/><circle cx="1033.4" cy="899.1" r="5.3"/><circle cx="1047.5" cy="902.8" r="5.3"/><circle cx="1062.5" cy="881.2" r="5.3"/><circle cx="1061.6" cy="898.1" r="5.3"/><circle cx="1015.6" cy="910.9" r="5.3"/><circle cx="1026.9" cy="909.4" r="5.3"/><circle cx="1030.6" cy="912.2" r="5.3"/><circle cx="1024.1" cy="926.2" r="5.3"/><circle cx="1034.4" cy="937.5" r="5.3"/><circle cx="1034.4" cy="941.2" r="5.3"/><circle cx="1025.0" cy="866.2" r="5.3"/><circle cx="1032.5" cy="868.1" r="5.3"/><circle cx="1021.2" cy="836.2" r="5.3"/><circle cx="1028.8" cy="830.6" r="5.3"/><circle cx="1011.9" cy="841.9" r="5.3"/><circle cx="1017.5" cy="862.5" r="5.3"/><circle cx="1028.8" cy="851.2" r="5.3"/><circle cx="1038.1" cy="864.4" r="5.3"/><circle cx="1026.9" cy="881.2" r="5.3"/><circle cx="1006.2" cy="862.5" r="5.3"/><circle cx="1011.9" cy="868.1" r="5.3"/><circle cx="1043.8" cy="868.1" r="5.3"/><circle cx="1025.0" cy="868.1" r="5.3"/><circle cx="1030.6" cy="877.5" r="5.3"/><circle cx="1036.2" cy="885.0" r="5.3"/><circle cx="1014.7" cy="810.0" r="5.3"/><circle cx="1006.2" cy="815.6" r="5.3"/><circle cx="1038.1" cy="900.0" r="5.3"/><circle cx="1032.5" cy="892.5" r="5.3"/></g>
</g>
<ellipse cx="1366.2" cy="774.4" rx="5.45" ry="6.5" fill="#0000ff"/><text x="1378.5" y="778.0" font-family="'DejaVu Sans','Liberation Sans',sans-serif" font-size="13.4" fill="#262626"><tspan font-family="'Liberation Serif','DejaVu Serif',serif" font-style="italic" font-size="12.7" fill="#555">δ</tspan> scan - separate discharges</text><ellipse cx="1366.2" cy="805.3" rx="5.45" ry="6.5" fill="#ff0000"/><text x="1378.5" y="809.3" font-family="'DejaVu Sans','Liberation Sans',sans-serif" font-size="13.4" fill="#262626"><tspan font-family="'Liberation Serif','DejaVu Serif',serif" font-style="italic" font-size="12.7" fill="#555">δ</tspan> scan - single discharge</text><ellipse cx="1366.2" cy="838.1" rx="5.45" ry="6.5" fill="#008000"/><text x="1378.5" y="840.9" font-family="'DejaVu Sans','Liberation Sans',sans-serif" font-size="13.4" fill="#262626"><tspan font-family="'Liberation Serif','DejaVu Serif',serif" font-style="italic" font-size="12.7" fill="#555">δ</tspan> = -0.6 (#67817)</text>
<text x="1203.1" y="793.2" font-family="'DejaVu Sans','Liberation Sans',sans-serif" font-size="19.8" fill="#000"><tspan font-family="'Liberation Serif','DejaVu Serif',serif" font-style="italic" fill="#222">ρ</tspan> = 0.75</text>
<text x="1257.8" y="1317.6" font-family="'Liberation Serif','DejaVu Serif',serif" font-style="italic" font-size="27.4" fill="#444" text-anchor="middle">δ</text>
<text transform="translate(868.5 998) rotate(-90) scale(1.0 1)" font-family="'DejaVu Sans','Liberation Sans',sans-serif" font-size="24.7" fill="#262626" text-anchor="middle">u'</text>
<text x="1242" y="1402.3" font-family="'Liberation Serif','DejaVu Serif',serif" font-size="55" fill="#000" text-anchor="middle">(d)</text>
<g font-family="'DejaVu Sans','Liberation Sans',sans-serif" font-size="20.5" fill="#262626"><path d="M88.5 1892.1V1468.1H730.6V1892.1" fill="none" stroke="#a6a6a6" stroke-width="1.1"/><path d="M88.0 1892.1H731.1" fill="none" stroke="#707070" stroke-width="1.1"/><text x="88.50" y="1916.30" text-anchor="middle">-0.8</text><text x="180.23" y="1916.30" text-anchor="middle">-0.6</text><text x="271.96" y="1916.30" text-anchor="middle">-0.4</text><text x="363.69" y="1916.30" text-anchor="middle">-0.2</text><text x="455.41" y="1916.30" text-anchor="middle">0</text><text x="547.14" y="1916.30" text-anchor="middle">0.2</text><text x="638.87" y="1916.30" text-anchor="middle">0.4</text><text x="730.60" y="1916.30" text-anchor="middle">0.6</text><text x="81.50" y="1899.57" text-anchor="end">2</text><text x="81.50" y="1839.00" text-anchor="end">2.5</text><text x="81.50" y="1778.43" text-anchor="end">3</text><text x="81.50" y="1717.86" text-anchor="end">3.5</text><text x="81.50" y="1657.29" text-anchor="end">4</text><text x="81.50" y="1596.72" text-anchor="end">4.5</text><text x="81.50" y="1536.14" text-anchor="end">5</text><text x="81.50" y="1475.57" text-anchor="end">5.5</text><path d="M180.23 1892.1v-6M180.23 1468.1v6M271.96 1892.1v-6M271.96 1468.1v6M363.69 1892.1v-6M363.69 1468.1v6M455.41 1892.1v-6M455.41 1468.1v6M547.14 1892.1v-6M547.14 1468.1v6M638.87 1892.1v-6M638.87 1468.1v6M88.5 1831.53h6M730.6 1831.53h-6M88.5 1770.96h6M730.6 1770.96h-6M88.5 1710.39h6M730.6 1710.39h-6M88.5 1649.81h6M730.6 1649.81h-6M88.5 1589.24h6M730.6 1589.24h-6M88.5 1528.67h6M730.6 1528.67h-6" stroke="#8c8c8c" stroke-width="1" fill="none"/></g>
<clipPath id="ce"><rect x="88.5" y="1468.1" width="642.10" height="424.00"/></clipPath>
<g clip-path="url(#ce)">
<path d="M327.2 1646.6V1692.5M324.4 1646.6h5.6M324.4 1692.5h5.6M245.9 1707.1V1776.9M243.1 1707.1h5.6M243.1 1776.9h5.6M275.9 1706.6V1776.9M273.1 1706.6h5.6M273.1 1776.9h5.6M292.2 1677.5V1755.7M289.4 1677.5h5.6M289.4 1755.7h5.6M302.1 1700.0V1768.1M299.3 1700.0h5.6M299.3 1768.1h5.6M334.4 1675.6V1749.7M331.6 1675.6h5.6M331.6 1749.7h5.6M345.6 1702.8V1768.1M342.8 1702.8h5.6M342.8 1768.1h5.6M365.3 1695.7V1762.2M362.5 1695.7h5.6M362.5 1762.2h5.6M378.4 1655.4V1734.3M375.6 1655.4h5.6M375.6 1734.3h5.6M383.1 1646.6V1718.4M380.3 1646.6h5.6M380.3 1718.4h5.6M395.3 1654.6V1731.9M392.5 1654.6h5.6M392.5 1731.9h5.6M409.4 1670.9V1752.7M406.6 1670.9h5.6M406.6 1752.7h5.6M414.2 1712.7V1772.5M411.4 1712.7h5.6M411.4 1772.5h5.6M432.1 1633.0V1712.7M429.3 1633.0h5.6M429.3 1712.7h5.6M448.4 1683.7V1755.9M445.6 1683.7h5.6M445.6 1755.9h5.6M447.3 1710.5V1767.4M444.5 1710.5h5.6M444.5 1767.4h5.6M464.3 1655.3V1753.4M461.5 1655.3h5.6M461.5 1753.4h5.6M482.2 1704.8V1768.1M479.4 1704.8h5.6M479.4 1768.1h5.6M489.5 1653.0V1731.4M486.7 1653.0h5.6M486.7 1731.4h5.6M498.8 1696.9V1771.2M496.0 1696.9h5.6M496.0 1771.2h5.6M510.1 1724.6V1808.9M507.3 1724.6h5.6M507.3 1808.9h5.6M517.0 1727.2V1785.6M514.2 1727.2h5.6M514.2 1785.6h5.6M497.6 1766.1V1855.0M494.8 1766.1h5.6M494.8 1855.0h5.6M535.3 1644.7V1720.1M532.5 1644.7h5.6M532.5 1720.1h5.6M544.2 1696.1V1763.3M541.4 1696.1h5.6M541.4 1763.3h5.6M555.1 1654.3V1728.8M552.3 1654.3h5.6M552.3 1728.8h5.6M579.1 1679.1V1749.1M576.3 1679.1h5.6M576.3 1749.1h5.6M578.6 1704.1V1764.6M575.8 1704.1h5.6M575.8 1764.6h5.6M605.9 1667.6V1738.8M603.1 1667.6h5.6M603.1 1738.8h5.6M623.3 1696.0V1763.8M620.5 1696.0h5.6M620.5 1763.8h5.6M633.6 1692.8V1762.6M630.8 1692.8h5.6M630.8 1762.6h5.6M639.5 1689.8V1757.6M636.7 1689.8h5.6M636.7 1757.6h5.6M644.6 1641.9V1714.0M641.8 1641.9h5.6M641.8 1714.0h5.6M650.2 1685.7V1758.2M647.4 1685.7h5.6M647.4 1758.2h5.6M657.9 1702.2V1764.6M655.1 1702.2h5.6M655.1 1764.6h5.6M671.6 1693.8V1762.3M668.8 1693.8h5.6M668.8 1762.3h5.6M672.6 1649.3V1724.8M669.8 1649.3h5.6M669.8 1724.8h5.6M680.8 1654.8V1724.8M678.0 1654.8h5.6M678.0 1724.8h5.6M689.6 1689.4V1757.2M686.8 1689.4h5.6M686.8 1757.2h5.6" stroke="#ff0000" stroke-width="1.7" fill="none"/>
<g fill="#ff0000"><circle cx="245.9" cy="1741.2" r="4.9"/><circle cx="275.9" cy="1741.2" r="4.9"/><circle cx="292.2" cy="1715.9" r="4.9"/><circle cx="302.1" cy="1733.8" r="4.9"/><circle cx="334.4" cy="1712.8" r="4.9"/><circle cx="345.6" cy="1735.2" r="4.9"/><circle cx="365.3" cy="1728.5" r="4.9"/><circle cx="378.4" cy="1694.8" r="4.9"/><circle cx="383.1" cy="1682.2" r="4.9"/><circle cx="395.3" cy="1692.9" r="4.9"/><circle cx="409.4" cy="1711.8" r="4.9"/><circle cx="414.2" cy="1742.5" r="4.9"/><circle cx="432.1" cy="1672.8" r="4.9"/><circle cx="448.4" cy="1720.1" r="4.9"/><circle cx="447.3" cy="1739.3" r="4.9"/><circle cx="464.3" cy="1704.2" r="4.9"/><circle cx="482.2" cy="1736.5" r="4.9"/><circle cx="489.5" cy="1692.0" r="4.9"/><circle cx="498.8" cy="1733.9" r="4.9"/><circle cx="510.1" cy="1766.5" r="4.9"/><circle cx="517.0" cy="1755.9" r="4.9"/><circle cx="497.6" cy="1810.2" r="4.9"/><circle cx="535.3" cy="1682.4" r="4.9"/><circle cx="544.2" cy="1729.7" r="4.9"/><circle cx="555.1" cy="1691.4" r="4.9"/><circle cx="579.1" cy="1711.9" r="4.9"/><circle cx="578.6" cy="1734.0" r="4.9"/><circle cx="605.9" cy="1703.1" r="4.9"/><circle cx="623.3" cy="1729.6" r="4.9"/><circle cx="633.6" cy="1728.2" r="4.9"/><circle cx="639.5" cy="1724.0" r="4.9"/><circle cx="644.6" cy="1678.3" r="4.9"/><circle cx="650.2" cy="1721.8" r="4.9"/><circle cx="657.9" cy="1733.6" r="4.9"/><circle cx="671.6" cy="1728.2" r="4.9"/><circle cx="672.6" cy="1686.0" r="4.9"/><circle cx="680.8" cy="1689.4" r="4.9"/><circle cx="689.6" cy="1723.3" r="4.9"/></g>
<path d="M314.6 1702.5V1716.6M311.8 1702.5h5.6M311.8 1716.6h5.6M318.8 1714.3V1730.0M316.0 1714.3h5.6M316.0 1730.0h5.6M325.9 1681.7V1700.2M323.1 1681.7h5.6M323.1 1700.2h5.6M326.3 1694.4V1710.2M323.5 1694.4h5.6M323.5 1710.2h5.6M325.9 1695.1V1715.2M323.1 1695.1h5.6M323.1 1715.2h5.6M323.2 1716.1V1730.3M320.4 1716.1h5.6M320.4 1730.3h5.6M330.4 1690.1V1707.0M327.6 1690.1h5.6M327.6 1707.0h5.6M327.0 1709.6V1731.3M324.2 1709.6h5.6M324.2 1731.3h5.6M330.4 1718.3V1737.2M327.6 1718.3h5.6M327.6 1737.2h5.6M330.0 1737.7V1757.5M327.2 1737.7h5.6M327.2 1757.5h5.6M325.5 1745.1V1757.4M322.7 1745.1h5.6M322.7 1757.4h5.6M319.0 1673.6V1695.2M316.2 1673.6h5.6M316.2 1695.2h5.6M328.7 1672.3V1687.5M325.9 1672.3h5.6M325.9 1687.5h5.6M327.5 1674.0V1695.9M324.7 1674.0h5.6M324.7 1695.9h5.6M318.1 1638.1V1699.6M315.3 1638.1h5.6M315.3 1699.6h5.6M322.6 1644.3V1699.6M319.8 1644.3h5.6M319.8 1699.6h5.6M326.5 1656.7V1699.6M323.7 1656.7h5.6M323.7 1699.6h5.6M329.2 1659.8V1699.6M326.4 1659.8h5.6M326.4 1699.6h5.6M331.4 1663.8V1699.6M328.6 1663.8h5.6M328.6 1699.6h5.6M332.9 1668.2V1699.6M330.1 1668.2h5.6M330.1 1699.6h5.6M334.5 1675.3V1699.6M331.7 1675.3h5.6M331.7 1699.6h5.6M317.7 1726.2V1787.3M314.9 1726.2h5.6M314.9 1787.3h5.6M321.7 1726.2V1785.0M318.9 1726.2h5.6M318.9 1785.0h5.6M326.5 1726.2V1778.4M323.7 1726.2h5.6M323.7 1778.4h5.6M330.5 1726.2V1774.9M327.7 1726.2h5.6M327.7 1774.9h5.6M333.6 1726.2V1766.5M330.8 1726.2h5.6M330.8 1766.5h5.6M313.3 1726.2V1777.1M310.5 1726.2h5.6M310.5 1777.1h5.6M458.1 1599.0V1668.2M455.3 1599.0h5.6M455.3 1668.2h5.6M454.6 1611.3V1668.2M451.8 1611.3h5.6M451.8 1668.2h5.6M457.1 1611.3V1668.2M454.3 1611.3h5.6M454.3 1668.2h5.6M456.1 1628.9V1668.2M453.3 1628.9h5.6M453.3 1668.2h5.6M458.6 1633.9V1668.2M455.8 1633.9h5.6M455.8 1668.2h5.6M452.7 1697.7V1759.6M449.9 1697.7h5.6M449.9 1759.6h5.6M454.6 1697.7V1758.6M451.8 1697.7h5.6M451.8 1758.6h5.6M457.6 1697.7V1757.1M454.8 1697.7h5.6M454.8 1757.1h5.6M460.0 1697.7V1756.6M457.2 1697.7h5.6M457.2 1756.6h5.6M456.1 1697.7V1737.0M453.3 1697.7h5.6M453.3 1737.0h5.6M587.9 1612.0V1629.7M585.1 1612.0h5.6M585.1 1629.7h5.6M588.0 1624.6V1647.0M585.2 1624.6h5.6M585.2 1647.0h5.6M583.1 1653.6V1677.2M580.3 1653.6h5.6M580.3 1677.2h5.6M587.0 1663.4V1684.2M584.2 1663.4h5.6M584.2 1684.2h5.6M586.5 1668.6V1682.9M583.7 1668.6h5.6M583.7 1682.9h5.6M588.4 1634.5V1654.5M585.6 1634.5h5.6M585.6 1654.5h5.6M589.0 1669.1V1684.3M586.2 1669.1h5.6M586.2 1684.3h5.6M593.2 1632.7V1651.3M590.4 1632.7h5.6M590.4 1651.3h5.6M592.7 1641.5V1664.3M589.9 1641.5h5.6M589.9 1664.3h5.6M592.9 1635.6V1648.1M590.1 1635.6h5.6M590.1 1648.1h5.6M594.7 1635.4V1657.8M591.9 1635.4h5.6M591.9 1657.8h5.6M595.5 1665.2V1683.3M592.7 1665.2h5.6M592.7 1683.3h5.6M597.3 1668.0V1688.2M594.5 1668.0h5.6M594.5 1688.2h5.6M582.7 1573.7V1632.6M579.9 1573.7h5.6M579.9 1632.6h5.6M592.3 1563.4V1632.6M589.5 1563.4h5.6M589.5 1632.6h5.6M599.0 1564.1V1632.6M596.2 1564.1h5.6M596.2 1632.6h5.6M590.1 1580.3V1632.6M587.3 1580.3h5.6M587.3 1632.6h5.6M585.7 1590.6V1632.6M582.9 1590.6h5.6M582.9 1632.6h5.6M580.5 1600.2V1632.6M577.7 1600.2h5.6M577.7 1632.6h5.6M596.0 1580.3V1632.6M593.2 1580.3h5.6M593.2 1632.6h5.6M580.5 1662.1V1701.2M577.7 1662.1h5.6M577.7 1701.2h5.6M584.2 1662.1V1709.3M581.4 1662.1h5.6M581.4 1709.3h5.6M591.6 1662.1V1743.9M588.8 1662.1h5.6M588.8 1743.9h5.6M594.5 1662.1V1737.3M591.7 1662.1h5.6M591.7 1737.3h5.6M599.0 1662.1V1678.3M596.2 1662.1h5.6M596.2 1678.3h5.6M588.6 1662.1V1737.3M585.8 1662.1h5.6M585.8 1737.3h5.6M696.3 1620.1V1643.7M693.5 1620.1h5.6M693.5 1643.7h5.6M695.2 1628.1V1644.8M692.4 1628.1h5.6M692.4 1644.8h5.6M696.0 1643.5V1655.7M693.2 1643.5h5.6M693.2 1655.7h5.6M690.1 1660.8V1679.8M687.3 1660.8h5.6M687.3 1679.8h5.6M699.2 1645.7V1662.7M696.4 1645.7h5.6M696.4 1662.7h5.6M694.3 1656.1V1669.7M691.5 1656.1h5.6M691.5 1669.7h5.6M697.3 1666.7V1684.2M694.5 1666.7h5.6M694.5 1684.2h5.6M696.7 1675.5V1698.6M693.9 1675.5h5.6M693.9 1698.6h5.6M676.3 1519.3V1623.2M673.5 1519.3h5.6M673.5 1623.2h5.6M665.3 1630.8V1713.4M662.5 1630.8h5.6M662.5 1713.4h5.6M680.5 1601.2V1695.5M677.7 1601.2h5.6M677.7 1695.5h5.6M683.2 1588.1V1679.0M680.4 1588.1h5.6M680.4 1679.0h5.6M710.1 1614.3V1705.9M707.3 1614.3h5.6M707.3 1705.9h5.6M714.9 1576.4V1665.2M712.1 1576.4h5.6M712.1 1665.2h5.6M721.1 1581.2V1676.2M718.3 1581.2h5.6M718.3 1676.2h5.6M716.3 1582.6V1677.6M713.5 1582.6h5.6M713.5 1677.6h5.6M694.9 1709.3V1756.8M692.1 1709.3h5.6M692.1 1756.8h5.6M686.0 1695.5V1774.0M683.2 1695.5h5.6M683.2 1774.0h5.6M689.4 1589.5V1637.7M686.6 1589.5h5.6M686.6 1637.7h5.6M692.2 1588.1V1637.7M689.4 1588.1h5.6M689.4 1637.7h5.6M694.9 1582.6V1637.7M692.1 1582.6h5.6M692.1 1637.7h5.6M697.7 1581.2V1637.7M694.9 1581.2h5.6M694.9 1637.7h5.6M700.4 1595.0V1637.7M697.6 1595.0h5.6M697.6 1637.7h5.6M684.6 1596.4V1637.7M681.8 1596.4h5.6M681.8 1637.7h5.6M690.8 1665.2V1692.8M688.0 1665.2h5.6M688.0 1692.8h5.6M696.3 1665.2V1699.7M693.5 1665.2h5.6M693.5 1699.7h5.6M700.4 1665.2V1699.0M697.6 1665.2h5.6M697.6 1699.0h5.6M693.6 1665.2V1710.7M690.8 1665.2h5.6M690.8 1710.7h5.6" stroke="#0000ff" stroke-width="1.7" fill="none"/>
<g fill="#0000ff"><circle cx="315.6" cy="1686.1" r="4.9"/><circle cx="323.2" cy="1690.5" r="4.9"/><circle cx="323.2" cy="1704.4" r="4.9"/><circle cx="314.6" cy="1709.5" r="4.9"/><circle cx="319.2" cy="1712.5" r="4.9"/><circle cx="318.8" cy="1722.2" r="4.9"/><circle cx="322.7" cy="1729.6" r="4.9"/><circle cx="321.5" cy="1731.0" r="4.9"/><circle cx="317.7" cy="1741.1" r="4.9"/><circle cx="321.8" cy="1763.2" r="4.9"/><circle cx="325.9" cy="1691.0" r="4.9"/><circle cx="326.3" cy="1702.3" r="4.9"/><circle cx="325.9" cy="1705.1" r="4.9"/><circle cx="322.8" cy="1709.9" r="4.9"/><circle cx="327.9" cy="1717.6" r="4.9"/><circle cx="323.2" cy="1723.2" r="4.9"/><circle cx="320.7" cy="1720.8" r="4.9"/><circle cx="325.4" cy="1731.6" r="4.9"/><circle cx="322.9" cy="1742.6" r="4.9"/><circle cx="323.2" cy="1758.5" r="4.9"/><circle cx="323.4" cy="1755.7" r="4.9"/><circle cx="328.9" cy="1693.2" r="4.9"/><circle cx="330.4" cy="1698.5" r="4.9"/><circle cx="331.9" cy="1699.5" r="4.9"/><circle cx="328.0" cy="1712.5" r="4.9"/><circle cx="329.5" cy="1712.3" r="4.9"/><circle cx="327.0" cy="1720.4" r="4.9"/><circle cx="324.8" cy="1720.2" r="4.9"/><circle cx="330.4" cy="1727.8" r="4.9"/><circle cx="330.5" cy="1731.6" r="4.9"/><circle cx="326.5" cy="1735.5" r="4.9"/><circle cx="330.0" cy="1747.6" r="4.9"/><circle cx="325.5" cy="1751.2" r="4.9"/><circle cx="331.5" cy="1755.8" r="4.9"/><circle cx="318.8" cy="1668.4" r="4.9"/><circle cx="323.5" cy="1675.0" r="4.9"/><circle cx="321.3" cy="1677.7" r="4.9"/><circle cx="319.0" cy="1684.4" r="4.9"/><circle cx="322.6" cy="1675.1" r="4.9"/><circle cx="328.7" cy="1679.9" r="4.9"/><circle cx="323.5" cy="1685.1" r="4.9"/><circle cx="329.4" cy="1671.6" r="4.9"/><circle cx="330.8" cy="1678.0" r="4.9"/><circle cx="327.5" cy="1684.9" r="4.9"/><circle cx="315.0" cy="1731.9" r="4.9"/><circle cx="330.5" cy="1720.0" r="4.9"/><circle cx="318.1" cy="1687.3" r="4.9"/><circle cx="329.2" cy="1708.5" r="4.9"/><circle cx="318.1" cy="1761.6" r="4.9"/><circle cx="329.2" cy="1760.7" r="4.9"/><circle cx="460.0" cy="1651.0" r="4.9"/><circle cx="455.6" cy="1663.3" r="4.9"/><circle cx="459.6" cy="1664.8" r="4.9"/><circle cx="455.6" cy="1678.1" r="4.9"/><circle cx="458.6" cy="1684.4" r="4.9"/><circle cx="455.6" cy="1692.8" r="4.9"/><circle cx="459.6" cy="1697.7" r="4.9"/><circle cx="454.6" cy="1706.5" r="4.9"/><circle cx="458.6" cy="1709.5" r="4.9"/><circle cx="456.6" cy="1717.3" r="4.9"/><circle cx="460.5" cy="1718.3" r="4.9"/><circle cx="457.0" cy="1651.5" r="4.9"/><circle cx="456.9" cy="1655.4" r="4.9"/><circle cx="456.8" cy="1659.3" r="4.9"/><circle cx="457.6" cy="1663.1" r="4.9"/><circle cx="456.4" cy="1667.0" r="4.9"/><circle cx="457.2" cy="1670.9" r="4.9"/><circle cx="457.3" cy="1674.8" r="4.9"/><circle cx="457.6" cy="1678.6" r="4.9"/><circle cx="457.6" cy="1682.5" r="4.9"/><circle cx="457.1" cy="1686.4" r="4.9"/><circle cx="457.0" cy="1690.2" r="4.9"/><circle cx="457.1" cy="1694.1" r="4.9"/><circle cx="456.6" cy="1698.0" r="4.9"/><circle cx="456.7" cy="1701.9" r="4.9"/><circle cx="457.1" cy="1705.7" r="4.9"/><circle cx="456.9" cy="1709.6" r="4.9"/><circle cx="457.6" cy="1713.5" r="4.9"/><circle cx="457.8" cy="1717.3" r="4.9"/><circle cx="587.9" cy="1620.9" r="4.9"/><circle cx="586.5" cy="1621.9" r="4.9"/><circle cx="583.2" cy="1627.0" r="4.9"/><circle cx="587.9" cy="1631.5" r="4.9"/><circle cx="588.0" cy="1635.8" r="4.9"/><circle cx="588.2" cy="1645.3" r="4.9"/><circle cx="582.4" cy="1645.4" r="4.9"/><circle cx="584.4" cy="1647.7" r="4.9"/><circle cx="586.1" cy="1653.4" r="4.9"/><circle cx="585.7" cy="1656.0" r="4.9"/><circle cx="583.1" cy="1665.4" r="4.9"/><circle cx="587.0" cy="1673.8" r="4.9"/><circle cx="585.7" cy="1675.3" r="4.9"/><circle cx="586.5" cy="1675.8" r="4.9"/><circle cx="587.4" cy="1680.0" r="4.9"/><circle cx="582.1" cy="1686.4" r="4.9"/><circle cx="589.9" cy="1615.9" r="4.9"/><circle cx="590.5" cy="1628.1" r="4.9"/><circle cx="591.7" cy="1629.3" r="4.9"/><circle cx="587.5" cy="1635.3" r="4.9"/><circle cx="586.1" cy="1636.1" r="4.9"/><circle cx="588.4" cy="1644.5" r="4.9"/><circle cx="585.9" cy="1652.8" r="4.9"/><circle cx="589.4" cy="1657.0" r="4.9"/><circle cx="590.9" cy="1662.8" r="4.9"/><circle cx="585.3" cy="1667.3" r="4.9"/><circle cx="585.9" cy="1668.5" r="4.9"/><circle cx="589.6" cy="1675.6" r="4.9"/><circle cx="589.0" cy="1676.7" r="4.9"/><circle cx="585.2" cy="1681.7" r="4.9"/><circle cx="585.4" cy="1688.4" r="4.9"/><circle cx="590.0" cy="1616.5" r="4.9"/><circle cx="590.1" cy="1624.9" r="4.9"/><circle cx="595.2" cy="1632.6" r="4.9"/><circle cx="589.2" cy="1636.5" r="4.9"/><circle cx="593.2" cy="1642.0" r="4.9"/><circle cx="595.1" cy="1644.2" r="4.9"/><circle cx="594.6" cy="1645.9" r="4.9"/><circle cx="595.0" cy="1650.7" r="4.9"/><circle cx="592.7" cy="1652.9" r="4.9"/><circle cx="588.6" cy="1656.7" r="4.9"/><circle cx="592.8" cy="1663.6" r="4.9"/><circle cx="594.4" cy="1677.1" r="4.9"/><circle cx="588.7" cy="1679.2" r="4.9"/><circle cx="591.3" cy="1684.7" r="4.9"/><circle cx="591.3" cy="1686.2" r="4.9"/><circle cx="592.6" cy="1621.4" r="4.9"/><circle cx="595.7" cy="1620.6" r="4.9"/><circle cx="596.4" cy="1630.2" r="4.9"/><circle cx="597.5" cy="1637.4" r="4.9"/><circle cx="595.7" cy="1635.4" r="4.9"/><circle cx="592.9" cy="1641.9" r="4.9"/><circle cx="594.7" cy="1646.6" r="4.9"/><circle cx="595.6" cy="1652.3" r="4.9"/><circle cx="597.4" cy="1657.4" r="4.9"/><circle cx="597.4" cy="1658.2" r="4.9"/><circle cx="592.9" cy="1659.7" r="4.9"/><circle cx="593.3" cy="1664.8" r="4.9"/><circle cx="596.0" cy="1667.8" r="4.9"/><circle cx="595.5" cy="1674.3" r="4.9"/><circle cx="597.3" cy="1678.1" r="4.9"/><circle cx="596.5" cy="1682.3" r="4.9"/><circle cx="592.3" cy="1688.1" r="4.9"/><circle cx="592.2" cy="1686.4" r="4.9"/><circle cx="592.3" cy="1690.4" r="4.9"/><circle cx="592.1" cy="1694.3" r="4.9"/><circle cx="592.4" cy="1698.3" r="4.9"/><circle cx="591.5" cy="1702.3" r="4.9"/><circle cx="592.3" cy="1706.2" r="4.9"/><circle cx="591.9" cy="1710.2" r="4.9"/><circle cx="591.0" cy="1714.1" r="4.9"/><circle cx="591.8" cy="1718.1" r="4.9"/><circle cx="591.1" cy="1722.0" r="4.9"/><circle cx="592.4" cy="1726.0" r="4.9"/><circle cx="591.4" cy="1729.9" r="4.9"/><circle cx="599.7" cy="1614.2" r="4.9"/><circle cx="582.7" cy="1625.3" r="4.9"/><circle cx="599.7" cy="1629.0" r="4.9"/><circle cx="579.8" cy="1650.3" r="4.9"/><circle cx="596.7" cy="1690.9" r="4.9"/><circle cx="590.1" cy="1729.2" r="4.9"/><circle cx="591.6" cy="1735.8" r="4.9"/><circle cx="580.5" cy="1669.5" r="4.9"/><circle cx="599.0" cy="1662.1" r="4.9"/><circle cx="696.3" cy="1631.9" r="4.9"/><circle cx="695.2" cy="1636.4" r="4.9"/><circle cx="692.8" cy="1641.0" r="4.9"/><circle cx="695.9" cy="1641.7" r="4.9"/><circle cx="696.0" cy="1649.6" r="4.9"/><circle cx="693.9" cy="1657.7" r="4.9"/><circle cx="692.6" cy="1662.1" r="4.9"/><circle cx="690.1" cy="1670.3" r="4.9"/><circle cx="695.4" cy="1671.2" r="4.9"/><circle cx="692.5" cy="1675.3" r="4.9"/><circle cx="695.3" cy="1676.8" r="4.9"/><circle cx="694.8" cy="1686.8" r="4.9"/><circle cx="694.6" cy="1686.4" r="4.9"/><circle cx="696.4" cy="1635.2" r="4.9"/><circle cx="697.3" cy="1636.5" r="4.9"/><circle cx="697.2" cy="1637.6" r="4.9"/><circle cx="699.3" cy="1642.6" r="4.9"/><circle cx="694.1" cy="1647.7" r="4.9"/><circle cx="695.2" cy="1653.6" r="4.9"/><circle cx="699.2" cy="1654.2" r="4.9"/><circle cx="694.3" cy="1662.9" r="4.9"/><circle cx="697.3" cy="1664.9" r="4.9"/><circle cx="695.7" cy="1665.2" r="4.9"/><circle cx="699.2" cy="1672.7" r="4.9"/><circle cx="697.3" cy="1675.4" r="4.9"/><circle cx="694.8" cy="1677.0" r="4.9"/><circle cx="696.7" cy="1687.1" r="4.9"/><circle cx="696.1" cy="1685.3" r="4.9"/><circle cx="694.0" cy="1688.0" r="4.9"/><circle cx="693.7" cy="1691.8" r="4.9"/><circle cx="693.7" cy="1695.6" r="4.9"/><circle cx="694.7" cy="1699.5" r="4.9"/><circle cx="693.4" cy="1703.3" r="4.9"/><circle cx="694.8" cy="1707.1" r="4.9"/><circle cx="693.9" cy="1711.0" r="4.9"/><circle cx="694.7" cy="1714.8" r="4.9"/><circle cx="676.3" cy="1571.3" r="4.9"/><circle cx="665.3" cy="1672.1" r="4.9"/><circle cx="680.5" cy="1648.7" r="4.9"/><circle cx="683.2" cy="1634.3" r="4.9"/><circle cx="710.1" cy="1659.7" r="4.9"/><circle cx="714.9" cy="1622.5" r="4.9"/><circle cx="721.1" cy="1628.1" r="4.9"/><circle cx="716.3" cy="1628.1" r="4.9"/><circle cx="694.9" cy="1717.6" r="4.9"/><circle cx="686.0" cy="1734.1" r="4.9"/><circle cx="701.8" cy="1639.1" r="4.9"/><circle cx="702.5" cy="1652.8" r="4.9"/><circle cx="689.4" cy="1630.8" r="4.9"/><circle cx="688.0" cy="1651.5" r="4.9"/><circle cx="688.7" cy="1672.1" r="4.9"/></g>
<path d="M175.8 1688.4V1711.6M173.0 1688.4h5.6M173.0 1711.6h5.6M175.5 1702.9V1719.3M172.7 1702.9h5.6M172.7 1719.3h5.6M174.6 1716.7V1732.3M171.8 1716.7h5.6M171.8 1732.3h5.6M170.0 1732.1V1744.4M167.2 1732.1h5.6M167.2 1744.4h5.6M172.0 1744.4V1764.9M169.2 1744.4h5.6M169.2 1764.9h5.6M180.0 1707.2V1726.5M177.2 1707.2h5.6M177.2 1726.5h5.6M173.0 1715.3V1738.0M170.2 1715.3h5.6M170.2 1738.0h5.6M176.9 1719.5V1737.2M174.1 1719.5h5.6M174.1 1737.2h5.6M179.0 1726.4V1742.0M176.2 1726.4h5.6M176.2 1742.0h5.6M177.8 1728.7V1751.2M175.0 1728.7h5.6M175.0 1751.2h5.6M178.0 1745.3V1758.9M175.2 1745.3h5.6M175.2 1758.9h5.6M181.5 1704.1V1716.8M178.7 1704.1h5.6M178.7 1716.8h5.6M182.6 1709.7V1727.6M179.8 1709.7h5.6M179.8 1727.6h5.6M183.5 1742.9V1759.2M180.7 1742.9h5.6M180.7 1759.2h5.6M153.7 1684.7V1719.6M150.9 1684.7h5.6M150.9 1719.6h5.6M157.7 1663.9V1719.6M154.9 1663.9h5.6M154.9 1719.6h5.6M162.6 1666.1V1719.6M159.8 1666.1h5.6M159.8 1719.6h5.6M173.2 1658.6V1719.6M170.4 1658.6h5.6M170.4 1719.6h5.6M178.5 1659.9V1719.6M175.7 1659.9h5.6M175.7 1719.6h5.6M185.6 1648.0V1719.6M182.8 1648.0h5.6M182.8 1719.6h5.6M187.8 1661.7V1719.6M185.0 1661.7h5.6M185.0 1719.6h5.6M189.6 1682.0V1719.6M186.8 1682.0h5.6M186.8 1719.6h5.6M193.1 1698.4V1719.6M190.3 1698.4h5.6M190.3 1719.6h5.6M197.1 1700.6V1719.6M194.3 1700.6h5.6M194.3 1719.6h5.6M153.7 1719.6V1757.3M150.9 1719.6h5.6M150.9 1757.3h5.6M160.2 1719.6V1799.7M157.4 1719.6h5.6M157.4 1799.7h5.6M170.1 1719.6V1797.1M167.3 1719.6h5.6M167.3 1797.1h5.6M174.5 1719.6V1774.1M171.7 1719.6h5.6M171.7 1774.1h5.6M179.8 1719.6V1782.0M177.0 1719.6h5.6M177.0 1782.0h5.6M185.6 1719.6V1791.8M182.8 1719.6h5.6M182.8 1791.8h5.6M186.9 1719.6V1782.5M184.1 1719.6h5.6M184.1 1782.5h5.6M192.7 1719.6V1772.7M189.9 1719.6h5.6M189.9 1772.7h5.6M197.1 1719.6V1765.7M194.3 1719.6h5.6M194.3 1765.7h5.6M205.0 1719.6V1809.5M202.2 1719.6h5.6M202.2 1809.5h5.6" stroke="#008000" stroke-width="1.7" fill="none"/>
<g fill="#008000"><circle cx="167.6" cy="1694.9" r="4.9"/><circle cx="175.8" cy="1700.0" r="4.9"/><circle cx="175.4" cy="1703.4" r="4.9"/><circle cx="175.5" cy="1711.1" r="4.9"/><circle cx="176.5" cy="1720.3" r="4.9"/><circle cx="168.9" cy="1726.4" r="4.9"/><circle cx="174.6" cy="1724.5" r="4.9"/><circle cx="172.3" cy="1732.0" r="4.9"/><circle cx="170.0" cy="1738.2" r="4.9"/><circle cx="175.1" cy="1742.2" r="4.9"/><circle cx="172.0" cy="1754.7" r="4.9"/><circle cx="176.8" cy="1695.1" r="4.9"/><circle cx="177.0" cy="1701.8" r="4.9"/><circle cx="174.8" cy="1710.1" r="4.9"/><circle cx="174.9" cy="1712.6" r="4.9"/><circle cx="180.0" cy="1716.9" r="4.9"/><circle cx="173.0" cy="1726.7" r="4.9"/><circle cx="176.9" cy="1728.4" r="4.9"/><circle cx="179.0" cy="1734.2" r="4.9"/><circle cx="177.8" cy="1740.0" r="4.9"/><circle cx="178.0" cy="1752.1" r="4.9"/><circle cx="181.5" cy="1710.4" r="4.9"/><circle cx="183.3" cy="1708.9" r="4.9"/><circle cx="182.6" cy="1718.7" r="4.9"/><circle cx="187.6" cy="1726.6" r="4.9"/><circle cx="179.6" cy="1729.3" r="4.9"/><circle cx="183.0" cy="1740.1" r="4.9"/><circle cx="179.0" cy="1744.9" r="4.9"/><circle cx="183.5" cy="1751.1" r="4.9"/><circle cx="153.3" cy="1720.5" r="4.9"/><circle cx="160.2" cy="1765.7" r="4.9"/><circle cx="196.6" cy="1732.5" r="4.9"/><circle cx="205.0" cy="1775.0" r="4.9"/><circle cx="169.2" cy="1761.2" r="4.9"/><circle cx="184.2" cy="1757.7" r="4.9"/><circle cx="156.8" cy="1702.8" r="4.9"/><circle cx="162.1" cy="1702.8" r="4.9"/><circle cx="166.5" cy="1701.9" r="4.9"/><circle cx="189.6" cy="1717.9" r="4.9"/><circle cx="189.6" cy="1741.8" r="4.9"/><circle cx="166.5" cy="1741.8" r="4.9"/><circle cx="186.0" cy="1689.6" r="4.9"/><circle cx="175.4" cy="1686.0" r="4.9"/></g>
</g>
<ellipse cx="164.7" cy="1498.5" rx="5.35" ry="5.35" fill="#0000ff"/><text x="175.6" y="1502.5" font-family="'DejaVu Sans','Liberation Sans',sans-serif" font-size="11.5" fill="#262626"><tspan font-family="'Liberation Serif','DejaVu Serif',serif" font-style="italic" font-size="10.9" fill="#555">δ</tspan> scan - separate discharges</text><ellipse cx="164.7" cy="1526.25" rx="5.35" ry="5.35" fill="#ff0000"/><text x="175.6" y="1529.0" font-family="'DejaVu Sans','Liberation Sans',sans-serif" font-size="11.5" fill="#262626"><tspan font-family="'Liberation Serif','DejaVu Serif',serif" font-style="italic" font-size="10.9" fill="#555">δ</tspan> scan - single discharge</text><ellipse cx="164.7" cy="1554.0" rx="5.35" ry="5.35" fill="#008000"/><text x="175.6" y="1555.6" font-family="'DejaVu Sans','Liberation Sans',sans-serif" font-size="11.5" fill="#262626"><tspan font-family="'Liberation Serif','DejaVu Serif',serif" font-style="italic" font-size="10.9" fill="#555">δ</tspan> = -0.6 (#67156)</text>
<text x="409.6" y="1942.7" font-family="'Liberation Serif','DejaVu Serif',serif" font-style="italic" font-size="23.5" fill="#444" text-anchor="middle">δ</text>
<text transform="translate(33.4 1679.5) rotate(-90) scale(1.064 1)" font-family="'DejaVu Sans','Liberation Sans',sans-serif" font-size="21.8" fill="#262626" text-anchor="middle">R/LT<tspan font-size="18" dy="10">e</tspan></text>
<text x="394.75" y="2023" font-family="'Liberation Serif','DejaVu Serif',serif" font-size="55" fill="#000" text-anchor="middle">(e)</text>
<g font-family="'DejaVu Sans','Liberation Sans',sans-serif" font-size="20.5" fill="#262626"><path d="M935.9 1891.2V1465.75H1578.75V1891.2" fill="none" stroke="#a6a6a6" stroke-width="1.1"/><path d="M935.4 1891.2H1579.25" fill="none" stroke="#707070" stroke-width="1.1"/><text x="935.90" y="1915.90" text-anchor="middle">-0.8</text><text x="1027.74" y="1915.90" text-anchor="middle">-0.6</text><text x="1119.57" y="1915.90" text-anchor="middle">-0.4</text><text x="1211.41" y="1915.90" text-anchor="middle">-0.2</text><text x="1303.24" y="1915.90" text-anchor="middle">0</text><text x="1395.08" y="1915.90" text-anchor="middle">0.2</text><text x="1486.91" y="1915.90" text-anchor="middle">0.4</text><text x="1578.75" y="1915.90" text-anchor="middle">0.6</text><text x="930.30" y="1898.67" text-anchor="end">0.55</text><text x="930.30" y="1845.49" text-anchor="end">0.6</text><text x="930.30" y="1792.31" text-anchor="end">0.65</text><text x="930.30" y="1739.13" text-anchor="end">0.7</text><text x="930.30" y="1685.95" text-anchor="end">0.75</text><text x="930.30" y="1632.77" text-anchor="end">0.8</text><text x="930.30" y="1579.58" text-anchor="end">0.85</text><text x="930.30" y="1526.40" text-anchor="end">0.9</text><text x="930.30" y="1473.22" text-anchor="end">0.95</text><path d="M1027.74 1891.2v-6M1027.74 1465.75v6M1119.57 1891.2v-6M1119.57 1465.75v6M1211.41 1891.2v-6M1211.41 1465.75v6M1303.24 1891.2v-6M1303.24 1465.75v6M1395.08 1891.2v-6M1395.08 1465.75v6M1486.91 1891.2v-6M1486.91 1465.75v6M935.9 1838.02h6M1578.75 1838.02h-6M935.9 1784.84h6M1578.75 1784.84h-6M935.9 1731.66h6M1578.75 1731.66h-6M935.9 1678.47h6M1578.75 1678.47h-6M935.9 1625.29h6M1578.75 1625.29h-6M935.9 1572.11h6M1578.75 1572.11h-6M935.9 1518.93h6M1578.75 1518.93h-6" stroke="#8c8c8c" stroke-width="1" fill="none"/></g>
<clipPath id="cf"><rect x="935.9" y="1465.75" width="642.85" height="425.45"/></clipPath>
<g clip-path="url(#cf)">
<path d="M997.4 1661.1V1718.9M994.6 1661.1h5.6M994.6 1718.9h5.6M1003.4 1657.3V1718.9M1000.6 1657.3h5.6M1000.6 1718.9h5.6M1007.7 1674.6V1718.9M1004.9 1674.6h5.6M1004.9 1718.9h5.6M1010.9 1634.1V1718.9M1008.1 1634.1h5.6M1008.1 1718.9h5.6M1015.3 1649.2V1718.9M1012.5 1649.2h5.6M1012.5 1718.9h5.6M1023.9 1617.3V1718.9M1021.1 1617.3h5.6M1021.1 1718.9h5.6M1029.3 1677.8V1718.9M1026.5 1677.8h5.6M1026.5 1718.9h5.6M1035.8 1642.7V1718.9M1033.0 1642.7h5.6M1033.0 1718.9h5.6M1043.9 1700.5V1718.9M1041.1 1700.5h5.6M1041.1 1718.9h5.6M1017.4 1675.7V1718.9M1014.6 1675.7h5.6M1014.6 1718.9h5.6M1020.7 1669.2V1718.9M1017.9 1669.2h5.6M1017.9 1718.9h5.6M997.4 1718.9V1747.0M994.6 1718.9h5.6M994.6 1747.0h5.6M1003.4 1718.9V1758.9M1000.6 1718.9h5.6M1000.6 1758.9h5.6M1003.9 1718.9V1769.2M1001.1 1718.9h5.6M1001.1 1769.2h5.6M1007.7 1718.9V1812.4M1004.9 1718.9h5.6M1004.9 1812.4h5.6M1013.6 1718.9V1794.1M1010.8 1718.9h5.6M1010.8 1794.1h5.6M1020.7 1718.9V1791.4M1017.9 1718.9h5.6M1017.9 1791.4h5.6M1023.9 1718.9V1810.3M1021.1 1718.9h5.6M1021.1 1810.3h5.6M1029.3 1718.9V1794.6M1026.5 1718.9h5.6M1026.5 1794.6h5.6M1034.2 1718.9V1771.4M1031.4 1718.9h5.6M1031.4 1771.4h5.6M1042.3 1718.9V1774.1M1039.5 1718.9h5.6M1039.5 1774.1h5.6M1047.2 1718.9V1752.4M1044.4 1718.9h5.6M1044.4 1752.4h5.6M1049.9 1718.9V1740.5M1047.1 1718.9h5.6M1047.1 1740.5h5.6M1017.4 1718.9V1762.2M1014.6 1718.9h5.6M1014.6 1762.2h5.6M1009.9 1718.9V1765.4M1007.1 1718.9h5.6M1007.1 1765.4h5.6" stroke="#008000" stroke-width="1.7" fill="none"/>
<g fill="#008000"><ellipse cx="1024.5" cy="1664.3" rx="4.6" ry="4.3"/><ellipse cx="997.4" cy="1703.8" rx="4.6" ry="4.3"/><ellipse cx="1003.9" cy="1720.0" rx="4.6" ry="4.3"/><ellipse cx="1013.1" cy="1700.5" rx="4.6" ry="4.3"/><ellipse cx="1014.2" cy="1688.6" rx="4.6" ry="4.3"/><ellipse cx="1022.8" cy="1685.4" rx="4.6" ry="4.3"/><ellipse cx="1021.8" cy="1712.4" rx="4.6" ry="4.3"/><ellipse cx="1023.9" cy="1733.0" rx="4.6" ry="4.3"/><ellipse cx="1023.9" cy="1742.7" rx="4.6" ry="4.3"/><ellipse cx="1012.0" cy="1755.7" rx="4.6" ry="4.3"/><ellipse cx="1022.8" cy="1754.6" rx="4.6" ry="4.3"/><ellipse cx="1033.6" cy="1756.8" rx="4.6" ry="4.3"/><ellipse cx="1042.3" cy="1736.2" rx="4.6" ry="4.3"/><ellipse cx="1047.7" cy="1736.2" rx="4.6" ry="4.3"/><ellipse cx="1007.7" cy="1775.7" rx="4.6" ry="4.3"/><ellipse cx="1023.9" cy="1773.0" rx="4.6" ry="4.3"/><ellipse cx="1030.4" cy="1718.9" rx="4.6" ry="4.3"/><ellipse cx="1023.9" cy="1762.2" rx="4.6" ry="4.3"/><ellipse cx="1017.4" cy="1718.9" rx="4.6" ry="4.3"/><ellipse cx="1009.9" cy="1720.0" rx="4.6" ry="4.3"/><ellipse cx="1017.4" cy="1740.5" rx="4.6" ry="4.3"/><ellipse cx="1028.2" cy="1745.9" rx="4.6" ry="4.3"/><ellipse cx="1017.4" cy="1755.7" rx="4.6" ry="4.3"/><ellipse cx="1012.0" cy="1735.1" rx="4.6" ry="4.3"/><ellipse cx="1028.2" cy="1708.1" rx="4.6" ry="4.3"/><ellipse cx="1019.6" cy="1700.5" rx="4.6" ry="4.3"/><ellipse cx="1000.1" cy="1708.1" rx="4.6" ry="4.3"/><ellipse cx="1035.8" cy="1735.1" rx="4.6" ry="4.3"/></g>
<path d="M1034.7 1653.0V1733.0M1031.9 1653.0h5.6M1031.9 1733.0h5.6M1039.6 1649.2V1728.1M1036.8 1649.2h5.6M1036.8 1728.1h5.6M1055.0 1611.8V1632.6M1052.2 1611.8h5.6M1052.2 1632.6h5.6M1059.0 1626.7V1639.1M1056.2 1626.7h5.6M1056.2 1639.1h5.6M1055.0 1635.0V1657.0M1052.2 1635.0h5.6M1052.2 1657.0h5.6M1059.9 1642.3V1659.5M1057.1 1642.3h5.6M1057.1 1659.5h5.6M1052.6 1650.7V1669.2M1049.8 1650.7h5.6M1049.8 1669.2h5.6M1053.6 1669.3V1684.3M1050.8 1669.3h5.6M1050.8 1684.3h5.6M1053.2 1677.6V1694.3M1050.4 1677.6h5.6M1050.4 1694.3h5.6M1054.8 1685.0V1699.9M1052.0 1685.0h5.6M1052.0 1699.9h5.6M1057.2 1665.4V1684.1M1054.4 1665.4h5.6M1054.4 1684.1h5.6M1061.6 1669.9V1691.6M1058.8 1669.9h5.6M1058.8 1691.6h5.6M1068.3 1627.7V1644.5M1065.5 1627.7h5.6M1065.5 1644.5h5.6M1065.1 1671.9V1689.9M1062.3 1671.9h5.6M1062.3 1689.9h5.6M1065.6 1677.0V1700.5M1062.8 1677.0h5.6M1062.8 1700.5h5.6M1065.4 1690.6V1703.4M1062.6 1690.6h5.6M1062.6 1703.4h5.6M1070.9 1615.2V1629.9M1068.1 1615.2h5.6M1068.1 1629.9h5.6M1071.7 1634.6V1657.0M1068.9 1634.6h5.6M1068.9 1657.0h5.6M1074.2 1691.9V1713.7M1071.4 1691.9h5.6M1071.4 1713.7h5.6M1075.8 1630.4V1653.8M1073.0 1630.4h5.6M1073.0 1653.8h5.6M1072.2 1640.7V1659.1M1069.4 1640.7h5.6M1069.4 1659.1h5.6M1080.0 1670.5V1689.1M1077.2 1670.5h5.6M1077.2 1689.1h5.6M1071.6 1681.4V1701.6M1068.8 1681.4h5.6M1068.8 1701.6h5.6M1072.7 1695.7V1710.3M1069.9 1695.7h5.6M1069.9 1710.3h5.6M1068.4 1589.8V1611.3M1065.6 1589.8h5.6M1065.6 1611.3h5.6M1066.0 1596.8V1614.3M1063.2 1596.8h5.6M1063.2 1614.3h5.6M1074.8 1601.7V1621.9M1072.0 1601.7h5.6M1072.0 1621.9h5.6M1076.6 1609.1V1625.7M1073.8 1609.1h5.6M1073.8 1625.7h5.6M1072.4 1538.5V1660.5M1069.6 1538.5h5.6M1069.6 1660.5h5.6M1074.9 1564.1V1660.5M1072.1 1564.1h5.6M1072.1 1660.5h5.6M1063.4 1578.1V1660.5M1060.6 1578.1h5.6M1060.6 1660.5h5.6M1067.3 1577.5V1660.5M1064.5 1577.5h5.6M1064.5 1660.5h5.6M1050.0 1594.7V1660.5M1047.2 1594.7h5.6M1047.2 1660.5h5.6M1053.2 1601.1V1660.5M1050.4 1601.1h5.6M1050.4 1660.5h5.6M1045.5 1622.2V1660.5M1042.7 1622.2h5.6M1042.7 1660.5h5.6M1085.8 1594.7V1660.5M1083.0 1594.7h5.6M1083.0 1660.5h5.6M1092.2 1633.0V1660.5M1089.4 1633.0h5.6M1089.4 1660.5h5.6M1080.0 1598.5V1660.5M1077.2 1598.5h5.6M1077.2 1660.5h5.6M1033.4 1652.8V1660.5M1030.6 1652.8h5.6M1030.6 1660.5h5.6M1039.2 1649.0V1660.5M1036.4 1649.0h5.6M1036.4 1660.5h5.6M1058.3 1609.4V1660.5M1055.5 1609.4h5.6M1055.5 1660.5h5.6M1069.8 1583.9V1660.5M1067.0 1583.9h5.6M1067.0 1660.5h5.6M1034.0 1660.5V1732.6M1031.2 1660.5h5.6M1031.2 1732.6h5.6M1039.8 1660.5V1728.8M1037.0 1660.5h5.6M1037.0 1728.8h5.6M1050.0 1660.5V1729.5M1047.2 1660.5h5.6M1047.2 1729.5h5.6M1055.8 1660.5V1734.6M1053.0 1660.5h5.6M1053.0 1734.6h5.6M1061.5 1660.5V1731.4M1058.7 1660.5h5.6M1058.7 1731.4h5.6M1069.8 1660.5V1739.7M1067.0 1660.5h5.6M1067.0 1739.7h5.6M1072.4 1660.5V1739.7M1069.6 1660.5h5.6M1069.6 1739.7h5.6M1076.8 1660.5V1731.4M1074.0 1660.5h5.6M1074.0 1731.4h5.6M1089.0 1660.5V1752.4M1086.2 1660.5h5.6M1086.2 1752.4h5.6M1079.4 1660.5V1692.4M1076.6 1660.5h5.6M1076.6 1692.4h5.6M1083.9 1660.5V1697.5M1081.1 1660.5h5.6M1081.1 1697.5h5.6M1064.7 1660.5V1724.3M1061.9 1660.5h5.6M1061.9 1724.3h5.6M1058.3 1660.5V1719.2M1055.5 1660.5h5.6M1055.5 1719.2h5.6M1166.2 1542.0V1555.8M1163.4 1542.0h5.6M1163.4 1555.8h5.6M1167.0 1546.6V1569.9M1164.2 1546.6h5.6M1164.2 1569.9h5.6M1170.0 1555.1V1569.4M1167.2 1555.1h5.6M1167.2 1569.4h5.6M1169.5 1556.5V1574.1M1166.7 1556.5h5.6M1166.7 1574.1h5.6M1168.3 1565.5V1578.1M1165.5 1565.5h5.6M1165.5 1578.1h5.6M1166.1 1582.4V1596.1M1163.3 1582.4h5.6M1163.3 1596.1h5.6M1169.5 1597.3V1612.2M1166.7 1597.3h5.6M1166.7 1612.2h5.6M1171.8 1601.2V1618.2M1169.0 1601.2h5.6M1169.0 1618.2h5.6M1167.6 1607.3V1628.9M1164.8 1607.3h5.6M1164.8 1628.9h5.6M1168.8 1622.4V1635.5M1166.0 1622.4h5.6M1166.0 1635.5h5.6M1167.6 1628.2V1645.9M1164.8 1628.2h5.6M1164.8 1645.9h5.6M1167.6 1644.3V1660.7M1164.8 1644.3h5.6M1164.8 1660.7h5.6M1172.1 1644.4V1666.9M1169.3 1644.4h5.6M1169.3 1666.9h5.6M1172.0 1656.3V1675.5M1169.2 1656.3h5.6M1169.2 1675.5h5.6M1176.4 1539.0V1554.5M1173.6 1539.0h5.6M1173.6 1554.5h5.6M1174.8 1552.3V1574.3M1172.0 1552.3h5.6M1172.0 1574.3h5.6M1173.3 1575.6V1588.5M1170.5 1575.6h5.6M1170.5 1588.5h5.6M1174.5 1586.9V1602.2M1171.7 1586.9h5.6M1171.7 1602.2h5.6M1173.7 1596.4V1610.4M1170.9 1596.4h5.6M1170.9 1610.4h5.6M1175.4 1599.3V1616.0M1172.6 1599.3h5.6M1172.6 1616.0h5.6M1175.9 1604.2V1619.1M1173.1 1604.2h5.6M1173.1 1619.1h5.6M1174.3 1641.8V1662.5M1171.5 1641.8h5.6M1171.5 1662.5h5.6M1169.7 1646.2V1660.7M1166.9 1646.2h5.6M1166.9 1660.7h5.6M1176.0 1651.7V1670.4M1173.2 1651.7h5.6M1173.2 1670.4h5.6M1169.9 1650.4V1667.7M1167.1 1650.4h5.6M1167.1 1667.7h5.6M1170.0 1656.6V1672.2M1167.2 1656.6h5.6M1167.2 1672.2h5.6M1169.8 1661.8V1675.0M1167.0 1661.8h5.6M1167.0 1675.0h5.6M1171.1 1667.5V1684.5M1168.3 1667.5h5.6M1168.3 1684.5h5.6M1178.6 1533.9V1556.6M1175.8 1533.9h5.6M1175.8 1556.6h5.6M1178.5 1538.2V1560.9M1175.7 1538.2h5.6M1175.7 1560.9h5.6M1180.8 1540.6V1560.3M1178.0 1540.6h5.6M1178.0 1560.3h5.6M1178.5 1560.7V1579.0M1175.7 1560.7h5.6M1175.7 1579.0h5.6M1179.6 1560.6V1577.7M1176.8 1560.6h5.6M1176.8 1577.7h5.6M1175.5 1568.0V1584.5M1172.7 1568.0h5.6M1172.7 1584.5h5.6M1177.2 1566.9V1589.6M1174.4 1566.9h5.6M1174.4 1589.6h5.6M1175.7 1589.8V1602.8M1172.9 1589.8h5.6M1172.9 1602.8h5.6M1175.8 1608.6V1622.9M1173.0 1608.6h5.6M1173.0 1622.9h5.6M1175.4 1612.5V1630.1M1172.6 1612.5h5.6M1172.6 1630.1h5.6M1175.8 1649.6V1672.8M1173.0 1649.6h5.6M1173.0 1672.8h5.6M1177.7 1656.3V1675.6M1174.9 1656.3h5.6M1174.9 1675.6h5.6M1179.6 1659.8V1672.7M1176.8 1659.8h5.6M1176.8 1672.7h5.6M1168.1 1476.4V1572.2M1165.3 1476.4h5.6M1165.3 1572.2h5.6M1166.8 1490.4V1572.2M1164.0 1490.4h5.6M1164.0 1572.2h5.6M1177.1 1534.5V1572.2M1174.3 1534.5h5.6M1174.3 1572.2h5.6M1179.6 1543.5V1572.2M1176.8 1543.5h5.6M1176.8 1572.2h5.6M1171.9 1536.5V1572.2M1169.1 1536.5h5.6M1169.1 1572.2h5.6M1165.6 1648.9V1694.3M1162.8 1648.9h5.6M1162.8 1694.3h5.6M1169.4 1648.9V1718.6M1166.6 1648.9h5.6M1166.6 1718.6h5.6M1171.9 1648.9V1706.4M1169.1 1648.9h5.6M1169.1 1706.4h5.6M1177.1 1648.9V1719.2M1174.3 1648.9h5.6M1174.3 1719.2h5.6M1179.6 1648.9V1703.9M1176.8 1648.9h5.6M1176.8 1703.9h5.6M1182.2 1648.9V1700.7M1179.4 1648.9h5.6M1179.4 1700.7h5.6M1174.5 1648.9V1712.8M1171.7 1648.9h5.6M1171.7 1712.8h5.6M1305.7 1519.2V1603.3M1302.9 1519.2h5.6M1302.9 1603.3h5.6M1304.2 1545.8V1603.3M1301.4 1545.8h5.6M1301.4 1603.3h5.6M1303.5 1566.4V1603.3M1300.7 1566.4h5.6M1300.7 1603.3h5.6M1305.7 1579.7V1603.3M1302.9 1579.7h5.6M1302.9 1603.3h5.6M1305.7 1706.6V1789.3M1302.9 1706.6h5.6M1302.9 1789.3h5.6M1304.2 1706.6V1780.4M1301.4 1706.6h5.6M1301.4 1780.4h5.6M1303.5 1706.6V1750.9M1300.7 1706.6h5.6M1300.7 1750.9h5.6M1306.4 1706.6V1743.5M1303.6 1706.6h5.6M1303.6 1743.5h5.6M1441.6 1492.5V1616.3M1438.8 1492.5h5.6M1438.8 1616.3h5.6M1440.5 1597.0V1636.9M1437.7 1597.0h5.6M1437.7 1636.9h5.6M1429.8 1581.9V1741.2M1427.0 1581.9h5.6M1427.0 1741.2h5.6M1428.8 1643.8V1705.0M1426.0 1643.8h5.6M1426.0 1705.0h5.6M1437.5 1597.0V1726.3M1434.7 1597.0h5.6M1434.7 1726.3h5.6M1437.5 1602.5V1740.1M1434.7 1602.5h5.6M1434.7 1740.1h5.6M1440.5 1616.3V1753.8M1437.7 1616.3h5.6M1437.7 1753.8h5.6M1437.8 1643.8V1767.6M1435.0 1643.8h5.6M1435.0 1767.6h5.6M1439.1 1657.6V1782.0M1436.3 1657.6h5.6M1436.3 1782.0h5.6M1437.8 1671.3V1774.5M1435.0 1671.3h5.6M1435.0 1774.5h5.6M1439.1 1685.1V1781.3M1436.3 1685.1h5.6M1436.3 1781.3h5.6M1520.6 1572.3V1696.1M1517.8 1572.3h5.6M1517.8 1696.1h5.6M1519.6 1599.8V1696.1M1516.8 1599.8h5.6M1516.8 1696.1h5.6M1534.1 1584.0V1770.3M1531.3 1584.0h5.6M1531.3 1770.3h5.6M1540.9 1586.7V1775.8M1538.1 1586.7h5.6M1538.1 1775.8h5.6M1535.4 1616.3V1753.8M1532.6 1616.3h5.6M1532.6 1753.8h5.6M1540.9 1630.0V1781.3M1538.1 1630.0h5.6M1538.1 1781.3h5.6M1529.2 1656.9V1742.8M1526.4 1656.9h5.6M1526.4 1742.8h5.6M1535.4 1657.6V1753.8M1532.6 1657.6h5.6M1532.6 1753.8h5.6M1543.7 1661.0V1782.0M1540.9 1661.0h5.6M1540.9 1782.0h5.6M1539.6 1671.3V1753.8M1536.8 1671.3h5.6M1536.8 1753.8h5.6" stroke="#0000ff" stroke-width="1.7" fill="none"/>
<g fill="#0000ff"><ellipse cx="1034.7" cy="1693.0" rx="4.6" ry="4.3"/><ellipse cx="1039.6" cy="1689.7" rx="4.6" ry="4.3"/><ellipse cx="1055.0" cy="1622.2" rx="4.6" ry="4.3"/><ellipse cx="1059.0" cy="1632.9" rx="4.6" ry="4.3"/><ellipse cx="1055.1" cy="1642.6" rx="4.6" ry="4.3"/><ellipse cx="1055.0" cy="1646.0" rx="4.6" ry="4.3"/><ellipse cx="1059.9" cy="1650.9" rx="4.6" ry="4.3"/><ellipse cx="1059.0" cy="1655.7" rx="4.6" ry="4.3"/><ellipse cx="1052.6" cy="1659.9" rx="4.6" ry="4.3"/><ellipse cx="1060.2" cy="1670.1" rx="4.6" ry="4.3"/><ellipse cx="1053.6" cy="1676.8" rx="4.6" ry="4.3"/><ellipse cx="1053.4" cy="1677.3" rx="4.6" ry="4.3"/><ellipse cx="1053.2" cy="1686.0" rx="4.6" ry="4.3"/><ellipse cx="1053.3" cy="1691.3" rx="4.6" ry="4.3"/><ellipse cx="1054.8" cy="1692.4" rx="4.6" ry="4.3"/><ellipse cx="1055.5" cy="1695.9" rx="4.6" ry="4.3"/><ellipse cx="1060.9" cy="1622.1" rx="4.6" ry="4.3"/><ellipse cx="1059.0" cy="1631.1" rx="4.6" ry="4.3"/><ellipse cx="1061.1" cy="1640.9" rx="4.6" ry="4.3"/><ellipse cx="1056.4" cy="1651.5" rx="4.6" ry="4.3"/><ellipse cx="1062.8" cy="1658.0" rx="4.6" ry="4.3"/><ellipse cx="1064.5" cy="1664.0" rx="4.6" ry="4.3"/><ellipse cx="1057.2" cy="1674.7" rx="4.6" ry="4.3"/><ellipse cx="1061.6" cy="1680.8" rx="4.6" ry="4.3"/><ellipse cx="1057.5" cy="1689.5" rx="4.6" ry="4.3"/><ellipse cx="1058.4" cy="1693.4" rx="4.6" ry="4.3"/><ellipse cx="1060.0" cy="1701.4" rx="4.6" ry="4.3"/><ellipse cx="1067.0" cy="1623.2" rx="4.6" ry="4.3"/><ellipse cx="1061.5" cy="1631.3" rx="4.6" ry="4.3"/><ellipse cx="1062.8" cy="1635.3" rx="4.6" ry="4.3"/><ellipse cx="1068.3" cy="1636.1" rx="4.6" ry="4.3"/><ellipse cx="1068.7" cy="1644.1" rx="4.6" ry="4.3"/><ellipse cx="1065.0" cy="1645.9" rx="4.6" ry="4.3"/><ellipse cx="1070.0" cy="1657.9" rx="4.6" ry="4.3"/><ellipse cx="1070.0" cy="1662.7" rx="4.6" ry="4.3"/><ellipse cx="1061.9" cy="1664.4" rx="4.6" ry="4.3"/><ellipse cx="1065.2" cy="1675.2" rx="4.6" ry="4.3"/><ellipse cx="1065.1" cy="1680.9" rx="4.6" ry="4.3"/><ellipse cx="1064.1" cy="1684.3" rx="4.6" ry="4.3"/><ellipse cx="1065.6" cy="1688.7" rx="4.6" ry="4.3"/><ellipse cx="1063.9" cy="1694.1" rx="4.6" ry="4.3"/><ellipse cx="1065.4" cy="1697.0" rx="4.6" ry="4.3"/><ellipse cx="1070.9" cy="1622.5" rx="4.6" ry="4.3"/><ellipse cx="1073.8" cy="1625.1" rx="4.6" ry="4.3"/><ellipse cx="1068.2" cy="1629.9" rx="4.6" ry="4.3"/><ellipse cx="1073.9" cy="1634.1" rx="4.6" ry="4.3"/><ellipse cx="1071.7" cy="1645.8" rx="4.6" ry="4.3"/><ellipse cx="1068.2" cy="1646.3" rx="4.6" ry="4.3"/><ellipse cx="1071.0" cy="1653.4" rx="4.6" ry="4.3"/><ellipse cx="1073.4" cy="1660.0" rx="4.6" ry="4.3"/><ellipse cx="1068.6" cy="1659.4" rx="4.6" ry="4.3"/><ellipse cx="1067.7" cy="1673.0" rx="4.6" ry="4.3"/><ellipse cx="1067.6" cy="1672.1" rx="4.6" ry="4.3"/><ellipse cx="1066.7" cy="1685.7" rx="4.6" ry="4.3"/><ellipse cx="1070.5" cy="1685.7" rx="4.6" ry="4.3"/><ellipse cx="1074.5" cy="1696.4" rx="4.6" ry="4.3"/><ellipse cx="1074.2" cy="1702.8" rx="4.6" ry="4.3"/><ellipse cx="1075.8" cy="1622.1" rx="4.6" ry="4.3"/><ellipse cx="1074.6" cy="1629.1" rx="4.6" ry="4.3"/><ellipse cx="1072.4" cy="1635.3" rx="4.6" ry="4.3"/><ellipse cx="1075.8" cy="1642.1" rx="4.6" ry="4.3"/><ellipse cx="1078.1" cy="1641.1" rx="4.6" ry="4.3"/><ellipse cx="1072.2" cy="1649.9" rx="4.6" ry="4.3"/><ellipse cx="1071.2" cy="1661.2" rx="4.6" ry="4.3"/><ellipse cx="1079.1" cy="1668.8" rx="4.6" ry="4.3"/><ellipse cx="1075.0" cy="1673.4" rx="4.6" ry="4.3"/><ellipse cx="1079.7" cy="1675.5" rx="4.6" ry="4.3"/><ellipse cx="1080.0" cy="1679.8" rx="4.6" ry="4.3"/><ellipse cx="1075.0" cy="1690.2" rx="4.6" ry="4.3"/><ellipse cx="1071.6" cy="1691.5" rx="4.6" ry="4.3"/><ellipse cx="1072.7" cy="1703.0" rx="4.6" ry="4.3"/><ellipse cx="1068.4" cy="1600.6" rx="4.6" ry="4.3"/><ellipse cx="1066.0" cy="1605.5" rx="4.6" ry="4.3"/><ellipse cx="1063.2" cy="1613.4" rx="4.6" ry="4.3"/><ellipse cx="1068.4" cy="1614.1" rx="4.6" ry="4.3"/><ellipse cx="1070.3" cy="1596.8" rx="4.6" ry="4.3"/><ellipse cx="1070.8" cy="1604.6" rx="4.6" ry="4.3"/><ellipse cx="1073.8" cy="1609.7" rx="4.6" ry="4.3"/><ellipse cx="1070.4" cy="1622.4" rx="4.6" ry="4.3"/><ellipse cx="1077.3" cy="1599.6" rx="4.6" ry="4.3"/><ellipse cx="1076.8" cy="1606.3" rx="4.6" ry="4.3"/><ellipse cx="1077.5" cy="1605.4" rx="4.6" ry="4.3"/><ellipse cx="1074.8" cy="1611.8" rx="4.6" ry="4.3"/><ellipse cx="1075.9" cy="1614.4" rx="4.6" ry="4.3"/><ellipse cx="1076.6" cy="1617.4" rx="4.6" ry="4.3"/><ellipse cx="1046.2" cy="1663.0" rx="4.6" ry="4.3"/><ellipse cx="1033.4" cy="1692.4" rx="4.6" ry="4.3"/><ellipse cx="1040.4" cy="1689.2" rx="4.6" ry="4.3"/><ellipse cx="1086.4" cy="1645.8" rx="4.6" ry="4.3"/><ellipse cx="1086.4" cy="1668.8" rx="4.6" ry="4.3"/><ellipse cx="1092.2" cy="1676.4" rx="4.6" ry="4.3"/><ellipse cx="1087.7" cy="1723.1" rx="4.6" ry="4.3"/><ellipse cx="1073.0" cy="1596.6" rx="4.6" ry="4.3"/><ellipse cx="1081.3" cy="1652.8" rx="4.6" ry="4.3"/><ellipse cx="1050.7" cy="1622.2" rx="4.6" ry="4.3"/><ellipse cx="1058.3" cy="1619.6" rx="4.6" ry="4.3"/><ellipse cx="1080.0" cy="1622.2" rx="4.6" ry="4.3"/><ellipse cx="1050.7" cy="1702.6" rx="4.6" ry="4.3"/><ellipse cx="1076.2" cy="1703.9" rx="4.6" ry="4.3"/><ellipse cx="1063.4" cy="1705.2" rx="4.6" ry="4.3"/><ellipse cx="1170.6" cy="1544.9" rx="4.6" ry="4.3"/><ellipse cx="1166.2" cy="1548.9" rx="4.6" ry="4.3"/><ellipse cx="1170.7" cy="1551.6" rx="4.6" ry="4.3"/><ellipse cx="1167.0" cy="1558.3" rx="4.6" ry="4.3"/><ellipse cx="1170.0" cy="1562.3" rx="4.6" ry="4.3"/><ellipse cx="1169.5" cy="1565.3" rx="4.6" ry="4.3"/><ellipse cx="1168.1" cy="1568.3" rx="4.6" ry="4.3"/><ellipse cx="1168.3" cy="1571.8" rx="4.6" ry="4.3"/><ellipse cx="1171.5" cy="1577.4" rx="4.6" ry="4.3"/><ellipse cx="1170.4" cy="1577.0" rx="4.6" ry="4.3"/><ellipse cx="1166.7" cy="1581.3" rx="4.6" ry="4.3"/><ellipse cx="1166.1" cy="1589.3" rx="4.6" ry="4.3"/><ellipse cx="1168.4" cy="1588.9" rx="4.6" ry="4.3"/><ellipse cx="1167.3" cy="1594.1" rx="4.6" ry="4.3"/><ellipse cx="1166.8" cy="1600.0" rx="4.6" ry="4.3"/><ellipse cx="1169.5" cy="1604.7" rx="4.6" ry="4.3"/><ellipse cx="1171.8" cy="1609.7" rx="4.6" ry="4.3"/><ellipse cx="1167.6" cy="1618.1" rx="4.6" ry="4.3"/><ellipse cx="1166.3" cy="1619.0" rx="4.6" ry="4.3"/><ellipse cx="1172.1" cy="1626.3" rx="4.6" ry="4.3"/><ellipse cx="1168.8" cy="1628.9" rx="4.6" ry="4.3"/><ellipse cx="1169.8" cy="1631.3" rx="4.6" ry="4.3"/><ellipse cx="1167.6" cy="1637.0" rx="4.6" ry="4.3"/><ellipse cx="1171.8" cy="1637.5" rx="4.6" ry="4.3"/><ellipse cx="1166.3" cy="1649.5" rx="4.6" ry="4.3"/><ellipse cx="1171.4" cy="1649.2" rx="4.6" ry="4.3"/><ellipse cx="1167.6" cy="1652.5" rx="4.6" ry="4.3"/><ellipse cx="1172.1" cy="1655.6" rx="4.6" ry="4.3"/><ellipse cx="1171.5" cy="1659.3" rx="4.6" ry="4.3"/><ellipse cx="1172.0" cy="1665.9" rx="4.6" ry="4.3"/><ellipse cx="1166.4" cy="1668.7" rx="4.6" ry="4.3"/><ellipse cx="1170.9" cy="1676.6" rx="4.6" ry="4.3"/><ellipse cx="1176.4" cy="1546.8" rx="4.6" ry="4.3"/><ellipse cx="1173.1" cy="1550.7" rx="4.6" ry="4.3"/><ellipse cx="1176.7" cy="1549.4" rx="4.6" ry="4.3"/><ellipse cx="1171.4" cy="1558.5" rx="4.6" ry="4.3"/><ellipse cx="1172.5" cy="1559.4" rx="4.6" ry="4.3"/><ellipse cx="1174.8" cy="1563.3" rx="4.6" ry="4.3"/><ellipse cx="1171.0" cy="1569.3" rx="4.6" ry="4.3"/><ellipse cx="1172.2" cy="1572.5" rx="4.6" ry="4.3"/><ellipse cx="1170.2" cy="1578.0" rx="4.6" ry="4.3"/><ellipse cx="1173.3" cy="1582.2" rx="4.6" ry="4.3"/><ellipse cx="1173.3" cy="1582.0" rx="4.6" ry="4.3"/><ellipse cx="1173.3" cy="1591.8" rx="4.6" ry="4.3"/><ellipse cx="1174.5" cy="1594.5" rx="4.6" ry="4.3"/><ellipse cx="1171.3" cy="1599.1" rx="4.6" ry="4.3"/><ellipse cx="1173.7" cy="1603.4" rx="4.6" ry="4.3"/><ellipse cx="1175.4" cy="1607.6" rx="4.6" ry="4.3"/><ellipse cx="1170.2" cy="1609.6" rx="4.6" ry="4.3"/><ellipse cx="1175.9" cy="1611.7" rx="4.6" ry="4.3"/><ellipse cx="1172.1" cy="1617.4" rx="4.6" ry="4.3"/><ellipse cx="1172.1" cy="1621.4" rx="4.6" ry="4.3"/><ellipse cx="1171.2" cy="1627.0" rx="4.6" ry="4.3"/><ellipse cx="1173.9" cy="1627.6" rx="4.6" ry="4.3"/><ellipse cx="1170.6" cy="1636.3" rx="4.6" ry="4.3"/><ellipse cx="1170.2" cy="1638.4" rx="4.6" ry="4.3"/><ellipse cx="1174.0" cy="1646.4" rx="4.6" ry="4.3"/><ellipse cx="1174.3" cy="1652.1" rx="4.6" ry="4.3"/><ellipse cx="1169.7" cy="1653.5" rx="4.6" ry="4.3"/><ellipse cx="1176.0" cy="1661.1" rx="4.6" ry="4.3"/><ellipse cx="1169.9" cy="1659.0" rx="4.6" ry="4.3"/><ellipse cx="1170.0" cy="1664.4" rx="4.6" ry="4.3"/><ellipse cx="1169.8" cy="1668.4" rx="4.6" ry="4.3"/><ellipse cx="1171.1" cy="1676.0" rx="4.6" ry="4.3"/><ellipse cx="1178.6" cy="1545.3" rx="4.6" ry="4.3"/><ellipse cx="1178.5" cy="1549.5" rx="4.6" ry="4.3"/><ellipse cx="1180.8" cy="1550.5" rx="4.6" ry="4.3"/><ellipse cx="1174.4" cy="1552.7" rx="4.6" ry="4.3"/><ellipse cx="1179.5" cy="1558.7" rx="4.6" ry="4.3"/><ellipse cx="1178.9" cy="1560.5" rx="4.6" ry="4.3"/><ellipse cx="1178.5" cy="1569.8" rx="4.6" ry="4.3"/><ellipse cx="1179.6" cy="1569.1" rx="4.6" ry="4.3"/><ellipse cx="1175.5" cy="1576.3" rx="4.6" ry="4.3"/><ellipse cx="1177.2" cy="1578.3" rx="4.6" ry="4.3"/><ellipse cx="1178.3" cy="1584.6" rx="4.6" ry="4.3"/><ellipse cx="1178.1" cy="1585.0" rx="4.6" ry="4.3"/><ellipse cx="1177.3" cy="1591.1" rx="4.6" ry="4.3"/><ellipse cx="1179.0" cy="1598.6" rx="4.6" ry="4.3"/><ellipse cx="1175.7" cy="1596.3" rx="4.6" ry="4.3"/><ellipse cx="1180.0" cy="1606.3" rx="4.6" ry="4.3"/><ellipse cx="1179.0" cy="1605.0" rx="4.6" ry="4.3"/><ellipse cx="1179.4" cy="1607.8" rx="4.6" ry="4.3"/><ellipse cx="1175.8" cy="1615.8" rx="4.6" ry="4.3"/><ellipse cx="1175.4" cy="1621.3" rx="4.6" ry="4.3"/><ellipse cx="1177.5" cy="1623.9" rx="4.6" ry="4.3"/><ellipse cx="1179.9" cy="1628.6" rx="4.6" ry="4.3"/><ellipse cx="1179.8" cy="1634.5" rx="4.6" ry="4.3"/><ellipse cx="1180.7" cy="1637.8" rx="4.6" ry="4.3"/><ellipse cx="1179.6" cy="1644.2" rx="4.6" ry="4.3"/><ellipse cx="1179.4" cy="1643.6" rx="4.6" ry="4.3"/><ellipse cx="1177.7" cy="1653.8" rx="4.6" ry="4.3"/><ellipse cx="1180.8" cy="1655.9" rx="4.6" ry="4.3"/><ellipse cx="1175.8" cy="1661.2" rx="4.6" ry="4.3"/><ellipse cx="1177.7" cy="1666.0" rx="4.6" ry="4.3"/><ellipse cx="1179.6" cy="1666.2" rx="4.6" ry="4.3"/><ellipse cx="1179.3" cy="1671.7" rx="4.6" ry="4.3"/><ellipse cx="1181.1" cy="1672.6" rx="4.6" ry="4.3"/><ellipse cx="1167.5" cy="1545.4" rx="4.6" ry="4.3"/><ellipse cx="1166.8" cy="1561.4" rx="4.6" ry="4.3"/><ellipse cx="1166.2" cy="1588.8" rx="4.6" ry="4.3"/><ellipse cx="1164.9" cy="1624.6" rx="4.6" ry="4.3"/><ellipse cx="1182.2" cy="1659.1" rx="4.6" ry="4.3"/><ellipse cx="1182.8" cy="1664.2" rx="4.6" ry="4.3"/><ellipse cx="1178.3" cy="1581.2" rx="4.6" ry="4.3"/><ellipse cx="1178.3" cy="1610.6" rx="4.6" ry="4.3"/><ellipse cx="1167.5" cy="1597.8" rx="4.6" ry="4.3"/><ellipse cx="1177.1" cy="1636.1" rx="4.6" ry="4.3"/><ellipse cx="1304.0" cy="1594.5" rx="4.6" ry="4.3"/><ellipse cx="1303.0" cy="1598.4" rx="4.6" ry="4.3"/><ellipse cx="1303.5" cy="1602.3" rx="4.6" ry="4.3"/><ellipse cx="1303.2" cy="1606.3" rx="4.6" ry="4.3"/><ellipse cx="1304.0" cy="1610.2" rx="4.6" ry="4.3"/><ellipse cx="1303.8" cy="1614.1" rx="4.6" ry="4.3"/><ellipse cx="1303.9" cy="1618.1" rx="4.6" ry="4.3"/><ellipse cx="1303.0" cy="1622.0" rx="4.6" ry="4.3"/><ellipse cx="1303.6" cy="1626.0" rx="4.6" ry="4.3"/><ellipse cx="1304.7" cy="1629.9" rx="4.6" ry="4.3"/><ellipse cx="1303.6" cy="1633.8" rx="4.6" ry="4.3"/><ellipse cx="1303.5" cy="1637.8" rx="4.6" ry="4.3"/><ellipse cx="1304.5" cy="1641.7" rx="4.6" ry="4.3"/><ellipse cx="1303.9" cy="1645.6" rx="4.6" ry="4.3"/><ellipse cx="1303.3" cy="1649.6" rx="4.6" ry="4.3"/><ellipse cx="1303.9" cy="1653.5" rx="4.6" ry="4.3"/><ellipse cx="1303.3" cy="1657.4" rx="4.6" ry="4.3"/><ellipse cx="1303.9" cy="1661.4" rx="4.6" ry="4.3"/><ellipse cx="1304.1" cy="1665.3" rx="4.6" ry="4.3"/><ellipse cx="1304.8" cy="1669.2" rx="4.6" ry="4.3"/><ellipse cx="1304.4" cy="1673.2" rx="4.6" ry="4.3"/><ellipse cx="1303.1" cy="1677.1" rx="4.6" ry="4.3"/><ellipse cx="1303.5" cy="1681.1" rx="4.6" ry="4.3"/><ellipse cx="1303.9" cy="1685.0" rx="4.6" ry="4.3"/><ellipse cx="1304.2" cy="1688.9" rx="4.6" ry="4.3"/><ellipse cx="1303.4" cy="1692.9" rx="4.6" ry="4.3"/><ellipse cx="1303.6" cy="1696.8" rx="4.6" ry="4.3"/><ellipse cx="1302.9" cy="1700.7" rx="4.6" ry="4.3"/><ellipse cx="1302.9" cy="1704.7" rx="4.6" ry="4.3"/><ellipse cx="1303.8" cy="1708.6" rx="4.6" ry="4.3"/><ellipse cx="1303.1" cy="1712.5" rx="4.6" ry="4.3"/><ellipse cx="1304.6" cy="1716.5" rx="4.6" ry="4.3"/><ellipse cx="1303.1" cy="1720.4" rx="4.6" ry="4.3"/><ellipse cx="1302.9" cy="1724.4" rx="4.6" ry="4.3"/><ellipse cx="1307.1" cy="1591.5" rx="4.6" ry="4.3"/><ellipse cx="1301.2" cy="1616.6" rx="4.6" ry="4.3"/><ellipse cx="1307.1" cy="1616.6" rx="4.6" ry="4.3"/><ellipse cx="1301.2" cy="1635.8" rx="4.6" ry="4.3"/><ellipse cx="1307.1" cy="1644.6" rx="4.6" ry="4.3"/><ellipse cx="1301.2" cy="1656.5" rx="4.6" ry="4.3"/><ellipse cx="1307.1" cy="1662.4" rx="4.6" ry="4.3"/><ellipse cx="1302.7" cy="1677.1" rx="4.6" ry="4.3"/><ellipse cx="1307.1" cy="1684.5" rx="4.6" ry="4.3"/><ellipse cx="1301.2" cy="1699.3" rx="4.6" ry="4.3"/><ellipse cx="1307.1" cy="1706.6" rx="4.6" ry="4.3"/><ellipse cx="1441.6" cy="1562.9" rx="4.6" ry="4.3"/><ellipse cx="1440.5" cy="1612.2" rx="4.6" ry="4.3"/><ellipse cx="1429.8" cy="1643.5" rx="4.6" ry="4.3"/><ellipse cx="1428.8" cy="1694.0" rx="4.6" ry="4.3"/><ellipse cx="1437.5" cy="1658.9" rx="4.6" ry="4.3"/><ellipse cx="1437.5" cy="1666.1" rx="4.6" ry="4.3"/><ellipse cx="1440.5" cy="1675.4" rx="4.6" ry="4.3"/><ellipse cx="1437.8" cy="1698.1" rx="4.6" ry="4.3"/><ellipse cx="1439.1" cy="1709.1" rx="4.6" ry="4.3"/><ellipse cx="1437.8" cy="1715.3" rx="4.6" ry="4.3"/><ellipse cx="1439.1" cy="1723.6" rx="4.6" ry="4.3"/><ellipse cx="1438.5" cy="1685.1" rx="4.6" ry="4.3"/><ellipse cx="1437.8" cy="1718.1" rx="4.6" ry="4.3"/><ellipse cx="1520.6" cy="1634.2" rx="4.6" ry="4.3"/><ellipse cx="1519.6" cy="1647.9" rx="4.6" ry="4.3"/><ellipse cx="1534.1" cy="1648.6" rx="4.6" ry="4.3"/><ellipse cx="1540.9" cy="1651.4" rx="4.6" ry="4.3"/><ellipse cx="1535.4" cy="1671.3" rx="4.6" ry="4.3"/><ellipse cx="1540.9" cy="1690.6" rx="4.6" ry="4.3"/><ellipse cx="1529.2" cy="1699.5" rx="4.6" ry="4.3"/><ellipse cx="1535.4" cy="1718.1" rx="4.6" ry="4.3"/><ellipse cx="1543.7" cy="1721.5" rx="4.6" ry="4.3"/><ellipse cx="1539.6" cy="1719.4" rx="4.6" ry="4.3"/><ellipse cx="1536.8" cy="1664.4" rx="4.6" ry="4.3"/><ellipse cx="1541.6" cy="1689.2" rx="4.6" ry="4.3"/><ellipse cx="1538.2" cy="1657.6" rx="4.6" ry="4.3"/><ellipse cx="1539.6" cy="1678.2" rx="4.6" ry="4.3"/><ellipse cx="1538.2" cy="1705.7" rx="4.6" ry="4.3"/><ellipse cx="1534.1" cy="1718.1" rx="4.6" ry="4.3"/></g>
<path d="M1136.7 1594.8V1690.6M1133.9 1594.8h5.6M1133.9 1690.6h5.6M1149.4 1512.7V1623.8M1146.6 1512.7h5.6M1146.6 1623.8h5.6M1159.1 1470.7V1593.0M1156.3 1470.7h5.6M1156.3 1593.0h5.6M1173.5 1485.6V1595.4M1170.7 1485.6h5.6M1170.7 1595.4h5.6M1183.4 1531.3V1650.8M1180.6 1531.3h5.6M1180.6 1650.8h5.6M1191.8 1547.2V1682.0M1189.0 1547.2h5.6M1189.0 1682.0h5.6M1092.8 1691.0V1768.5M1090.0 1691.0h5.6M1090.0 1768.5h5.6M1111.5 1696.2V1772.6M1108.7 1696.2h5.6M1108.7 1772.6h5.6M1119.0 1726.5V1800.2M1116.2 1726.5h5.6M1116.2 1800.2h5.6M1124.6 1727.4V1801.5M1121.8 1727.4h5.6M1121.8 1801.5h5.6M1140.4 1678.5V1758.2M1137.6 1678.5h5.6M1137.6 1758.2h5.6M1201.7 1625.7V1737.6M1198.9 1625.7h5.6M1198.9 1737.6h5.6M1210.6 1666.0V1755.5M1207.8 1666.0h5.6M1207.8 1755.5h5.6M1219.4 1661.2V1752.0M1216.6 1661.2h5.6M1216.6 1752.0h5.6M1227.1 1606.5V1712.2M1224.3 1606.5h5.6M1224.3 1712.2h5.6M1235.3 1633.8V1762.7M1232.5 1633.8h5.6M1232.5 1762.7h5.6M1240.1 1599.9V1730.7M1237.3 1599.9h5.6M1237.3 1730.7h5.6M1252.9 1626.1V1745.8M1250.1 1626.1h5.6M1250.1 1745.8h5.6M1255.3 1615.2V1736.9M1252.5 1615.2h5.6M1252.5 1736.9h5.6M1266.3 1643.3V1752.4M1263.5 1643.3h5.6M1263.5 1752.4h5.6M1275.2 1616.4V1726.8M1272.4 1616.4h5.6M1272.4 1726.8h5.6M1283.8 1630.5V1740.7M1281.0 1630.5h5.6M1281.0 1740.7h5.6M1290.4 1593.7V1713.8M1287.6 1593.7h5.6M1287.6 1713.8h5.6M1297.2 1663.3V1788.1M1294.4 1663.3h5.6M1294.4 1788.1h5.6M1303.8 1675.0V1793.3M1301.0 1675.0h5.6M1301.0 1793.3h5.6M1313.3 1661.8V1790.2M1310.5 1661.8h5.6M1310.5 1790.2h5.6M1320.6 1524.4V1670.9M1317.8 1524.4h5.6M1317.8 1670.9h5.6M1330.9 1626.1V1747.3M1328.1 1626.1h5.6M1328.1 1747.3h5.6M1339.1 1599.9V1732.4M1336.3 1599.9h5.6M1336.3 1732.4h5.6M1346.8 1623.4V1760.9M1344.0 1623.4h5.6M1344.0 1760.9h5.6M1355.6 1603.4V1744.4M1352.8 1603.4h5.6M1352.8 1744.4h5.6M1363.3 1729.3V1857.9M1360.5 1729.3h5.6M1360.5 1857.9h5.6M1372.1 1727.9V1850.0M1369.3 1727.9h5.6M1369.3 1850.0h5.6M1381.2 1757.2V1874.4M1378.4 1757.2h5.6M1378.4 1874.4h5.6M1391.1 1671.9V1802.6M1388.3 1671.9h5.6M1388.3 1802.6h5.6M1399.4 1655.0V1780.9M1396.6 1655.0h5.6M1396.6 1780.9h5.6M1410.5 1672.0V1797.9M1407.7 1672.0h5.6M1407.7 1797.9h5.6M1422.0 1670.6V1795.8M1419.2 1670.6h5.6M1419.2 1795.8h5.6M1450.4 1762.9V1850.6M1447.6 1762.9h5.6M1447.6 1850.6h5.6M1468.8 1721.0V1814.4M1466.0 1721.0h5.6M1466.0 1814.4h5.6" stroke="#ff0000" stroke-width="1.7" fill="none"/>
<g fill="#ff0000"><ellipse cx="1136.7" cy="1642.8" rx="4.6" ry="4.3"/><ellipse cx="1149.4" cy="1568.1" rx="4.6" ry="4.3"/><ellipse cx="1159.1" cy="1534.1" rx="4.6" ry="4.3"/><ellipse cx="1173.5" cy="1540.3" rx="4.6" ry="4.3"/><ellipse cx="1183.4" cy="1590.7" rx="4.6" ry="4.3"/><ellipse cx="1191.8" cy="1614.4" rx="4.6" ry="4.3"/><ellipse cx="1092.8" cy="1729.8" rx="4.6" ry="4.3"/><ellipse cx="1111.5" cy="1734.3" rx="4.6" ry="4.3"/><ellipse cx="1119.0" cy="1763.8" rx="4.6" ry="4.3"/><ellipse cx="1124.6" cy="1764.7" rx="4.6" ry="4.3"/><ellipse cx="1140.4" cy="1718.6" rx="4.6" ry="4.3"/><ellipse cx="1201.7" cy="1681.2" rx="4.6" ry="4.3"/><ellipse cx="1210.6" cy="1710.7" rx="4.6" ry="4.3"/><ellipse cx="1219.4" cy="1706.6" rx="4.6" ry="4.3"/><ellipse cx="1227.1" cy="1659.1" rx="4.6" ry="4.3"/><ellipse cx="1235.3" cy="1697.9" rx="4.6" ry="4.3"/><ellipse cx="1240.1" cy="1664.7" rx="4.6" ry="4.3"/><ellipse cx="1252.9" cy="1685.3" rx="4.6" ry="4.3"/><ellipse cx="1255.3" cy="1676.1" rx="4.6" ry="4.3"/><ellipse cx="1266.3" cy="1697.9" rx="4.6" ry="4.3"/><ellipse cx="1275.2" cy="1671.1" rx="4.6" ry="4.3"/><ellipse cx="1283.8" cy="1685.3" rx="4.6" ry="4.3"/><ellipse cx="1290.4" cy="1653.6" rx="4.6" ry="4.3"/><ellipse cx="1297.2" cy="1726.2" rx="4.6" ry="4.3"/><ellipse cx="1303.8" cy="1734.0" rx="4.6" ry="4.3"/><ellipse cx="1313.3" cy="1726.2" rx="4.6" ry="4.3"/><ellipse cx="1320.6" cy="1597.2" rx="4.6" ry="4.3"/><ellipse cx="1330.9" cy="1687.0" rx="4.6" ry="4.3"/><ellipse cx="1339.1" cy="1665.7" rx="4.6" ry="4.3"/><ellipse cx="1346.8" cy="1692.2" rx="4.6" ry="4.3"/><ellipse cx="1355.6" cy="1673.6" rx="4.6" ry="4.3"/><ellipse cx="1363.3" cy="1793.3" rx="4.6" ry="4.3"/><ellipse cx="1372.1" cy="1788.5" rx="4.6" ry="4.3"/><ellipse cx="1381.2" cy="1815.4" rx="4.6" ry="4.3"/><ellipse cx="1391.1" cy="1736.9" rx="4.6" ry="4.3"/><ellipse cx="1399.4" cy="1718.0" rx="4.6" ry="4.3"/><ellipse cx="1410.5" cy="1734.3" rx="4.6" ry="4.3"/><ellipse cx="1422.0" cy="1733.5" rx="4.6" ry="4.3"/><ellipse cx="1450.4" cy="1806.6" rx="4.6" ry="4.3"/><ellipse cx="1468.8" cy="1767.5" rx="4.6" ry="4.3"/></g>
</g>
<text x="1257.5" y="1942.3" font-family="'Liberation Serif','DejaVu Serif',serif" font-style="italic" font-size="23.5" fill="#444" text-anchor="middle">δ</text>
<text transform="translate(868.4 1678.8) rotate(-90) scale(1.078 1)" font-family="'DejaVu Sans','Liberation Sans',sans-serif" font-size="21" fill="#262626" text-anchor="middle">T<tspan font-size="16" dy="10">i</tspan><tspan dy="-10">/T</tspan><tspan font-size="16" dy="10">e</tspan></text>
<text x="1242" y="2022" font-family="'Liberation Serif','DejaVu Serif',serif" font-size="55" fill="#000" text-anchor="middle">(f)</text>
</svg>
</body></html>
